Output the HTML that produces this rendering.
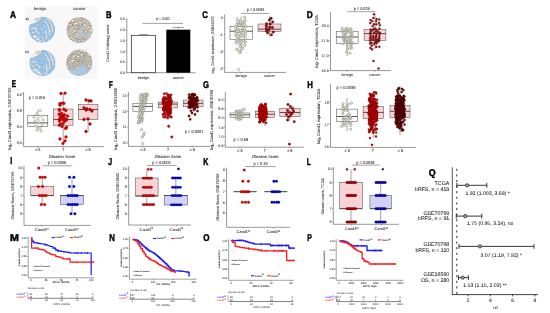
<!DOCTYPE html>
<html><head><meta charset="utf-8"><style>
html,body{margin:0;padding:0;background:#fff;width:550px;height:313px;overflow:hidden}
svg{display:block;filter:blur(0.3px)}
text{font-family:"Liberation Sans", sans-serif; text-rendering:geometricPrecision}
</style></head><body>
<svg width="550" height="313" viewBox="0 0 550 313">
<rect width="550" height="313" fill="#fff"/>
<text x="9.95" y="17.70" font-size="9.8" fill="#000" stroke="#000" stroke-width="0.45" font-weight="bold" textLength="6.00" lengthAdjust="spacingAndGlyphs">A</text>
<rect x="24.80" y="6.00" width="72.90" height="73.00" fill="#f8f8f8" stroke="none" stroke-width="0.5" />
<text x="40.00" y="9.80" font-size="4.0" text-anchor="middle" fill="#333" font-weight="normal"  stroke="#333" stroke-width="0.06">benign</text>
<text x="79.30" y="9.80" font-size="4.0" text-anchor="middle" fill="#333" font-weight="normal"  stroke="#333" stroke-width="0.06">cancer</text>
<text x="27.00" y="19.50" font-size="3.6" text-anchor="middle" fill="#333" font-weight="bold" >a)</text>
<text x="27.00" y="53.00" font-size="3.6" text-anchor="middle" fill="#333" font-weight="bold" >b)</text>
<clipPath id="cb1"><circle cx="42" cy="29.6" r="13.2"/></clipPath>
<g clip-path="url(#cb1)">
<circle cx="42.00" cy="29.60" r="13.20" fill="#98c0e2" stroke="none" stroke-width="0.3"/>
<ellipse cx="29.1" cy="25.2" rx="0.8" ry="0.6" fill="#c0d8ec" transform="rotate(171 29.1 25.2)"/>
<ellipse cx="42.9" cy="37.1" rx="0.5" ry="0.7" fill="#c0d8ec" transform="rotate(119 42.9 37.1)"/>
<ellipse cx="32.4" cy="33.6" rx="0.8" ry="0.5" fill="#8fb9dd" transform="rotate(17 32.4 33.6)"/>
<ellipse cx="29.3" cy="41.6" rx="0.8" ry="0.4" fill="#dde9f3" transform="rotate(71 29.3 41.6)"/>
<ellipse cx="44.6" cy="27.9" rx="1.1" ry="0.5" fill="#8fb9dd" transform="rotate(99 44.6 27.9)"/>
<ellipse cx="54.0" cy="39.6" rx="0.7" ry="0.4" fill="#dde9f3" transform="rotate(5 54.0 39.6)"/>
<ellipse cx="48.2" cy="40.2" rx="1.0" ry="0.4" fill="#dde9f3" transform="rotate(131 48.2 40.2)"/>
<ellipse cx="33.9" cy="35.7" rx="0.6" ry="0.3" fill="#dde9f3" transform="rotate(53 33.9 35.7)"/>
<ellipse cx="43.9" cy="32.5" rx="1.0" ry="0.4" fill="#c0d8ec" transform="rotate(176 43.9 32.5)"/>
<ellipse cx="55.0" cy="38.6" rx="0.7" ry="0.4" fill="#8fb9dd" transform="rotate(168 55.0 38.6)"/>
<ellipse cx="50.9" cy="28.8" rx="0.6" ry="0.3" fill="#8fb9dd" transform="rotate(67 50.9 28.8)"/>
<ellipse cx="54.1" cy="36.3" rx="0.7" ry="0.4" fill="#c0d8ec" transform="rotate(21 54.1 36.3)"/>
<ellipse cx="34.1" cy="29.6" rx="0.8" ry="0.3" fill="#8fb9dd" transform="rotate(21 34.1 29.6)"/>
<ellipse cx="31.4" cy="42.5" rx="0.5" ry="0.4" fill="#dde9f3" transform="rotate(29 31.4 42.5)"/>
<ellipse cx="54.9" cy="26.0" rx="0.5" ry="0.5" fill="#8fb9dd" transform="rotate(50 54.9 26.0)"/>
<ellipse cx="38.6" cy="35.1" rx="1.0" ry="0.3" fill="#c0d8ec" transform="rotate(87 38.6 35.1)"/>
<ellipse cx="49.8" cy="35.0" rx="0.8" ry="0.6" fill="#c0d8ec" transform="rotate(46 49.8 35.0)"/>
<ellipse cx="49.0" cy="42.5" rx="0.7" ry="0.3" fill="#dde9f3" transform="rotate(105 49.0 42.5)"/>
<ellipse cx="40.6" cy="42.7" rx="0.5" ry="0.5" fill="#8fb9dd" transform="rotate(9 40.6 42.7)"/>
<ellipse cx="45.0" cy="27.1" rx="0.6" ry="0.6" fill="#dde9f3" transform="rotate(124 45.0 27.1)"/>
<ellipse cx="43.4" cy="34.1" rx="0.9" ry="0.6" fill="#8fb9dd" transform="rotate(72 43.4 34.1)"/>
<ellipse cx="42.6" cy="37.2" rx="0.8" ry="0.6" fill="#dde9f3" transform="rotate(59 42.6 37.2)"/>
<ellipse cx="38.6" cy="33.3" rx="0.7" ry="0.4" fill="#dde9f3" transform="rotate(124 38.6 33.3)"/>
<ellipse cx="44.1" cy="26.3" rx="1.2" ry="0.3" fill="#dde9f3" transform="rotate(37 44.1 26.3)"/>
<ellipse cx="35.3" cy="40.5" rx="0.6" ry="0.7" fill="#dde9f3" transform="rotate(97 35.3 40.5)"/>
<ellipse cx="35.2" cy="38.4" rx="1.1" ry="0.6" fill="#c0d8ec" transform="rotate(85 35.2 38.4)"/>
<ellipse cx="50.7" cy="28.4" rx="0.9" ry="0.5" fill="#8fb9dd" transform="rotate(65 50.7 28.4)"/>
<ellipse cx="39.4" cy="39.2" rx="0.7" ry="0.4" fill="#c0d8ec" transform="rotate(58 39.4 39.2)"/>
<ellipse cx="36.6" cy="42.0" rx="0.5" ry="0.4" fill="#c0d8ec" transform="rotate(159 36.6 42.0)"/>
<ellipse cx="47.1" cy="40.6" rx="0.8" ry="0.6" fill="#8fb9dd" transform="rotate(33 47.1 40.6)"/>
<ellipse cx="29.7" cy="32.6" rx="0.7" ry="0.5" fill="#c0d8ec" transform="rotate(177 29.7 32.6)"/>
<ellipse cx="36.1" cy="28.4" rx="0.7" ry="0.7" fill="#c0d8ec" transform="rotate(104 36.1 28.4)"/>
<ellipse cx="39.5" cy="38.4" rx="0.6" ry="0.5" fill="#8fb9dd" transform="rotate(97 39.5 38.4)"/>
<ellipse cx="37.2" cy="24.9" rx="0.9" ry="0.4" fill="#dde9f3" transform="rotate(163 37.2 24.9)"/>
<ellipse cx="41.8" cy="29.1" rx="0.8" ry="0.7" fill="#dde9f3" transform="rotate(56 41.8 29.1)"/>
<ellipse cx="39.0" cy="36.4" rx="0.9" ry="0.4" fill="#dde9f3" transform="rotate(9 39.0 36.4)"/>
<ellipse cx="43.9" cy="42.0" rx="0.6" ry="0.6" fill="#dde9f3" transform="rotate(123 43.9 42.0)"/>
<ellipse cx="37.3" cy="42.5" rx="1.1" ry="0.3" fill="#c0d8ec" transform="rotate(131 37.3 42.5)"/>
<ellipse cx="48.9" cy="31.5" rx="1.1" ry="0.4" fill="#c0d8ec" transform="rotate(168 48.9 31.5)"/>
<ellipse cx="34.7" cy="40.1" rx="0.9" ry="0.3" fill="#dde9f3" transform="rotate(145 34.7 40.1)"/>
<ellipse cx="40.4" cy="32.5" rx="0.8" ry="0.6" fill="#8fb9dd" transform="rotate(149 40.4 32.5)"/>
<ellipse cx="48.0" cy="29.7" rx="0.6" ry="0.3" fill="#dde9f3" transform="rotate(10 48.0 29.7)"/>
<ellipse cx="43.8" cy="41.0" rx="0.7" ry="0.5" fill="#dde9f3" transform="rotate(39 43.8 41.0)"/>
<ellipse cx="30.3" cy="40.2" rx="0.8" ry="0.7" fill="#dde9f3" transform="rotate(81 30.3 40.2)"/>
<ellipse cx="39.4" cy="39.2" rx="1.1" ry="0.7" fill="#8fb9dd" transform="rotate(93 39.4 39.2)"/>
<ellipse cx="37.2" cy="27.7" rx="0.6" ry="0.3" fill="#c0d8ec" transform="rotate(25 37.2 27.7)"/>
<ellipse cx="44.3" cy="40.2" rx="1.2" ry="0.4" fill="#dde9f3" transform="rotate(84 44.3 40.2)"/>
<ellipse cx="36.1" cy="29.7" rx="1.2" ry="0.6" fill="#dde9f3" transform="rotate(108 36.1 29.7)"/>
<ellipse cx="50.5" cy="31.3" rx="0.5" ry="0.6" fill="#dde9f3" transform="rotate(146 50.5 31.3)"/>
<ellipse cx="54.3" cy="25.3" rx="1.2" ry="0.6" fill="#dde9f3" transform="rotate(48 54.3 25.3)"/>
<polygon points="28.0,25.1 32.0,24.1 35.5,22.6 38.5,21.1 40.2,18.6 40.8,15.6 28.0,15.6" fill="#f2f2f0"/>
<ellipse cx="37.7" cy="19.200000000000003" rx="3.0" ry="1.8" fill="#dccfb9"/>
<ellipse cx="35" cy="36.6" rx="2.2" ry="1.3" fill="#e6eef4" stroke="#c9b9a0" stroke-width="0.3"/>
<ellipse cx="38" cy="39.1" rx="1.8" ry="1.2" fill="#e6eef4" stroke="#c9b9a0" stroke-width="0.3"/>
<ellipse cx="33" cy="32.6" rx="1.5" ry="0.8" fill="#e6eef4" stroke="#c9b9a0" stroke-width="0.3"/>
<ellipse cx="40" cy="41.1" rx="1.5" ry="0.9" fill="#e6eef4" stroke="#c9b9a0" stroke-width="0.3"/>
<path d="M44.5,20.6 Q49.5,25.6 49.5,34.6" fill="none" stroke="#c7b9a2" stroke-width="1.2" stroke-linecap="round" opacity="0.8"/>
<path d="M44.5,20.6 Q49.5,25.6 49.5,34.6" fill="none" stroke="#f3f6f8" stroke-width="0.75" stroke-linecap="round"/>
<path d="M47.5,18.6 Q52.5,23.6 52.5,31.6" fill="none" stroke="#c7b9a2" stroke-width="1.2" stroke-linecap="round" opacity="0.8"/>
<path d="M47.5,18.6 Q52.5,23.6 52.5,31.6" fill="none" stroke="#f3f6f8" stroke-width="0.75" stroke-linecap="round"/>
<path d="M45.5,30.6 Q47,34.6 46.5,38.6" fill="none" stroke="#c7b9a2" stroke-width="1.2" stroke-linecap="round" opacity="0.8"/>
<path d="M45.5,30.6 Q47,34.6 46.5,38.6" fill="none" stroke="#f3f6f8" stroke-width="0.75" stroke-linecap="round"/>
<path d="M36,31.1 L39.5,33.6" fill="none" stroke="#c7b9a2" stroke-width="1.2" stroke-linecap="round" opacity="0.8"/>
<path d="M36,31.1 L39.5,33.6" fill="none" stroke="#f3f6f8" stroke-width="0.75" stroke-linecap="round"/>
<path d="M31,28.6 L36,28.1" fill="none" stroke="#c7b9a2" stroke-width="1.2" stroke-linecap="round" opacity="0.8"/>
<path d="M31,28.6 L36,28.1" fill="none" stroke="#f3f6f8" stroke-width="0.75" stroke-linecap="round"/>
</g>
<clipPath id="cb2"><circle cx="42.5" cy="63" r="13.2"/></clipPath>
<g clip-path="url(#cb2)">
<circle cx="42.50" cy="63.00" r="13.20" fill="#98c0e2" stroke="none" stroke-width="0.3"/>
<ellipse cx="53.8" cy="59.8" rx="1.3" ry="0.4" fill="#dde9f3" transform="rotate(56 53.8 59.8)"/>
<ellipse cx="47.0" cy="59.8" rx="0.6" ry="0.3" fill="#dde9f3" transform="rotate(177 47.0 59.8)"/>
<ellipse cx="33.8" cy="58.8" rx="0.8" ry="0.5" fill="#dde9f3" transform="rotate(171 33.8 58.8)"/>
<ellipse cx="46.4" cy="70.1" rx="1.0" ry="0.4" fill="#dde9f3" transform="rotate(101 46.4 70.1)"/>
<ellipse cx="45.6" cy="74.9" rx="0.7" ry="0.4" fill="#dde9f3" transform="rotate(162 45.6 74.9)"/>
<ellipse cx="29.7" cy="73.5" rx="0.9" ry="0.4" fill="#8fb9dd" transform="rotate(50 29.7 73.5)"/>
<ellipse cx="33.9" cy="70.9" rx="0.9" ry="0.5" fill="#c0d8ec" transform="rotate(27 33.9 70.9)"/>
<ellipse cx="33.0" cy="69.2" rx="0.8" ry="0.5" fill="#dde9f3" transform="rotate(152 33.0 69.2)"/>
<ellipse cx="39.1" cy="67.6" rx="1.2" ry="0.4" fill="#dde9f3" transform="rotate(98 39.1 67.6)"/>
<ellipse cx="39.5" cy="64.3" rx="0.4" ry="0.5" fill="#8fb9dd" transform="rotate(13 39.5 64.3)"/>
<ellipse cx="55.1" cy="71.1" rx="0.8" ry="0.6" fill="#c0d8ec" transform="rotate(115 55.1 71.1)"/>
<ellipse cx="38.1" cy="69.9" rx="1.2" ry="0.7" fill="#c0d8ec" transform="rotate(118 38.1 69.9)"/>
<ellipse cx="36.2" cy="76.0" rx="1.3" ry="0.7" fill="#dde9f3" transform="rotate(169 36.2 76.0)"/>
<ellipse cx="44.4" cy="73.0" rx="0.8" ry="0.3" fill="#8fb9dd" transform="rotate(46 44.4 73.0)"/>
<ellipse cx="39.2" cy="61.0" rx="1.0" ry="0.4" fill="#8fb9dd" transform="rotate(7 39.2 61.0)"/>
<ellipse cx="39.9" cy="71.9" rx="0.8" ry="0.4" fill="#c0d8ec" transform="rotate(31 39.9 71.9)"/>
<ellipse cx="37.4" cy="71.7" rx="1.1" ry="0.4" fill="#c0d8ec" transform="rotate(31 37.4 71.7)"/>
<ellipse cx="55.5" cy="69.7" rx="0.7" ry="0.6" fill="#8fb9dd" transform="rotate(174 55.5 69.7)"/>
<ellipse cx="42.8" cy="61.4" rx="1.2" ry="0.4" fill="#8fb9dd" transform="rotate(46 42.8 61.4)"/>
<ellipse cx="43.1" cy="75.5" rx="0.8" ry="0.4" fill="#c0d8ec" transform="rotate(61 43.1 75.5)"/>
<ellipse cx="41.4" cy="66.5" rx="0.4" ry="0.6" fill="#dde9f3" transform="rotate(5 41.4 66.5)"/>
<ellipse cx="32.9" cy="70.5" rx="0.7" ry="0.4" fill="#8fb9dd" transform="rotate(68 32.9 70.5)"/>
<ellipse cx="50.9" cy="59.6" rx="0.8" ry="0.5" fill="#dde9f3" transform="rotate(107 50.9 59.6)"/>
<ellipse cx="53.4" cy="73.5" rx="1.2" ry="0.6" fill="#dde9f3" transform="rotate(134 53.4 73.5)"/>
<ellipse cx="47.4" cy="71.4" rx="0.5" ry="0.4" fill="#8fb9dd" transform="rotate(3 47.4 71.4)"/>
<ellipse cx="36.5" cy="74.5" rx="1.0" ry="0.3" fill="#dde9f3" transform="rotate(57 36.5 74.5)"/>
<ellipse cx="53.5" cy="62.6" rx="1.3" ry="0.4" fill="#c0d8ec" transform="rotate(25 53.5 62.6)"/>
<ellipse cx="42.6" cy="63.5" rx="1.2" ry="0.6" fill="#8fb9dd" transform="rotate(30 42.6 63.5)"/>
<ellipse cx="48.3" cy="59.5" rx="1.1" ry="0.6" fill="#dde9f3" transform="rotate(98 48.3 59.5)"/>
<ellipse cx="55.7" cy="73.1" rx="0.4" ry="0.7" fill="#8fb9dd" transform="rotate(10 55.7 73.1)"/>
<ellipse cx="44.3" cy="67.8" rx="1.2" ry="0.6" fill="#dde9f3" transform="rotate(21 44.3 67.8)"/>
<ellipse cx="33.6" cy="61.9" rx="1.0" ry="0.4" fill="#c0d8ec" transform="rotate(35 33.6 61.9)"/>
<ellipse cx="41.9" cy="65.2" rx="0.9" ry="0.7" fill="#8fb9dd" transform="rotate(17 41.9 65.2)"/>
<ellipse cx="43.0" cy="58.1" rx="1.1" ry="0.7" fill="#8fb9dd" transform="rotate(164 43.0 58.1)"/>
<ellipse cx="30.7" cy="60.4" rx="0.9" ry="0.4" fill="#8fb9dd" transform="rotate(138 30.7 60.4)"/>
<ellipse cx="52.0" cy="63.7" rx="0.9" ry="0.6" fill="#8fb9dd" transform="rotate(125 52.0 63.7)"/>
<ellipse cx="48.7" cy="68.8" rx="0.8" ry="0.5" fill="#dde9f3" transform="rotate(59 48.7 68.8)"/>
<ellipse cx="49.4" cy="74.7" rx="0.4" ry="0.4" fill="#c0d8ec" transform="rotate(15 49.4 74.7)"/>
<ellipse cx="41.9" cy="62.9" rx="0.8" ry="0.3" fill="#dde9f3" transform="rotate(66 41.9 62.9)"/>
<ellipse cx="34.4" cy="70.7" rx="0.8" ry="0.3" fill="#c0d8ec" transform="rotate(110 34.4 70.7)"/>
<ellipse cx="51.0" cy="57.6" rx="0.7" ry="0.7" fill="#dde9f3" transform="rotate(53 51.0 57.6)"/>
<ellipse cx="43.0" cy="60.7" rx="0.8" ry="0.7" fill="#8fb9dd" transform="rotate(17 43.0 60.7)"/>
<ellipse cx="36.2" cy="72.2" rx="1.0" ry="0.5" fill="#dde9f3" transform="rotate(93 36.2 72.2)"/>
<ellipse cx="31.2" cy="64.9" rx="0.8" ry="0.5" fill="#dde9f3" transform="rotate(141 31.2 64.9)"/>
<ellipse cx="54.2" cy="64.3" rx="1.2" ry="0.4" fill="#dde9f3" transform="rotate(135 54.2 64.3)"/>
<ellipse cx="52.7" cy="66.9" rx="0.5" ry="0.5" fill="#8fb9dd" transform="rotate(53 52.7 66.9)"/>
<ellipse cx="44.3" cy="73.5" rx="1.0" ry="0.5" fill="#dde9f3" transform="rotate(82 44.3 73.5)"/>
<ellipse cx="46.5" cy="73.3" rx="1.0" ry="0.7" fill="#dde9f3" transform="rotate(63 46.5 73.3)"/>
<ellipse cx="29.5" cy="72.9" rx="0.9" ry="0.3" fill="#8fb9dd" transform="rotate(95 29.5 72.9)"/>
<ellipse cx="43.9" cy="59.0" rx="0.7" ry="0.7" fill="#dde9f3" transform="rotate(119 43.9 59.0)"/>
<polygon points="28.5,58.5 32.5,57.5 36.0,56.0 39.0,54.5 40.7,52.0 41.3,49.0 28.5,49.0" fill="#f2f2f0"/>
<ellipse cx="38.2" cy="52.6" rx="3.0" ry="1.8" fill="#dccfb9"/>
<ellipse cx="35.5" cy="70" rx="2.2" ry="1.3" fill="#e6eef4" stroke="#c9b9a0" stroke-width="0.3"/>
<ellipse cx="38.5" cy="72.5" rx="1.8" ry="1.2" fill="#e6eef4" stroke="#c9b9a0" stroke-width="0.3"/>
<ellipse cx="33.5" cy="66" rx="1.5" ry="0.8" fill="#e6eef4" stroke="#c9b9a0" stroke-width="0.3"/>
<ellipse cx="40.5" cy="74.5" rx="1.5" ry="0.9" fill="#e6eef4" stroke="#c9b9a0" stroke-width="0.3"/>
<path d="M45.0,54 Q50.0,59 50.0,68" fill="none" stroke="#c7b9a2" stroke-width="1.2" stroke-linecap="round" opacity="0.8"/>
<path d="M45.0,54 Q50.0,59 50.0,68" fill="none" stroke="#f3f6f8" stroke-width="0.75" stroke-linecap="round"/>
<path d="M48.0,52 Q53.0,57 53.0,65" fill="none" stroke="#c7b9a2" stroke-width="1.2" stroke-linecap="round" opacity="0.8"/>
<path d="M48.0,52 Q53.0,57 53.0,65" fill="none" stroke="#f3f6f8" stroke-width="0.75" stroke-linecap="round"/>
<path d="M46.0,64 Q47.5,68 47.0,72" fill="none" stroke="#c7b9a2" stroke-width="1.2" stroke-linecap="round" opacity="0.8"/>
<path d="M46.0,64 Q47.5,68 47.0,72" fill="none" stroke="#f3f6f8" stroke-width="0.75" stroke-linecap="round"/>
<path d="M36.5,64.5 L40.0,67" fill="none" stroke="#c7b9a2" stroke-width="1.2" stroke-linecap="round" opacity="0.8"/>
<path d="M36.5,64.5 L40.0,67" fill="none" stroke="#f3f6f8" stroke-width="0.75" stroke-linecap="round"/>
<path d="M31.5,62 L36.5,61.5" fill="none" stroke="#c7b9a2" stroke-width="1.2" stroke-linecap="round" opacity="0.8"/>
<path d="M31.5,62 L36.5,61.5" fill="none" stroke="#f3f6f8" stroke-width="0.75" stroke-linecap="round"/>
</g>
<clipPath id="cc1"><circle cx="79.5" cy="30.0" r="13.0"/></clipPath>
<g clip-path="url(#cc1)">
<circle cx="79.50" cy="30.00" r="13.00" fill="#cbc6bd" stroke="none" stroke-width="0.3"/>
<ellipse cx="83.5" cy="36.0" rx="4" ry="2.5" fill="#a9c8e3" transform="rotate(30 83.5 36.0)"/>
<ellipse cx="87.5" cy="32.0" rx="2.5" ry="1.5" fill="#a9c8e3" transform="rotate(60 87.5 32.0)"/>
<ellipse cx="77.5" cy="40.0" rx="3" ry="1.5" fill="#a9c8e3" transform="rotate(0 77.5 40.0)"/>
<ellipse cx="80.5" cy="27.0" rx="1.2" ry="4" fill="#a9c8e3" transform="rotate(10 80.5 27.0)"/>
<ellipse cx="90.0" cy="34.8" rx="1.9" ry="1.1" fill="#f7f7f5" stroke="#806c57" stroke-width="0.4" transform="rotate(47 90.0 34.8)"/>
<ellipse cx="83.0" cy="40.5" rx="2.0" ry="0.9" fill="#f7f7f5" stroke="#806c57" stroke-width="0.4" transform="rotate(30 83.0 40.5)"/>
<ellipse cx="77.2" cy="42.8" rx="0.9" ry="0.7" fill="#f7f7f5" stroke="#806c57" stroke-width="0.4" transform="rotate(171 77.2 42.8)"/>
<ellipse cx="78.2" cy="22.4" rx="1.2" ry="1.1" fill="#f7f7f5" stroke="#806c57" stroke-width="0.4" transform="rotate(60 78.2 22.4)"/>
<ellipse cx="77.6" cy="33.3" rx="1.9" ry="0.8" fill="#f7f7f5" stroke="#806c57" stroke-width="0.4" transform="rotate(15 77.6 33.3)"/>
<ellipse cx="81.4" cy="17.9" rx="0.9" ry="0.6" fill="#f7f7f5" stroke="#806c57" stroke-width="0.4" transform="rotate(125 81.4 17.9)"/>
<ellipse cx="73.9" cy="34.9" rx="1.0" ry="0.6" fill="#f7f7f5" stroke="#806c57" stroke-width="0.4" transform="rotate(4 73.9 34.9)"/>
<ellipse cx="84.9" cy="39.3" rx="1.1" ry="0.7" fill="#f7f7f5" stroke="#806c57" stroke-width="0.4" transform="rotate(2 84.9 39.3)"/>
<ellipse cx="83.3" cy="24.8" rx="1.0" ry="1.0" fill="#f7f7f5" stroke="#806c57" stroke-width="0.4" transform="rotate(108 83.3 24.8)"/>
<ellipse cx="78.1" cy="21.0" rx="1.7" ry="0.9" fill="#f7f7f5" stroke="#806c57" stroke-width="0.4" transform="rotate(78 78.1 21.0)"/>
<ellipse cx="70.8" cy="41.1" rx="2.0" ry="1.0" fill="#f7f7f5" stroke="#806c57" stroke-width="0.4" transform="rotate(179 70.8 41.1)"/>
<ellipse cx="81.6" cy="26.0" rx="1.0" ry="0.9" fill="#f7f7f5" stroke="#806c57" stroke-width="0.4" transform="rotate(94 81.6 26.0)"/>
<ellipse cx="77.8" cy="42.8" rx="2.0" ry="0.6" fill="#f7f7f5" stroke="#806c57" stroke-width="0.4" transform="rotate(159 77.8 42.8)"/>
<ellipse cx="66.6" cy="33.9" rx="1.2" ry="1.0" fill="#f7f7f5" stroke="#806c57" stroke-width="0.4" transform="rotate(171 66.6 33.9)"/>
<ellipse cx="80.3" cy="36.8" rx="0.9" ry="1.0" fill="#f7f7f5" stroke="#806c57" stroke-width="0.4" transform="rotate(21 80.3 36.8)"/>
<ellipse cx="78.3" cy="25.7" rx="0.9" ry="1.0" fill="#f7f7f5" stroke="#806c57" stroke-width="0.4" transform="rotate(17 78.3 25.7)"/>
<ellipse cx="73.2" cy="19.2" rx="1.7" ry="0.7" fill="#f7f7f5" stroke="#806c57" stroke-width="0.4" transform="rotate(8 73.2 19.2)"/>
<ellipse cx="67.2" cy="22.7" rx="1.5" ry="0.5" fill="#f7f7f5" stroke="#806c57" stroke-width="0.4" transform="rotate(4 67.2 22.7)"/>
<ellipse cx="83.8" cy="30.7" rx="1.0" ry="0.7" fill="#f7f7f5" stroke="#806c57" stroke-width="0.4" transform="rotate(23 83.8 30.7)"/>
<ellipse cx="73.7" cy="27.1" rx="1.1" ry="0.6" fill="#f7f7f5" stroke="#806c57" stroke-width="0.4" transform="rotate(41 73.7 27.1)"/>
<ellipse cx="74.3" cy="31.4" rx="2.0" ry="1.0" fill="#f7f7f5" stroke="#806c57" stroke-width="0.4" transform="rotate(81 74.3 31.4)"/>
<ellipse cx="66.6" cy="21.9" rx="1.7" ry="0.8" fill="#f7f7f5" stroke="#806c57" stroke-width="0.4" transform="rotate(152 66.6 21.9)"/>
<ellipse cx="90.1" cy="24.7" rx="1.3" ry="0.7" fill="#f7f7f5" stroke="#806c57" stroke-width="0.4" transform="rotate(122 90.1 24.7)"/>
<ellipse cx="69.1" cy="24.2" rx="2.0" ry="0.8" fill="#f7f7f5" stroke="#806c57" stroke-width="0.4" transform="rotate(175 69.1 24.2)"/>
<ellipse cx="76.8" cy="38.8" rx="1.4" ry="0.6" fill="#f7f7f5" stroke="#806c57" stroke-width="0.4" transform="rotate(104 76.8 38.8)"/>
<ellipse cx="72.0" cy="40.9" rx="1.8" ry="0.9" fill="#f7f7f5" stroke="#806c57" stroke-width="0.4" transform="rotate(166 72.0 40.9)"/>
<ellipse cx="80.7" cy="42.1" rx="1.8" ry="0.6" fill="#f7f7f5" stroke="#806c57" stroke-width="0.4" transform="rotate(53 80.7 42.1)"/>
<ellipse cx="88.5" cy="19.6" rx="2.2" ry="0.5" fill="#f7f7f5" stroke="#806c57" stroke-width="0.4" transform="rotate(135 88.5 19.6)"/>
<ellipse cx="82.6" cy="27.6" rx="1.6" ry="0.9" fill="#f7f7f5" stroke="#806c57" stroke-width="0.4" transform="rotate(65 82.6 27.6)"/>
<ellipse cx="73.9" cy="18.3" rx="1.7" ry="1.1" fill="#f7f7f5" stroke="#806c57" stroke-width="0.4" transform="rotate(68 73.9 18.3)"/>
<ellipse cx="88.8" cy="27.3" rx="1.2" ry="1.1" fill="#f7f7f5" stroke="#806c57" stroke-width="0.4" transform="rotate(167 88.8 27.3)"/>
<ellipse cx="68.9" cy="39.7" rx="1.2" ry="1.0" fill="#f7f7f5" stroke="#806c57" stroke-width="0.4" transform="rotate(53 68.9 39.7)"/>
<ellipse cx="92.2" cy="25.8" rx="1.1" ry="0.5" fill="#f7f7f5" stroke="#806c57" stroke-width="0.4" transform="rotate(24 92.2 25.8)"/>
<ellipse cx="68.9" cy="38.3" rx="0.8" ry="0.6" fill="#f7f7f5" stroke="#806c57" stroke-width="0.4" transform="rotate(43 68.9 38.3)"/>
<ellipse cx="70.2" cy="37.2" rx="0.8" ry="1.0" fill="#f7f7f5" stroke="#806c57" stroke-width="0.4" transform="rotate(63 70.2 37.2)"/>
<ellipse cx="70.3" cy="23.0" rx="1.5" ry="0.7" fill="#f7f7f5" stroke="#806c57" stroke-width="0.4" transform="rotate(70 70.3 23.0)"/>
<ellipse cx="76.6" cy="30.9" rx="1.8" ry="0.7" fill="#f7f7f5" stroke="#806c57" stroke-width="0.4" transform="rotate(110 76.6 30.9)"/>
<ellipse cx="85.1" cy="24.7" rx="1.9" ry="0.6" fill="#f7f7f5" stroke="#806c57" stroke-width="0.4" transform="rotate(89 85.1 24.7)"/>
<ellipse cx="75.7" cy="20.3" rx="1.7" ry="1.1" fill="#f7f7f5" stroke="#806c57" stroke-width="0.4" transform="rotate(87 75.7 20.3)"/>
<ellipse cx="75.7" cy="40.5" rx="2.2" ry="0.9" fill="#f7f7f5" stroke="#806c57" stroke-width="0.4" transform="rotate(101 75.7 40.5)"/>
<ellipse cx="83.1" cy="35.3" rx="1.8" ry="0.9" fill="#f7f7f5" stroke="#806c57" stroke-width="0.4" transform="rotate(135 83.1 35.3)"/>
<ellipse cx="85.9" cy="33.8" rx="1.5" ry="0.8" fill="#f7f7f5" stroke="#806c57" stroke-width="0.4" transform="rotate(39 85.9 33.8)"/>
<ellipse cx="79.7" cy="25.0" rx="1.5" ry="0.6" fill="#f7f7f5" stroke="#806c57" stroke-width="0.4" transform="rotate(163 79.7 25.0)"/>
<ellipse cx="69.8" cy="39.9" rx="1.6" ry="1.1" fill="#f7f7f5" stroke="#806c57" stroke-width="0.4" transform="rotate(159 69.8 39.9)"/>
<ellipse cx="70.9" cy="24.1" rx="2.2" ry="1.0" fill="#f7f7f5" stroke="#806c57" stroke-width="0.4" transform="rotate(15 70.9 24.1)"/>
<ellipse cx="73.4" cy="19.5" rx="1.2" ry="0.6" fill="#f7f7f5" stroke="#806c57" stroke-width="0.4" transform="rotate(7 73.4 19.5)"/>
<ellipse cx="67.7" cy="29.3" rx="1.8" ry="0.9" fill="#f7f7f5" stroke="#806c57" stroke-width="0.4" transform="rotate(121 67.7 29.3)"/>
<ellipse cx="83.5" cy="20.5" rx="1.8" ry="0.9" fill="#f7f7f5" stroke="#806c57" stroke-width="0.4" transform="rotate(75 83.5 20.5)"/>
<ellipse cx="91.5" cy="28.8" rx="1.8" ry="1.0" fill="#f7f7f5" stroke="#806c57" stroke-width="0.4" transform="rotate(87 91.5 28.8)"/>
<ellipse cx="70.5" cy="21.9" rx="1.2" ry="0.6" fill="#f7f7f5" stroke="#806c57" stroke-width="0.4" transform="rotate(72 70.5 21.9)"/>
<ellipse cx="68.3" cy="37.0" rx="1.9" ry="0.9" fill="#f7f7f5" stroke="#806c57" stroke-width="0.4" transform="rotate(21 68.3 37.0)"/>
<ellipse cx="72.2" cy="40.4" rx="2.0" ry="1.0" fill="#f7f7f5" stroke="#806c57" stroke-width="0.4" transform="rotate(156 72.2 40.4)"/>
<ellipse cx="71.9" cy="24.5" rx="1.4" ry="0.8" fill="#f7f7f5" stroke="#806c57" stroke-width="0.4" transform="rotate(66 71.9 24.5)"/>
<ellipse cx="72.9" cy="38.1" rx="1.1" ry="0.9" fill="#f7f7f5" stroke="#806c57" stroke-width="0.4" transform="rotate(147 72.9 38.1)"/>
<ellipse cx="70.4" cy="25.7" rx="1.3" ry="0.7" fill="#f7f7f5" stroke="#806c57" stroke-width="0.4" transform="rotate(165 70.4 25.7)"/>
<ellipse cx="89.3" cy="20.3" rx="0.9" ry="0.9" fill="#f7f7f5" stroke="#806c57" stroke-width="0.4" transform="rotate(91 89.3 20.3)"/>
<ellipse cx="67.5" cy="39.5" rx="2.0" ry="0.9" fill="#f7f7f5" stroke="#806c57" stroke-width="0.4" transform="rotate(16 67.5 39.5)"/>
<ellipse cx="71.5" cy="38.8" rx="1.8" ry="0.8" fill="#f7f7f5" stroke="#806c57" stroke-width="0.4" transform="rotate(168 71.5 38.8)"/>
<ellipse cx="67.6" cy="34.8" rx="2.0" ry="1.1" fill="#f7f7f5" stroke="#806c57" stroke-width="0.4" transform="rotate(17 67.6 34.8)"/>
<ellipse cx="84.8" cy="31.7" rx="1.7" ry="0.6" fill="#f7f7f5" stroke="#806c57" stroke-width="0.4" transform="rotate(173 84.8 31.7)"/>
<ellipse cx="91.7" cy="20.0" rx="1.6" ry="0.9" fill="#f7f7f5" stroke="#806c57" stroke-width="0.4" transform="rotate(80 91.7 20.0)"/>
<ellipse cx="75.2" cy="23.2" rx="1.8" ry="0.9" fill="#f7f7f5" stroke="#806c57" stroke-width="0.4" transform="rotate(81 75.2 23.2)"/>
<ellipse cx="79.7" cy="24.4" rx="2.1" ry="1.0" fill="#f7f7f5" stroke="#806c57" stroke-width="0.4" transform="rotate(47 79.7 24.4)"/>
<ellipse cx="74.5" cy="30.9" rx="1.7" ry="1.1" fill="#f7f7f5" stroke="#806c57" stroke-width="0.4" transform="rotate(167 74.5 30.9)"/>
<ellipse cx="68.1" cy="39.5" rx="0.8" ry="0.9" fill="#f7f7f5" stroke="#806c57" stroke-width="0.4" transform="rotate(139 68.1 39.5)"/>
<ellipse cx="71.1" cy="22.9" rx="0.9" ry="0.8" fill="#f7f7f5" stroke="#806c57" stroke-width="0.4" transform="rotate(150 71.1 22.9)"/>
<ellipse cx="66.5" cy="36.6" rx="1.3" ry="1.2" fill="#f7f7f5" stroke="#806c57" stroke-width="0.4" transform="rotate(101 66.5 36.6)"/>
<ellipse cx="78.5" cy="24.4" rx="2.0" ry="0.8" fill="#f7f7f5" stroke="#806c57" stroke-width="0.4" transform="rotate(126 78.5 24.4)"/>
<ellipse cx="83.7" cy="38.3" rx="1.2" ry="0.6" fill="#f7f7f5" stroke="#806c57" stroke-width="0.4" transform="rotate(34 83.7 38.3)"/>
<ellipse cx="82.7" cy="20.1" rx="0.8" ry="0.7" fill="#f7f7f5" stroke="#806c57" stroke-width="0.4" transform="rotate(119 82.7 20.1)"/>
<ellipse cx="71.2" cy="24.6" rx="1.0" ry="1.2" fill="#f7f7f5" stroke="#806c57" stroke-width="0.4" transform="rotate(164 71.2 24.6)"/>
<ellipse cx="92.2" cy="33.5" rx="1.3" ry="0.7" fill="#f7f7f5" stroke="#806c57" stroke-width="0.4" transform="rotate(61 92.2 33.5)"/>
<ellipse cx="86.8" cy="31.1" rx="1.0" ry="1.1" fill="#f7f7f5" stroke="#806c57" stroke-width="0.4" transform="rotate(154 86.8 31.1)"/>
<ellipse cx="66.8" cy="19.4" rx="1.5" ry="0.8" fill="#f7f7f5" stroke="#806c57" stroke-width="0.4" transform="rotate(149 66.8 19.4)"/>
<ellipse cx="72.0" cy="42.6" rx="1.3" ry="0.6" fill="#f7f7f5" stroke="#806c57" stroke-width="0.4" transform="rotate(176 72.0 42.6)"/>
<ellipse cx="86.3" cy="37.6" rx="1.0" ry="1.2" fill="#f7f7f5" stroke="#806c57" stroke-width="0.4" transform="rotate(55 86.3 37.6)"/>
<ellipse cx="78.6" cy="39.7" rx="1.0" ry="0.5" fill="#f7f7f5" stroke="#806c57" stroke-width="0.4" transform="rotate(111 78.6 39.7)"/>
<ellipse cx="79.7" cy="41.7" rx="2.2" ry="0.8" fill="#f7f7f5" stroke="#806c57" stroke-width="0.4" transform="rotate(135 79.7 41.7)"/>
<ellipse cx="67.1" cy="35.7" rx="1.4" ry="0.7" fill="#f7f7f5" stroke="#806c57" stroke-width="0.4" transform="rotate(51 67.1 35.7)"/>
<ellipse cx="78.7" cy="28.8" rx="1.2" ry="0.5" fill="#f7f7f5" stroke="#806c57" stroke-width="0.4" transform="rotate(6 78.7 28.8)"/>
<ellipse cx="67.0" cy="39.1" rx="1.4" ry="0.8" fill="#f7f7f5" stroke="#806c57" stroke-width="0.4" transform="rotate(165 67.0 39.1)"/>
<ellipse cx="68.7" cy="38.3" rx="2.0" ry="0.8" fill="#f7f7f5" stroke="#806c57" stroke-width="0.4" transform="rotate(127 68.7 38.3)"/>
<ellipse cx="67.1" cy="27.2" rx="0.8" ry="1.0" fill="#f7f7f5" stroke="#806c57" stroke-width="0.4" transform="rotate(175 67.1 27.2)"/>
<ellipse cx="90.6" cy="30.7" rx="1.9" ry="1.0" fill="#f7f7f5" stroke="#806c57" stroke-width="0.4" transform="rotate(1 90.6 30.7)"/>
<ellipse cx="74.7" cy="19.6" rx="1.4" ry="0.7" fill="#f7f7f5" stroke="#806c57" stroke-width="0.4" transform="rotate(5 74.7 19.6)"/>
<ellipse cx="66.8" cy="20.0" rx="1.6" ry="1.1" fill="#f7f7f5" stroke="#806c57" stroke-width="0.4" transform="rotate(115 66.8 20.0)"/>
<ellipse cx="89.3" cy="23.0" rx="1.1" ry="0.8" fill="#f7f7f5" stroke="#806c57" stroke-width="0.4" transform="rotate(13 89.3 23.0)"/>
<ellipse cx="80.1" cy="20.0" rx="0.9" ry="1.1" fill="#f7f7f5" stroke="#806c57" stroke-width="0.4" transform="rotate(45 80.1 20.0)"/>
<ellipse cx="78.2" cy="29.0" rx="0.9" ry="0.5" fill="#f7f7f5" stroke="#806c57" stroke-width="0.4" transform="rotate(156 78.2 29.0)"/>
<ellipse cx="90.2" cy="36.7" rx="1.4" ry="0.6" fill="#f7f7f5" stroke="#806c57" stroke-width="0.4" transform="rotate(28 90.2 36.7)"/>
<ellipse cx="80.1" cy="22.6" rx="1.7" ry="1.2" fill="#f7f7f5" stroke="#806c57" stroke-width="0.4" transform="rotate(169 80.1 22.6)"/>
<ellipse cx="72.9" cy="23.2" rx="0.9" ry="1.1" fill="#f7f7f5" stroke="#806c57" stroke-width="0.4" transform="rotate(174 72.9 23.2)"/>
<ellipse cx="88.1" cy="35.9" rx="1.6" ry="1.1" fill="#f7f7f5" stroke="#806c57" stroke-width="0.4" transform="rotate(57 88.1 35.9)"/>
<ellipse cx="79.3" cy="40.9" rx="1.6" ry="0.8" fill="#f7f7f5" stroke="#806c57" stroke-width="0.4" transform="rotate(36 79.3 40.9)"/>
<ellipse cx="73.9" cy="39.4" rx="1.6" ry="1.0" fill="#f7f7f5" stroke="#806c57" stroke-width="0.4" transform="rotate(152 73.9 39.4)"/>
<ellipse cx="85.5" cy="30.8" rx="0.9" ry="1.1" fill="#f7f7f5" stroke="#806c57" stroke-width="0.4" transform="rotate(42 85.5 30.8)"/>
<ellipse cx="71.2" cy="17.9" rx="1.5" ry="0.9" fill="#f7f7f5" stroke="#806c57" stroke-width="0.4" transform="rotate(19 71.2 17.9)"/>
<ellipse cx="69.3" cy="28.9" rx="1.5" ry="0.7" fill="#f7f7f5" stroke="#806c57" stroke-width="0.4" transform="rotate(163 69.3 28.9)"/>
<ellipse cx="77.8" cy="23.5" rx="1.9" ry="1.0" fill="#f7f7f5" stroke="#806c57" stroke-width="0.4" transform="rotate(56 77.8 23.5)"/>
<ellipse cx="75.6" cy="28.1" rx="0.9" ry="1.1" fill="#f7f7f5" stroke="#806c57" stroke-width="0.4" transform="rotate(37 75.6 28.1)"/>
<ellipse cx="72.1" cy="35.8" rx="1.5" ry="1.0" fill="#f7f7f5" stroke="#806c57" stroke-width="0.4" transform="rotate(27 72.1 35.8)"/>
<ellipse cx="83.7" cy="42.0" rx="2.2" ry="0.5" fill="#f7f7f5" stroke="#806c57" stroke-width="0.4" transform="rotate(26 83.7 42.0)"/>
<ellipse cx="72.2" cy="32.1" rx="1.5" ry="0.8" fill="#f7f7f5" stroke="#806c57" stroke-width="0.4" transform="rotate(46 72.2 32.1)"/>
<ellipse cx="69.3" cy="29.0" rx="1.1" ry="1.0" fill="#f7f7f5" stroke="#806c57" stroke-width="0.4" transform="rotate(176 69.3 29.0)"/>
<ellipse cx="70.0" cy="40.3" rx="2.1" ry="0.8" fill="#f7f7f5" stroke="#806c57" stroke-width="0.4" transform="rotate(5 70.0 40.3)"/>
<ellipse cx="75.4" cy="23.7" rx="1.8" ry="1.2" fill="#f7f7f5" stroke="#806c57" stroke-width="0.4" transform="rotate(173 75.4 23.7)"/>
<ellipse cx="72.2" cy="22.9" rx="1.4" ry="0.7" fill="#f7f7f5" stroke="#806c57" stroke-width="0.4" transform="rotate(117 72.2 22.9)"/>
<ellipse cx="82.5" cy="17.3" rx="1.1" ry="0.8" fill="#f7f7f5" stroke="#806c57" stroke-width="0.4" transform="rotate(76 82.5 17.3)"/>
<ellipse cx="85.8" cy="19.1" rx="0.9" ry="0.8" fill="#f7f7f5" stroke="#806c57" stroke-width="0.4" transform="rotate(32 85.8 19.1)"/>
<ellipse cx="69.8" cy="42.3" rx="1.8" ry="0.5" fill="#f7f7f5" stroke="#806c57" stroke-width="0.4" transform="rotate(135 69.8 42.3)"/>
<ellipse cx="69.6" cy="41.5" rx="1.1" ry="0.7" fill="#f7f7f5" stroke="#806c57" stroke-width="0.4" transform="rotate(8 69.6 41.5)"/>
<ellipse cx="72.5" cy="20.6" rx="1.8" ry="1.2" fill="#f7f7f5" stroke="#806c57" stroke-width="0.4" transform="rotate(20 72.5 20.6)"/>
<ellipse cx="73.1" cy="38.7" rx="1.6" ry="1.1" fill="#f7f7f5" stroke="#806c57" stroke-width="0.4" transform="rotate(57 73.1 38.7)"/>
<ellipse cx="68.3" cy="28.5" rx="1.4" ry="0.6" fill="#f7f7f5" stroke="#806c57" stroke-width="0.4" transform="rotate(114 68.3 28.5)"/>
<ellipse cx="85.6" cy="31.8" rx="1.8" ry="1.0" fill="#f7f7f5" stroke="#806c57" stroke-width="0.4" transform="rotate(157 85.6 31.8)"/>
<ellipse cx="84.9" cy="25.2" rx="2.0" ry="1.1" fill="#f7f7f5" stroke="#806c57" stroke-width="0.4" transform="rotate(153 84.9 25.2)"/>
<ellipse cx="90.4" cy="17.1" rx="2.0" ry="1.1" fill="#f7f7f5" stroke="#806c57" stroke-width="0.4" transform="rotate(61 90.4 17.1)"/>
<ellipse cx="70.9" cy="37.4" rx="2.0" ry="0.8" fill="#f7f7f5" stroke="#806c57" stroke-width="0.4" transform="rotate(9 70.9 37.4)"/>
<ellipse cx="70.4" cy="24.8" rx="1.7" ry="1.0" fill="#f7f7f5" stroke="#806c57" stroke-width="0.4" transform="rotate(18 70.4 24.8)"/>
<ellipse cx="68.4" cy="33.4" rx="1.4" ry="0.9" fill="#f7f7f5" stroke="#806c57" stroke-width="0.4" transform="rotate(165 68.4 33.4)"/>
</g>
<clipPath id="cc2"><circle cx="79.3" cy="62.8" r="13.2"/></clipPath>
<g clip-path="url(#cc2)">
<circle cx="79.30" cy="62.80" r="13.20" fill="#bfb8ac" stroke="none" stroke-width="0.3"/>
<ellipse cx="79.3" cy="70.8" rx="10" ry="4" fill="#a9c8e3" transform="rotate(0 79.3 70.8)"/>
<ellipse cx="85.3" cy="66.8" rx="4" ry="2" fill="#a9c8e3" transform="rotate(20 85.3 66.8)"/>
<ellipse cx="72.3" cy="67.8" rx="3" ry="2" fill="#a9c8e3" transform="rotate(-20 72.3 67.8)"/>
<ellipse cx="81.3" cy="60.8" rx="1.5" ry="3" fill="#a9c8e3" transform="rotate(0 81.3 60.8)"/>
<ellipse cx="84.1" cy="51.4" rx="1.7" ry="1.1" fill="#f7f7f5" stroke="#806c57" stroke-width="0.4" transform="rotate(150 84.1 51.4)"/>
<ellipse cx="79.7" cy="62.1" rx="1.3" ry="0.9" fill="#f7f7f5" stroke="#806c57" stroke-width="0.4" transform="rotate(19 79.7 62.1)"/>
<ellipse cx="84.1" cy="61.5" rx="1.2" ry="0.8" fill="#f7f7f5" stroke="#806c57" stroke-width="0.4" transform="rotate(133 84.1 61.5)"/>
<ellipse cx="77.8" cy="68.6" rx="2.2" ry="1.1" fill="#f7f7f5" stroke="#806c57" stroke-width="0.4" transform="rotate(16 77.8 68.6)"/>
<ellipse cx="68.1" cy="55.3" rx="1.3" ry="1.0" fill="#f7f7f5" stroke="#806c57" stroke-width="0.4" transform="rotate(149 68.1 55.3)"/>
<ellipse cx="81.0" cy="62.3" rx="1.6" ry="0.5" fill="#f7f7f5" stroke="#806c57" stroke-width="0.4" transform="rotate(95 81.0 62.3)"/>
<ellipse cx="71.7" cy="57.9" rx="0.8" ry="1.0" fill="#f7f7f5" stroke="#806c57" stroke-width="0.4" transform="rotate(164 71.7 57.9)"/>
<ellipse cx="67.9" cy="61.1" rx="0.8" ry="0.7" fill="#f7f7f5" stroke="#806c57" stroke-width="0.4" transform="rotate(29 67.9 61.1)"/>
<ellipse cx="88.8" cy="64.0" rx="2.1" ry="0.7" fill="#f7f7f5" stroke="#806c57" stroke-width="0.4" transform="rotate(129 88.8 64.0)"/>
<ellipse cx="84.6" cy="59.7" rx="2.1" ry="0.9" fill="#f7f7f5" stroke="#806c57" stroke-width="0.4" transform="rotate(51 84.6 59.7)"/>
<ellipse cx="85.0" cy="59.1" rx="1.1" ry="0.9" fill="#f7f7f5" stroke="#806c57" stroke-width="0.4" transform="rotate(9 85.0 59.1)"/>
<ellipse cx="78.0" cy="60.6" rx="0.8" ry="1.0" fill="#f7f7f5" stroke="#806c57" stroke-width="0.4" transform="rotate(16 78.0 60.6)"/>
<ellipse cx="83.3" cy="56.4" rx="0.8" ry="1.2" fill="#f7f7f5" stroke="#806c57" stroke-width="0.4" transform="rotate(12 83.3 56.4)"/>
<ellipse cx="70.2" cy="59.6" rx="1.1" ry="0.9" fill="#f7f7f5" stroke="#806c57" stroke-width="0.4" transform="rotate(85 70.2 59.6)"/>
<ellipse cx="81.3" cy="60.4" rx="1.2" ry="0.6" fill="#f7f7f5" stroke="#806c57" stroke-width="0.4" transform="rotate(125 81.3 60.4)"/>
<ellipse cx="77.4" cy="59.9" rx="2.1" ry="0.5" fill="#f7f7f5" stroke="#806c57" stroke-width="0.4" transform="rotate(50 77.4 59.9)"/>
<ellipse cx="81.0" cy="50.7" rx="1.9" ry="0.8" fill="#f7f7f5" stroke="#806c57" stroke-width="0.4" transform="rotate(57 81.0 50.7)"/>
<ellipse cx="71.2" cy="68.7" rx="0.9" ry="1.1" fill="#f7f7f5" stroke="#806c57" stroke-width="0.4" transform="rotate(127 71.2 68.7)"/>
<ellipse cx="89.8" cy="63.5" rx="1.3" ry="0.9" fill="#f7f7f5" stroke="#806c57" stroke-width="0.4" transform="rotate(166 89.8 63.5)"/>
<ellipse cx="67.2" cy="66.4" rx="1.7" ry="0.6" fill="#f7f7f5" stroke="#806c57" stroke-width="0.4" transform="rotate(174 67.2 66.4)"/>
<ellipse cx="74.0" cy="49.7" rx="1.2" ry="0.9" fill="#f7f7f5" stroke="#806c57" stroke-width="0.4" transform="rotate(5 74.0 49.7)"/>
<ellipse cx="81.7" cy="58.4" rx="1.3" ry="1.0" fill="#f7f7f5" stroke="#806c57" stroke-width="0.4" transform="rotate(111 81.7 58.4)"/>
<ellipse cx="91.6" cy="66.8" rx="2.0" ry="1.2" fill="#f7f7f5" stroke="#806c57" stroke-width="0.4" transform="rotate(153 91.6 66.8)"/>
<ellipse cx="78.9" cy="51.0" rx="1.4" ry="0.9" fill="#f7f7f5" stroke="#806c57" stroke-width="0.4" transform="rotate(174 78.9 51.0)"/>
<ellipse cx="83.4" cy="61.0" rx="0.9" ry="1.0" fill="#f7f7f5" stroke="#806c57" stroke-width="0.4" transform="rotate(7 83.4 61.0)"/>
<ellipse cx="69.9" cy="50.5" rx="1.8" ry="1.2" fill="#f7f7f5" stroke="#806c57" stroke-width="0.4" transform="rotate(107 69.9 50.5)"/>
<ellipse cx="68.4" cy="64.2" rx="1.0" ry="1.0" fill="#f7f7f5" stroke="#806c57" stroke-width="0.4" transform="rotate(122 68.4 64.2)"/>
<ellipse cx="91.0" cy="52.9" rx="1.1" ry="0.7" fill="#f7f7f5" stroke="#806c57" stroke-width="0.4" transform="rotate(14 91.0 52.9)"/>
<ellipse cx="91.1" cy="61.9" rx="0.9" ry="0.8" fill="#f7f7f5" stroke="#806c57" stroke-width="0.4" transform="rotate(18 91.1 61.9)"/>
<ellipse cx="91.5" cy="56.7" rx="0.8" ry="1.0" fill="#f7f7f5" stroke="#806c57" stroke-width="0.4" transform="rotate(60 91.5 56.7)"/>
<ellipse cx="83.2" cy="65.1" rx="0.9" ry="0.9" fill="#f7f7f5" stroke="#806c57" stroke-width="0.4" transform="rotate(171 83.2 65.1)"/>
<ellipse cx="72.1" cy="54.5" rx="1.7" ry="0.5" fill="#f7f7f5" stroke="#806c57" stroke-width="0.4" transform="rotate(148 72.1 54.5)"/>
<ellipse cx="87.3" cy="68.3" rx="2.0" ry="0.9" fill="#f7f7f5" stroke="#806c57" stroke-width="0.4" transform="rotate(83 87.3 68.3)"/>
<ellipse cx="80.3" cy="62.2" rx="2.2" ry="0.6" fill="#f7f7f5" stroke="#806c57" stroke-width="0.4" transform="rotate(89 80.3 62.2)"/>
<ellipse cx="78.0" cy="54.5" rx="1.0" ry="1.0" fill="#f7f7f5" stroke="#806c57" stroke-width="0.4" transform="rotate(105 78.0 54.5)"/>
<ellipse cx="84.3" cy="54.7" rx="1.5" ry="0.6" fill="#f7f7f5" stroke="#806c57" stroke-width="0.4" transform="rotate(27 84.3 54.7)"/>
<ellipse cx="69.7" cy="62.4" rx="2.0" ry="0.9" fill="#f7f7f5" stroke="#806c57" stroke-width="0.4" transform="rotate(140 69.7 62.4)"/>
<ellipse cx="68.2" cy="59.9" rx="1.0" ry="0.9" fill="#f7f7f5" stroke="#806c57" stroke-width="0.4" transform="rotate(45 68.2 59.9)"/>
<ellipse cx="72.8" cy="67.8" rx="1.6" ry="0.7" fill="#f7f7f5" stroke="#806c57" stroke-width="0.4" transform="rotate(88 72.8 67.8)"/>
<ellipse cx="73.6" cy="65.3" rx="1.4" ry="1.1" fill="#f7f7f5" stroke="#806c57" stroke-width="0.4" transform="rotate(107 73.6 65.3)"/>
<ellipse cx="83.3" cy="61.6" rx="1.6" ry="0.5" fill="#f7f7f5" stroke="#806c57" stroke-width="0.4" transform="rotate(142 83.3 61.6)"/>
<ellipse cx="82.3" cy="54.0" rx="1.5" ry="1.2" fill="#f7f7f5" stroke="#806c57" stroke-width="0.4" transform="rotate(118 82.3 54.0)"/>
<ellipse cx="80.7" cy="60.1" rx="0.9" ry="0.8" fill="#f7f7f5" stroke="#806c57" stroke-width="0.4" transform="rotate(78 80.7 60.1)"/>
<ellipse cx="83.1" cy="56.8" rx="1.0" ry="1.1" fill="#f7f7f5" stroke="#806c57" stroke-width="0.4" transform="rotate(45 83.1 56.8)"/>
<ellipse cx="72.1" cy="58.2" rx="2.1" ry="1.0" fill="#f7f7f5" stroke="#806c57" stroke-width="0.4" transform="rotate(25 72.1 58.2)"/>
<ellipse cx="68.6" cy="59.5" rx="0.9" ry="0.7" fill="#f7f7f5" stroke="#806c57" stroke-width="0.4" transform="rotate(20 68.6 59.5)"/>
<ellipse cx="88.9" cy="67.1" rx="2.0" ry="1.0" fill="#f7f7f5" stroke="#806c57" stroke-width="0.4" transform="rotate(7 88.9 67.1)"/>
<ellipse cx="73.4" cy="66.0" rx="0.9" ry="0.8" fill="#f7f7f5" stroke="#806c57" stroke-width="0.4" transform="rotate(143 73.4 66.0)"/>
<ellipse cx="72.9" cy="56.5" rx="1.7" ry="1.0" fill="#f7f7f5" stroke="#806c57" stroke-width="0.4" transform="rotate(28 72.9 56.5)"/>
<ellipse cx="87.0" cy="51.2" rx="1.0" ry="0.7" fill="#f7f7f5" stroke="#806c57" stroke-width="0.4" transform="rotate(36 87.0 51.2)"/>
<ellipse cx="78.1" cy="56.6" rx="1.8" ry="1.1" fill="#f7f7f5" stroke="#806c57" stroke-width="0.4" transform="rotate(139 78.1 56.6)"/>
<ellipse cx="88.8" cy="54.6" rx="1.7" ry="1.1" fill="#f7f7f5" stroke="#806c57" stroke-width="0.4" transform="rotate(151 88.8 54.6)"/>
<ellipse cx="77.2" cy="67.3" rx="1.3" ry="1.1" fill="#f7f7f5" stroke="#806c57" stroke-width="0.4" transform="rotate(121 77.2 67.3)"/>
<ellipse cx="67.8" cy="67.8" rx="1.9" ry="0.9" fill="#f7f7f5" stroke="#806c57" stroke-width="0.4" transform="rotate(172 67.8 67.8)"/>
<ellipse cx="89.5" cy="65.5" rx="1.9" ry="1.0" fill="#f7f7f5" stroke="#806c57" stroke-width="0.4" transform="rotate(21 89.5 65.5)"/>
<ellipse cx="81.6" cy="49.7" rx="1.5" ry="0.6" fill="#f7f7f5" stroke="#806c57" stroke-width="0.4" transform="rotate(127 81.6 49.7)"/>
<ellipse cx="90.3" cy="53.6" rx="1.6" ry="0.7" fill="#f7f7f5" stroke="#806c57" stroke-width="0.4" transform="rotate(176 90.3 53.6)"/>
<ellipse cx="79.2" cy="53.0" rx="1.7" ry="0.8" fill="#f7f7f5" stroke="#806c57" stroke-width="0.4" transform="rotate(93 79.2 53.0)"/>
<ellipse cx="78.0" cy="52.7" rx="1.0" ry="0.9" fill="#f7f7f5" stroke="#806c57" stroke-width="0.4" transform="rotate(23 78.0 52.7)"/>
<ellipse cx="76.3" cy="60.8" rx="1.9" ry="0.6" fill="#f7f7f5" stroke="#806c57" stroke-width="0.4" transform="rotate(68 76.3 60.8)"/>
<ellipse cx="69.1" cy="54.3" rx="2.2" ry="1.0" fill="#f7f7f5" stroke="#806c57" stroke-width="0.4" transform="rotate(12 69.1 54.3)"/>
<ellipse cx="92.0" cy="56.2" rx="1.6" ry="1.1" fill="#f7f7f5" stroke="#806c57" stroke-width="0.4" transform="rotate(40 92.0 56.2)"/>
<ellipse cx="73.7" cy="55.9" rx="1.6" ry="1.2" fill="#f7f7f5" stroke="#806c57" stroke-width="0.4" transform="rotate(28 73.7 55.9)"/>
<ellipse cx="91.7" cy="61.0" rx="1.5" ry="0.6" fill="#f7f7f5" stroke="#806c57" stroke-width="0.4" transform="rotate(129 91.7 61.0)"/>
<ellipse cx="68.1" cy="66.3" rx="1.2" ry="1.1" fill="#f7f7f5" stroke="#806c57" stroke-width="0.4" transform="rotate(135 68.1 66.3)"/>
<ellipse cx="75.8" cy="55.3" rx="1.6" ry="0.8" fill="#f7f7f5" stroke="#806c57" stroke-width="0.4" transform="rotate(73 75.8 55.3)"/>
<ellipse cx="92.3" cy="56.4" rx="1.3" ry="1.0" fill="#f7f7f5" stroke="#806c57" stroke-width="0.4" transform="rotate(80 92.3 56.4)"/>
<ellipse cx="72.9" cy="57.9" rx="1.0" ry="0.6" fill="#f7f7f5" stroke="#806c57" stroke-width="0.4" transform="rotate(147 72.9 57.9)"/>
<ellipse cx="78.4" cy="58.6" rx="1.4" ry="0.6" fill="#f7f7f5" stroke="#806c57" stroke-width="0.4" transform="rotate(22 78.4 58.6)"/>
<ellipse cx="66.4" cy="61.3" rx="1.2" ry="1.0" fill="#f7f7f5" stroke="#806c57" stroke-width="0.4" transform="rotate(58 66.4 61.3)"/>
<ellipse cx="86.7" cy="68.0" rx="1.3" ry="0.9" fill="#f7f7f5" stroke="#806c57" stroke-width="0.4" transform="rotate(30 86.7 68.0)"/>
<ellipse cx="81.9" cy="55.2" rx="1.4" ry="1.1" fill="#f7f7f5" stroke="#806c57" stroke-width="0.4" transform="rotate(157 81.9 55.2)"/>
<ellipse cx="77.1" cy="63.0" rx="1.6" ry="0.8" fill="#f7f7f5" stroke="#806c57" stroke-width="0.4" transform="rotate(15 77.1 63.0)"/>
<ellipse cx="67.5" cy="52.5" rx="1.4" ry="0.7" fill="#f7f7f5" stroke="#806c57" stroke-width="0.4" transform="rotate(34 67.5 52.5)"/>
<ellipse cx="73.9" cy="56.4" rx="1.9" ry="1.1" fill="#f7f7f5" stroke="#806c57" stroke-width="0.4" transform="rotate(143 73.9 56.4)"/>
<ellipse cx="81.0" cy="50.5" rx="2.0" ry="1.1" fill="#f7f7f5" stroke="#806c57" stroke-width="0.4" transform="rotate(21 81.0 50.5)"/>
<ellipse cx="72.5" cy="58.6" rx="1.1" ry="1.2" fill="#f7f7f5" stroke="#806c57" stroke-width="0.4" transform="rotate(113 72.5 58.6)"/>
<ellipse cx="81.2" cy="54.5" rx="1.4" ry="0.9" fill="#f7f7f5" stroke="#806c57" stroke-width="0.4" transform="rotate(139 81.2 54.5)"/>
<ellipse cx="75.1" cy="58.0" rx="1.3" ry="0.8" fill="#f7f7f5" stroke="#806c57" stroke-width="0.4" transform="rotate(58 75.1 58.0)"/>
<ellipse cx="72.5" cy="60.7" rx="2.1" ry="1.2" fill="#f7f7f5" stroke="#806c57" stroke-width="0.4" transform="rotate(170 72.5 60.7)"/>
</g>
<text x="106.05" y="17.80" font-size="9.8" fill="#000" stroke="#000" stroke-width="0.45" font-weight="bold" textLength="5.50" lengthAdjust="spacingAndGlyphs">B</text>
<line x1="126.80" y1="18.50" x2="126.80" y2="72.70" stroke="#333" stroke-width="0.5" />
<line x1="125.60" y1="19.20" x2="126.80" y2="19.20" stroke="#333" stroke-width="0.4" />
<text x="125.00" y="20.46" font-size="3.6" text-anchor="end" fill="#333" font-weight="normal"  stroke="#333" stroke-width="0.06">2.5</text>
<line x1="125.60" y1="29.90" x2="126.80" y2="29.90" stroke="#333" stroke-width="0.4" />
<text x="125.00" y="31.16" font-size="3.6" text-anchor="end" fill="#333" font-weight="normal"  stroke="#333" stroke-width="0.06">2.0</text>
<line x1="125.60" y1="40.60" x2="126.80" y2="40.60" stroke="#333" stroke-width="0.4" />
<text x="125.00" y="41.86" font-size="3.6" text-anchor="end" fill="#333" font-weight="normal"  stroke="#333" stroke-width="0.06">1.5</text>
<line x1="125.60" y1="51.30" x2="126.80" y2="51.30" stroke="#333" stroke-width="0.4" />
<text x="125.00" y="52.56" font-size="3.6" text-anchor="end" fill="#333" font-weight="normal"  stroke="#333" stroke-width="0.06">1.0</text>
<line x1="125.60" y1="62.00" x2="126.80" y2="62.00" stroke="#333" stroke-width="0.4" />
<text x="125.00" y="63.26" font-size="3.6" text-anchor="end" fill="#333" font-weight="normal"  stroke="#333" stroke-width="0.06">0.5</text>
<line x1="125.60" y1="72.70" x2="126.80" y2="72.70" stroke="#333" stroke-width="0.4" />
<text x="125.00" y="73.96" font-size="3.6" text-anchor="end" fill="#333" font-weight="normal"  stroke="#333" stroke-width="0.06">0.0</text>
<line x1="126.80" y1="72.70" x2="195.50" y2="72.70" stroke="#333" stroke-width="0.5" />
<line x1="143.40" y1="72.70" x2="143.40" y2="73.90" stroke="#333" stroke-width="0.4" />
<line x1="178.20" y1="72.70" x2="178.20" y2="73.90" stroke="#333" stroke-width="0.4" />
<text x="143.40" y="78.90" font-size="3.7" text-anchor="middle" fill="#222" font-weight="normal"  stroke="#222" stroke-width="0.06">benign</text>
<text x="178.20" y="78.90" font-size="3.7" text-anchor="middle" fill="#222" font-weight="normal"  stroke="#222" stroke-width="0.06">cancer</text>
<rect x="131.30" y="35.30" width="24.20" height="37.40" fill="#fff" stroke="#222" stroke-width="0.7" />
<line x1="139.00" y1="34.60" x2="148.00" y2="34.60" stroke="#444" stroke-width="0.5" />
<rect x="166.30" y="29.70" width="24.00" height="43.00" fill="#000" stroke="none" stroke-width="0.5" />
<line x1="178.20" y1="27.40" x2="178.20" y2="29.70" stroke="#555" stroke-width="0.5" />
<line x1="172.50" y1="27.40" x2="184.00" y2="27.40" stroke="#555" stroke-width="0.6" />
<line x1="142.50" y1="23.40" x2="183.00" y2="23.40" stroke="#444" stroke-width="0.5" />
<text x="163.00" y="20.20" font-size="4.0" text-anchor="middle" fill="#222" font-weight="normal"  textLength="13.50" lengthAdjust="spacingAndGlyphs" stroke="#222" stroke-width="0.06">p = 0.002</text>
<text x="108.70" y="43.30" font-size="3.9" text-anchor="middle" fill="#222" textLength="37.20" lengthAdjust="spacingAndGlyphs" stroke="#222" stroke-width="0.06" transform="rotate(-90 108.70 43.30)">Cand1 histology score</text>
<text x="202.35" y="17.80" font-size="9.8" fill="#000" stroke="#000" stroke-width="0.45" font-weight="bold" textLength="5.70" lengthAdjust="spacingAndGlyphs">C</text>
<line x1="224.70" y1="14.40" x2="224.70" y2="72.40" stroke="#333" stroke-width="0.5" />
<line x1="223.50" y1="17.60" x2="224.70" y2="17.60" stroke="#333" stroke-width="0.4" />
<text x="222.90" y="18.90" font-size="3.7" text-anchor="end" fill="#333" font-weight="normal"  stroke="#333" stroke-width="0.06">0</text>
<line x1="223.50" y1="34.50" x2="224.70" y2="34.50" stroke="#333" stroke-width="0.4" />
<text x="222.90" y="35.80" font-size="3.7" text-anchor="end" fill="#333" font-weight="normal"  stroke="#333" stroke-width="0.06">-1</text>
<line x1="223.50" y1="51.30" x2="224.70" y2="51.30" stroke="#333" stroke-width="0.4" />
<text x="222.90" y="52.59" font-size="3.7" text-anchor="end" fill="#333" font-weight="normal"  stroke="#333" stroke-width="0.06">-2</text>
<line x1="223.50" y1="68.20" x2="224.70" y2="68.20" stroke="#333" stroke-width="0.4" />
<text x="222.90" y="69.50" font-size="3.7" text-anchor="end" fill="#333" font-weight="normal"  stroke="#333" stroke-width="0.06">-3</text>
<line x1="224.70" y1="72.40" x2="286.00" y2="72.40" stroke="#333" stroke-width="0.5" />
<line x1="0.00" y1="72.40" x2="0.00" y2="72.40" stroke="#333" stroke-width="0" />
<line x1="241.10" y1="72.40" x2="241.10" y2="73.60" stroke="#333" stroke-width="0.4" />
<text x="241.10" y="77.30" font-size="3.8" text-anchor="middle" fill="#333" font-weight="normal"  stroke="#333" stroke-width="0.06">benign</text>
<line x1="269.60" y1="72.40" x2="269.60" y2="73.60" stroke="#333" stroke-width="0.4" />
<text x="269.60" y="77.30" font-size="3.8" text-anchor="middle" fill="#333" font-weight="normal"  stroke="#333" stroke-width="0.06">cancer</text>
<line x1="241.20" y1="16.50" x2="241.20" y2="26.30" stroke="#444" stroke-width="0.5" />
<line x1="241.20" y1="39.70" x2="241.20" y2="53.00" stroke="#444" stroke-width="0.5" />
<rect x="230.00" y="26.30" width="22.40" height="13.40" fill="#fff" stroke="#444" stroke-width="0.5" />
<line x1="230.00" y1="31.20" x2="252.40" y2="31.20" stroke="#444" stroke-width="0.9" />
<circle cx="244.94" cy="20.76" r="1.30" fill="#efede0" stroke="#5d5a48" stroke-width="0.4"/>
<circle cx="240.36" cy="36.78" r="1.30" fill="#efede0" stroke="#5d5a48" stroke-width="0.4"/>
<circle cx="237.55" cy="19.71" r="1.30" fill="#efede0" stroke="#5d5a48" stroke-width="0.4"/>
<circle cx="240.82" cy="32.34" r="1.30" fill="#efede0" stroke="#5d5a48" stroke-width="0.4"/>
<circle cx="242.63" cy="48.34" r="1.30" fill="#efede0" stroke="#5d5a48" stroke-width="0.4"/>
<circle cx="236.12" cy="42.82" r="1.30" fill="#efede0" stroke="#5d5a48" stroke-width="0.4"/>
<circle cx="242.24" cy="30.11" r="1.30" fill="#efede0" stroke="#5d5a48" stroke-width="0.4"/>
<circle cx="235.85" cy="28.62" r="1.30" fill="#efede0" stroke="#5d5a48" stroke-width="0.4"/>
<circle cx="238.12" cy="39.05" r="1.30" fill="#efede0" stroke="#5d5a48" stroke-width="0.4"/>
<circle cx="236.00" cy="35.37" r="1.30" fill="#efede0" stroke="#5d5a48" stroke-width="0.4"/>
<circle cx="244.12" cy="22.50" r="1.30" fill="#efede0" stroke="#5d5a48" stroke-width="0.4"/>
<circle cx="242.32" cy="25.51" r="1.30" fill="#efede0" stroke="#5d5a48" stroke-width="0.4"/>
<circle cx="240.27" cy="23.92" r="1.30" fill="#efede0" stroke="#5d5a48" stroke-width="0.4"/>
<circle cx="245.66" cy="26.87" r="1.30" fill="#efede0" stroke="#5d5a48" stroke-width="0.4"/>
<circle cx="238.85" cy="41.42" r="1.30" fill="#efede0" stroke="#5d5a48" stroke-width="0.4"/>
<circle cx="243.36" cy="32.07" r="1.30" fill="#efede0" stroke="#5d5a48" stroke-width="0.4"/>
<circle cx="245.28" cy="38.64" r="1.30" fill="#efede0" stroke="#5d5a48" stroke-width="0.4"/>
<circle cx="244.17" cy="24.88" r="1.30" fill="#efede0" stroke="#5d5a48" stroke-width="0.4"/>
<circle cx="239.03" cy="25.20" r="1.30" fill="#efede0" stroke="#5d5a48" stroke-width="0.4"/>
<circle cx="236.88" cy="49.42" r="1.30" fill="#efede0" stroke="#5d5a48" stroke-width="0.4"/>
<circle cx="238.16" cy="29.23" r="1.30" fill="#efede0" stroke="#5d5a48" stroke-width="0.4"/>
<circle cx="243.67" cy="35.83" r="1.30" fill="#efede0" stroke="#5d5a48" stroke-width="0.4"/>
<circle cx="237.61" cy="22.86" r="1.30" fill="#efede0" stroke="#5d5a48" stroke-width="0.4"/>
<circle cx="239.91" cy="43.53" r="1.30" fill="#efede0" stroke="#5d5a48" stroke-width="0.4"/>
<circle cx="245.41" cy="34.83" r="1.30" fill="#efede0" stroke="#5d5a48" stroke-width="0.4"/>
<circle cx="243.73" cy="40.72" r="1.30" fill="#efede0" stroke="#5d5a48" stroke-width="0.4"/>
<circle cx="239.64" cy="52.60" r="1.30" fill="#efede0" stroke="#5d5a48" stroke-width="0.4"/>
<circle cx="236.60" cy="31.88" r="1.30" fill="#efede0" stroke="#5d5a48" stroke-width="0.4"/>
<circle cx="239.42" cy="33.60" r="1.30" fill="#efede0" stroke="#5d5a48" stroke-width="0.4"/>
<circle cx="240.23" cy="46.55" r="1.30" fill="#efede0" stroke="#5d5a48" stroke-width="0.4"/>
<circle cx="244.37" cy="30.08" r="1.30" fill="#efede0" stroke="#5d5a48" stroke-width="0.4"/>
<circle cx="236.74" cy="24.67" r="1.30" fill="#efede0" stroke="#5d5a48" stroke-width="0.4"/>
<circle cx="236.09" cy="26.66" r="1.30" fill="#efede0" stroke="#5d5a48" stroke-width="0.4"/>
<circle cx="238.27" cy="31.29" r="1.30" fill="#efede0" stroke="#5d5a48" stroke-width="0.4"/>
<circle cx="241.42" cy="35.31" r="1.30" fill="#efede0" stroke="#5d5a48" stroke-width="0.4"/>
<circle cx="245.69" cy="31.93" r="1.30" fill="#efede0" stroke="#5d5a48" stroke-width="0.4"/>
<circle cx="244.70" cy="17.34" r="1.30" fill="#efede0" stroke="#5d5a48" stroke-width="0.4"/>
<circle cx="243.07" cy="28.33" r="1.30" fill="#efede0" stroke="#5d5a48" stroke-width="0.4"/>
<circle cx="244.41" cy="45.20" r="1.30" fill="#efede0" stroke="#5d5a48" stroke-width="0.4"/>
<circle cx="241.43" cy="41.79" r="1.30" fill="#efede0" stroke="#5d5a48" stroke-width="0.4"/>
<circle cx="236.54" cy="39.97" r="1.30" fill="#efede0" stroke="#5d5a48" stroke-width="0.4"/>
<circle cx="240.51" cy="30.54" r="1.30" fill="#efede0" stroke="#5d5a48" stroke-width="0.4"/>
<circle cx="239.54" cy="50.68" r="1.30" fill="#efede0" stroke="#5d5a48" stroke-width="0.4"/>
<circle cx="241.53" cy="22.43" r="1.30" fill="#efede0" stroke="#5d5a48" stroke-width="0.4"/>
<circle cx="245.20" cy="42.16" r="1.30" fill="#efede0" stroke="#5d5a48" stroke-width="0.4"/>
<circle cx="240.64" cy="20.98" r="1.30" fill="#efede0" stroke="#5d5a48" stroke-width="0.4"/>
<circle cx="235.95" cy="33.65" r="1.30" fill="#efede0" stroke="#5d5a48" stroke-width="0.4"/>
<circle cx="237.49" cy="36.55" r="1.30" fill="#efede0" stroke="#5d5a48" stroke-width="0.4"/>
<circle cx="238.60" cy="69.50" r="1.30" fill="#efede0" stroke="#5d5a48" stroke-width="0.3"/>
<line x1="269.50" y1="16.60" x2="269.50" y2="24.00" stroke="#444" stroke-width="0.5" />
<line x1="269.50" y1="31.40" x2="269.50" y2="36.30" stroke="#444" stroke-width="0.5" />
<rect x="258.00" y="24.00" width="23.00" height="7.40" fill="#f9d3d6" stroke="#444" stroke-width="0.5" />
<line x1="258.00" y1="29.20" x2="281.00" y2="29.20" stroke="#444" stroke-width="0.9" />
<circle cx="271.10" cy="18.33" r="1.25" fill="#8e1010" stroke="#4a0000" stroke-width="0.35"/>
<circle cx="266.38" cy="28.40" r="1.25" fill="#8e1010" stroke="#4a0000" stroke-width="0.35"/>
<circle cx="267.57" cy="32.80" r="1.25" fill="#8e1010" stroke="#4a0000" stroke-width="0.35"/>
<circle cx="272.39" cy="27.40" r="1.25" fill="#8e1010" stroke="#4a0000" stroke-width="0.35"/>
<circle cx="270.12" cy="24.03" r="1.25" fill="#8e1010" stroke="#4a0000" stroke-width="0.35"/>
<circle cx="266.56" cy="30.95" r="1.25" fill="#8e1010" stroke="#4a0000" stroke-width="0.35"/>
<circle cx="273.25" cy="32.11" r="1.25" fill="#8e1010" stroke="#4a0000" stroke-width="0.35"/>
<circle cx="272.68" cy="21.98" r="1.25" fill="#8e1010" stroke="#4a0000" stroke-width="0.35"/>
<circle cx="269.68" cy="27.25" r="1.25" fill="#8e1010" stroke="#4a0000" stroke-width="0.35"/>
<circle cx="268.91" cy="29.77" r="1.25" fill="#8e1010" stroke="#4a0000" stroke-width="0.35"/>
<circle cx="266.32" cy="26.04" r="1.25" fill="#8e1010" stroke="#4a0000" stroke-width="0.35"/>
<circle cx="266.57" cy="23.80" r="1.25" fill="#8e1010" stroke="#4a0000" stroke-width="0.35"/>
<circle cx="271.37" cy="34.73" r="1.25" fill="#8e1010" stroke="#4a0000" stroke-width="0.35"/>
<circle cx="269.39" cy="19.95" r="1.25" fill="#8e1010" stroke="#4a0000" stroke-width="0.35"/>
<line x1="241.30" y1="13.40" x2="269.20" y2="13.40" stroke="#444" stroke-width="0.5" />
<text x="255.60" y="11.20" font-size="4.3" text-anchor="middle" fill="#222" font-weight="normal"  textLength="17.50" lengthAdjust="spacingAndGlyphs" stroke="#222" stroke-width="0.06">p = 0.0094</text>
<text x="213.70" y="44.80" font-size="3.9" text-anchor="middle" fill="#222" textLength="57.20" lengthAdjust="spacingAndGlyphs" stroke="#222" stroke-width="0.06" transform="rotate(-90 213.70 44.80)">log<tspan font-size="2.6" dy="0.9">2</tspan><tspan dy="-0.9"> Cand1 expression, GSE46272</tspan></text>
<text x="306.85" y="17.80" font-size="9.8" fill="#000" stroke="#000" stroke-width="0.45" font-weight="bold" textLength="6.00" lengthAdjust="spacingAndGlyphs">D</text>
<line x1="330.50" y1="11.90" x2="330.50" y2="70.60" stroke="#333" stroke-width="0.5" />
<line x1="329.30" y1="26.10" x2="330.50" y2="26.10" stroke="#333" stroke-width="0.4" />
<text x="328.70" y="27.40" font-size="3.7" text-anchor="end" fill="#333" font-weight="normal"  stroke="#333" stroke-width="0.06">18.0</text>
<line x1="329.30" y1="40.80" x2="330.50" y2="40.80" stroke="#333" stroke-width="0.4" />
<text x="328.70" y="42.09" font-size="3.7" text-anchor="end" fill="#333" font-weight="normal"  stroke="#333" stroke-width="0.06">17.5</text>
<line x1="329.30" y1="55.60" x2="330.50" y2="55.60" stroke="#333" stroke-width="0.4" />
<text x="328.70" y="56.90" font-size="3.7" text-anchor="end" fill="#333" font-weight="normal"  stroke="#333" stroke-width="0.06">17.0</text>
<line x1="329.30" y1="70.30" x2="330.50" y2="70.30" stroke="#333" stroke-width="0.4" />
<text x="328.70" y="71.59" font-size="3.7" text-anchor="end" fill="#333" font-weight="normal"  stroke="#333" stroke-width="0.06">16.5</text>
<line x1="330.50" y1="70.60" x2="391.00" y2="70.60" stroke="#333" stroke-width="0.5" />
<line x1="0.00" y1="70.60" x2="0.00" y2="70.60" stroke="#333" stroke-width="0" />
<line x1="347.20" y1="70.60" x2="347.20" y2="71.80" stroke="#333" stroke-width="0.4" />
<text x="347.20" y="75.50" font-size="3.8" text-anchor="middle" fill="#333" font-weight="normal"  stroke="#333" stroke-width="0.06">benign</text>
<line x1="375.00" y1="70.60" x2="375.00" y2="71.80" stroke="#333" stroke-width="0.4" />
<text x="375.00" y="75.50" font-size="3.8" text-anchor="middle" fill="#333" font-weight="normal"  stroke="#333" stroke-width="0.06">cancer</text>
<line x1="347.15" y1="27.50" x2="347.15" y2="31.40" stroke="#444" stroke-width="0.5" />
<line x1="347.15" y1="43.50" x2="347.15" y2="56.00" stroke="#444" stroke-width="0.5" />
<rect x="336.20" y="31.40" width="21.90" height="12.10" fill="#fff" stroke="#444" stroke-width="0.5" />
<line x1="336.20" y1="37.00" x2="358.10" y2="37.00" stroke="#444" stroke-width="0.9" />
<circle cx="348.80" cy="42.45" r="1.10" fill="#efede0" stroke="#5d5a48" stroke-width="0.4"/>
<circle cx="347.18" cy="46.22" r="1.10" fill="#efede0" stroke="#5d5a48" stroke-width="0.4"/>
<circle cx="350.60" cy="39.63" r="1.10" fill="#efede0" stroke="#5d5a48" stroke-width="0.4"/>
<circle cx="347.53" cy="49.13" r="1.10" fill="#efede0" stroke="#5d5a48" stroke-width="0.4"/>
<circle cx="342.23" cy="31.87" r="1.10" fill="#efede0" stroke="#5d5a48" stroke-width="0.4"/>
<circle cx="346.06" cy="36.84" r="1.10" fill="#efede0" stroke="#5d5a48" stroke-width="0.4"/>
<circle cx="350.46" cy="34.72" r="1.10" fill="#efede0" stroke="#5d5a48" stroke-width="0.4"/>
<circle cx="344.62" cy="35.64" r="1.10" fill="#efede0" stroke="#5d5a48" stroke-width="0.4"/>
<circle cx="352.57" cy="37.22" r="1.10" fill="#efede0" stroke="#5d5a48" stroke-width="0.4"/>
<circle cx="342.55" cy="43.85" r="1.10" fill="#efede0" stroke="#5d5a48" stroke-width="0.4"/>
<circle cx="345.62" cy="30.15" r="1.10" fill="#efede0" stroke="#5d5a48" stroke-width="0.4"/>
<circle cx="352.10" cy="33.53" r="1.10" fill="#efede0" stroke="#5d5a48" stroke-width="0.4"/>
<circle cx="351.85" cy="47.67" r="1.10" fill="#efede0" stroke="#5d5a48" stroke-width="0.4"/>
<circle cx="345.77" cy="28.51" r="1.10" fill="#efede0" stroke="#5d5a48" stroke-width="0.4"/>
<circle cx="347.24" cy="39.57" r="1.10" fill="#efede0" stroke="#5d5a48" stroke-width="0.4"/>
<circle cx="351.21" cy="37.74" r="1.10" fill="#efede0" stroke="#5d5a48" stroke-width="0.4"/>
<circle cx="344.64" cy="38.78" r="1.10" fill="#efede0" stroke="#5d5a48" stroke-width="0.4"/>
<circle cx="348.24" cy="37.36" r="1.10" fill="#efede0" stroke="#5d5a48" stroke-width="0.4"/>
<circle cx="351.43" cy="41.80" r="1.10" fill="#efede0" stroke="#5d5a48" stroke-width="0.4"/>
<circle cx="346.46" cy="52.11" r="1.10" fill="#efede0" stroke="#5d5a48" stroke-width="0.4"/>
<circle cx="346.21" cy="31.92" r="1.10" fill="#efede0" stroke="#5d5a48" stroke-width="0.4"/>
<circle cx="352.55" cy="42.75" r="1.10" fill="#efede0" stroke="#5d5a48" stroke-width="0.4"/>
<circle cx="343.17" cy="35.76" r="1.10" fill="#efede0" stroke="#5d5a48" stroke-width="0.4"/>
<circle cx="349.67" cy="38.07" r="1.10" fill="#efede0" stroke="#5d5a48" stroke-width="0.4"/>
<circle cx="347.99" cy="32.04" r="1.10" fill="#efede0" stroke="#5d5a48" stroke-width="0.4"/>
<circle cx="343.97" cy="33.83" r="1.10" fill="#efede0" stroke="#5d5a48" stroke-width="0.4"/>
<circle cx="345.82" cy="33.92" r="1.10" fill="#efede0" stroke="#5d5a48" stroke-width="0.4"/>
<circle cx="349.23" cy="29.50" r="1.10" fill="#efede0" stroke="#5d5a48" stroke-width="0.4"/>
<circle cx="351.55" cy="44.51" r="1.10" fill="#efede0" stroke="#5d5a48" stroke-width="0.4"/>
<circle cx="352.20" cy="35.15" r="1.10" fill="#efede0" stroke="#5d5a48" stroke-width="0.4"/>
<circle cx="347.31" cy="29.19" r="1.10" fill="#efede0" stroke="#5d5a48" stroke-width="0.4"/>
<circle cx="343.89" cy="40.72" r="1.10" fill="#efede0" stroke="#5d5a48" stroke-width="0.4"/>
<circle cx="350.25" cy="48.48" r="1.10" fill="#efede0" stroke="#5d5a48" stroke-width="0.4"/>
<circle cx="347.22" cy="42.34" r="1.10" fill="#efede0" stroke="#5d5a48" stroke-width="0.4"/>
<circle cx="349.96" cy="53.16" r="1.10" fill="#efede0" stroke="#5d5a48" stroke-width="0.4"/>
<circle cx="352.17" cy="31.71" r="1.10" fill="#efede0" stroke="#5d5a48" stroke-width="0.4"/>
<circle cx="348.45" cy="41.05" r="1.10" fill="#efede0" stroke="#5d5a48" stroke-width="0.4"/>
<circle cx="351.03" cy="28.74" r="1.10" fill="#efede0" stroke="#5d5a48" stroke-width="0.4"/>
<circle cx="345.40" cy="41.14" r="1.10" fill="#efede0" stroke="#5d5a48" stroke-width="0.4"/>
<circle cx="350.19" cy="31.50" r="1.10" fill="#efede0" stroke="#5d5a48" stroke-width="0.4"/>
<circle cx="342.44" cy="30.13" r="1.10" fill="#efede0" stroke="#5d5a48" stroke-width="0.4"/>
<circle cx="343.18" cy="39.09" r="1.10" fill="#efede0" stroke="#5d5a48" stroke-width="0.4"/>
<circle cx="345.57" cy="43.10" r="1.10" fill="#efede0" stroke="#5d5a48" stroke-width="0.4"/>
<circle cx="350.42" cy="45.48" r="1.10" fill="#efede0" stroke="#5d5a48" stroke-width="0.4"/>
<circle cx="342.28" cy="28.40" r="1.10" fill="#efede0" stroke="#5d5a48" stroke-width="0.4"/>
<line x1="375.00" y1="13.50" x2="375.00" y2="29.60" stroke="#444" stroke-width="0.5" />
<line x1="375.00" y1="40.30" x2="375.00" y2="49.00" stroke="#444" stroke-width="0.5" />
<rect x="364.10" y="29.60" width="21.80" height="10.70" fill="#f9d3d6" stroke="#444" stroke-width="0.5" />
<line x1="364.10" y1="33.60" x2="385.90" y2="33.60" stroke="#444" stroke-width="0.9" />
<circle cx="370.04" cy="38.25" r="1.05" fill="#8e1010" stroke="#4a0000" stroke-width="0.3"/>
<circle cx="379.79" cy="32.86" r="1.05" fill="#8e1010" stroke="#4a0000" stroke-width="0.3"/>
<circle cx="376.31" cy="35.63" r="1.05" fill="#8e1010" stroke="#4a0000" stroke-width="0.3"/>
<circle cx="373.26" cy="37.71" r="1.05" fill="#8e1010" stroke="#4a0000" stroke-width="0.3"/>
<circle cx="379.39" cy="38.47" r="1.05" fill="#8e1010" stroke="#4a0000" stroke-width="0.3"/>
<circle cx="372.99" cy="30.28" r="1.05" fill="#8e1010" stroke="#4a0000" stroke-width="0.3"/>
<circle cx="376.65" cy="19.07" r="1.05" fill="#8e1010" stroke="#4a0000" stroke-width="0.3"/>
<circle cx="379.04" cy="22.99" r="1.05" fill="#8e1010" stroke="#4a0000" stroke-width="0.3"/>
<circle cx="375.70" cy="31.57" r="1.05" fill="#8e1010" stroke="#4a0000" stroke-width="0.3"/>
<circle cx="378.30" cy="32.07" r="1.05" fill="#8e1010" stroke="#4a0000" stroke-width="0.3"/>
<circle cx="375.63" cy="38.82" r="1.05" fill="#8e1010" stroke="#4a0000" stroke-width="0.3"/>
<circle cx="379.41" cy="46.76" r="1.05" fill="#8e1010" stroke="#4a0000" stroke-width="0.3"/>
<circle cx="375.46" cy="28.76" r="1.05" fill="#8e1010" stroke="#4a0000" stroke-width="0.3"/>
<circle cx="379.35" cy="28.67" r="1.05" fill="#8e1010" stroke="#4a0000" stroke-width="0.3"/>
<circle cx="376.31" cy="46.88" r="1.05" fill="#8e1010" stroke="#4a0000" stroke-width="0.3"/>
<circle cx="376.48" cy="43.36" r="1.05" fill="#8e1010" stroke="#4a0000" stroke-width="0.3"/>
<circle cx="371.65" cy="45.64" r="1.05" fill="#8e1010" stroke="#4a0000" stroke-width="0.3"/>
<circle cx="370.12" cy="43.39" r="1.05" fill="#8e1010" stroke="#4a0000" stroke-width="0.3"/>
<circle cx="379.05" cy="36.99" r="1.05" fill="#8e1010" stroke="#4a0000" stroke-width="0.3"/>
<circle cx="373.89" cy="24.35" r="1.05" fill="#8e1010" stroke="#4a0000" stroke-width="0.3"/>
<circle cx="376.41" cy="33.62" r="1.05" fill="#8e1010" stroke="#4a0000" stroke-width="0.3"/>
<circle cx="373.54" cy="39.93" r="1.05" fill="#8e1010" stroke="#4a0000" stroke-width="0.3"/>
<circle cx="374.13" cy="44.29" r="1.05" fill="#8e1010" stroke="#4a0000" stroke-width="0.3"/>
<circle cx="370.68" cy="29.45" r="1.05" fill="#8e1010" stroke="#4a0000" stroke-width="0.3"/>
<circle cx="379.76" cy="25.31" r="1.05" fill="#8e1010" stroke="#4a0000" stroke-width="0.3"/>
<circle cx="373.83" cy="28.76" r="1.05" fill="#8e1010" stroke="#4a0000" stroke-width="0.3"/>
<circle cx="379.10" cy="40.70" r="1.05" fill="#8e1010" stroke="#4a0000" stroke-width="0.3"/>
<circle cx="370.77" cy="31.16" r="1.05" fill="#8e1010" stroke="#4a0000" stroke-width="0.3"/>
<circle cx="370.17" cy="40.63" r="1.05" fill="#8e1010" stroke="#4a0000" stroke-width="0.3"/>
<circle cx="373.91" cy="33.09" r="1.05" fill="#8e1010" stroke="#4a0000" stroke-width="0.3"/>
<circle cx="378.27" cy="41.82" r="1.05" fill="#8e1010" stroke="#4a0000" stroke-width="0.3"/>
<circle cx="376.23" cy="21.29" r="1.05" fill="#8e1010" stroke="#4a0000" stroke-width="0.3"/>
<circle cx="373.34" cy="36.17" r="1.05" fill="#8e1010" stroke="#4a0000" stroke-width="0.3"/>
<circle cx="375.88" cy="37.16" r="1.05" fill="#8e1010" stroke="#4a0000" stroke-width="0.3"/>
<circle cx="379.23" cy="19.53" r="1.05" fill="#8e1010" stroke="#4a0000" stroke-width="0.3"/>
<circle cx="370.77" cy="36.72" r="1.05" fill="#8e1010" stroke="#4a0000" stroke-width="0.3"/>
<circle cx="372.29" cy="21.27" r="1.05" fill="#8e1010" stroke="#4a0000" stroke-width="0.3"/>
<circle cx="370.45" cy="34.76" r="1.05" fill="#8e1010" stroke="#4a0000" stroke-width="0.3"/>
<circle cx="376.46" cy="40.25" r="1.05" fill="#8e1010" stroke="#4a0000" stroke-width="0.3"/>
<circle cx="370.37" cy="48.05" r="1.05" fill="#8e1010" stroke="#4a0000" stroke-width="0.3"/>
<circle cx="370.22" cy="23.12" r="1.05" fill="#8e1010" stroke="#4a0000" stroke-width="0.3"/>
<circle cx="372.13" cy="49.42" r="1.05" fill="#8e1010" stroke="#4a0000" stroke-width="0.3"/>
<circle cx="377.98" cy="39.64" r="1.05" fill="#8e1010" stroke="#4a0000" stroke-width="0.3"/>
<circle cx="376.20" cy="41.81" r="1.05" fill="#8e1010" stroke="#4a0000" stroke-width="0.3"/>
<circle cx="373.42" cy="18.00" r="1.05" fill="#8e1010" stroke="#4a0000" stroke-width="0.3"/>
<circle cx="371.68" cy="39.57" r="1.05" fill="#8e1010" stroke="#4a0000" stroke-width="0.3"/>
<circle cx="372.58" cy="26.19" r="1.05" fill="#8e1010" stroke="#4a0000" stroke-width="0.3"/>
<circle cx="374.90" cy="42.26" r="1.05" fill="#8e1010" stroke="#4a0000" stroke-width="0.3"/>
<circle cx="371.70" cy="42.87" r="1.05" fill="#8e1010" stroke="#4a0000" stroke-width="0.3"/>
<circle cx="373.86" cy="14.32" r="1.05" fill="#8e1010" stroke="#4a0000" stroke-width="0.3"/>
<circle cx="376.36" cy="24.37" r="1.05" fill="#8e1010" stroke="#4a0000" stroke-width="0.3"/>
<circle cx="379.50" cy="34.85" r="1.05" fill="#8e1010" stroke="#4a0000" stroke-width="0.3"/>
<circle cx="370.47" cy="19.99" r="1.05" fill="#8e1010" stroke="#4a0000" stroke-width="0.3"/>
<circle cx="377.07" cy="30.48" r="1.05" fill="#8e1010" stroke="#4a0000" stroke-width="0.3"/>
<circle cx="370.37" cy="32.84" r="1.05" fill="#8e1010" stroke="#4a0000" stroke-width="0.3"/>
<circle cx="373.50" cy="61.00" r="1.10" fill="#8e1010" stroke="#4a0000" stroke-width="0.3"/>
<circle cx="378.50" cy="68.50" r="1.10" fill="#8e1010" stroke="#4a0000" stroke-width="0.3"/>
<line x1="347.40" y1="11.70" x2="375.30" y2="11.70" stroke="#444" stroke-width="0.5" />
<text x="361.70" y="10.10" font-size="4.3" text-anchor="middle" fill="#222" font-weight="normal"  textLength="15.80" lengthAdjust="spacingAndGlyphs" stroke="#222" stroke-width="0.06">p = 0.019</text>
<text x="317.51" y="41.35" font-size="4.2" text-anchor="middle" fill="#222" textLength="52.70" lengthAdjust="spacingAndGlyphs" stroke="#222" stroke-width="0.06" transform="rotate(-90 317.51 41.35)">log<tspan font-size="2.6" dy="0.9">2</tspan><tspan dy="-0.9"> Cand1 expression, TCGA</tspan></text>
<text x="11.75" y="86.80" font-size="9.8" fill="#000" stroke="#000" stroke-width="0.45" font-weight="bold" textLength="4.20" lengthAdjust="spacingAndGlyphs">E</text>
<line x1="23.60" y1="92.00" x2="23.60" y2="146.60" stroke="#333" stroke-width="0.5" />
<line x1="22.40" y1="94.20" x2="23.60" y2="94.20" stroke="#333" stroke-width="0.4" />
<text x="21.80" y="95.50" font-size="3.7" text-anchor="end" fill="#333" font-weight="normal"  stroke="#333" stroke-width="0.06">9.2</text>
<line x1="22.40" y1="110.40" x2="23.60" y2="110.40" stroke="#333" stroke-width="0.4" />
<text x="21.80" y="111.70" font-size="3.7" text-anchor="end" fill="#333" font-weight="normal"  stroke="#333" stroke-width="0.06">8.8</text>
<line x1="22.40" y1="126.70" x2="23.60" y2="126.70" stroke="#333" stroke-width="0.4" />
<text x="21.80" y="128.00" font-size="3.7" text-anchor="end" fill="#333" font-weight="normal"  stroke="#333" stroke-width="0.06">8.4</text>
<line x1="22.40" y1="143.00" x2="23.60" y2="143.00" stroke="#333" stroke-width="0.4" />
<text x="21.80" y="144.29" font-size="3.7" text-anchor="end" fill="#333" font-weight="normal"  stroke="#333" stroke-width="0.06">8.0</text>
<line x1="23.60" y1="146.60" x2="104.00" y2="146.60" stroke="#333" stroke-width="0.5" />
<line x1="37.80" y1="146.60" x2="37.80" y2="147.80" stroke="#333" stroke-width="0.4" />
<text x="37.80" y="151.20" font-size="3.8" text-anchor="middle" fill="#222" font-weight="normal"  stroke="#222" stroke-width="0.06">≤ 6</text>
<line x1="63.20" y1="146.60" x2="63.20" y2="147.80" stroke="#333" stroke-width="0.4" />
<text x="63.20" y="151.20" font-size="3.8" text-anchor="middle" fill="#222" font-weight="normal"  stroke="#222" stroke-width="0.06">7</text>
<line x1="88.10" y1="146.60" x2="88.10" y2="147.80" stroke="#333" stroke-width="0.4" />
<text x="88.10" y="151.20" font-size="3.8" text-anchor="middle" fill="#222" font-weight="normal"  stroke="#222" stroke-width="0.06">≥ 8</text>
<text x="62.00" y="157.60" font-size="4.0" text-anchor="middle" fill="#222" font-weight="normal"  stroke="#222" stroke-width="0.06">Gleason Score</text>
<line x1="37.80" y1="110.00" x2="37.80" y2="115.60" stroke="#444" stroke-width="0.5" />
<line x1="37.80" y1="126.30" x2="37.80" y2="131.00" stroke="#444" stroke-width="0.5" />
<rect x="27.80" y="115.60" width="20.00" height="10.70" fill="#fff" stroke="#444" stroke-width="0.5" />
<line x1="27.80" y1="122.90" x2="47.80" y2="122.90" stroke="#444" stroke-width="0.9" />
<circle cx="40.00" cy="110.50" r="1.30" fill="#efede0" stroke="#5d5a48" stroke-width="0.3"/>
<circle cx="36.50" cy="114.00" r="1.30" fill="#efede0" stroke="#5d5a48" stroke-width="0.3"/>
<circle cx="41.00" cy="116.00" r="1.30" fill="#efede0" stroke="#5d5a48" stroke-width="0.3"/>
<circle cx="38.00" cy="118.50" r="1.30" fill="#efede0" stroke="#5d5a48" stroke-width="0.3"/>
<circle cx="35.00" cy="121.00" r="1.30" fill="#efede0" stroke="#5d5a48" stroke-width="0.3"/>
<circle cx="39.00" cy="122.00" r="1.30" fill="#efede0" stroke="#5d5a48" stroke-width="0.3"/>
<circle cx="42.00" cy="124.50" r="1.30" fill="#efede0" stroke="#5d5a48" stroke-width="0.3"/>
<circle cx="36.00" cy="126.00" r="1.30" fill="#efede0" stroke="#5d5a48" stroke-width="0.3"/>
<circle cx="40.00" cy="128.00" r="1.30" fill="#efede0" stroke="#5d5a48" stroke-width="0.3"/>
<circle cx="43.00" cy="120.00" r="1.30" fill="#efede0" stroke="#5d5a48" stroke-width="0.3"/>
<circle cx="37.00" cy="130.00" r="1.30" fill="#efede0" stroke="#5d5a48" stroke-width="0.3"/>
<circle cx="41.00" cy="131.00" r="1.30" fill="#efede0" stroke="#5d5a48" stroke-width="0.3"/>
<circle cx="34.00" cy="117.00" r="1.30" fill="#efede0" stroke="#5d5a48" stroke-width="0.3"/>
<line x1="63.20" y1="93.60" x2="63.20" y2="109.00" stroke="#444" stroke-width="0.5" />
<line x1="63.20" y1="125.20" x2="63.20" y2="143.00" stroke="#444" stroke-width="0.5" />
<rect x="53.40" y="109.00" width="19.60" height="16.20" fill="#f9d3d6" stroke="#444" stroke-width="0.5" />
<line x1="53.40" y1="119.50" x2="73.00" y2="119.50" stroke="#444" stroke-width="0.9" />
<circle cx="64.56" cy="114.95" r="1.40" fill="#e00000" stroke="#700000" stroke-width="0.3"/>
<circle cx="59.35" cy="121.09" r="1.40" fill="#e00000" stroke="#700000" stroke-width="0.3"/>
<circle cx="59.22" cy="109.56" r="1.40" fill="#e00000" stroke="#700000" stroke-width="0.3"/>
<circle cx="63.27" cy="115.29" r="1.40" fill="#e00000" stroke="#700000" stroke-width="0.3"/>
<circle cx="59.33" cy="125.30" r="1.40" fill="#e00000" stroke="#700000" stroke-width="0.3"/>
<circle cx="59.52" cy="118.99" r="1.40" fill="#e00000" stroke="#700000" stroke-width="0.3"/>
<circle cx="59.81" cy="103.67" r="1.40" fill="#e00000" stroke="#700000" stroke-width="0.3"/>
<circle cx="60.71" cy="123.84" r="1.40" fill="#e00000" stroke="#700000" stroke-width="0.3"/>
<circle cx="63.89" cy="103.47" r="1.40" fill="#e00000" stroke="#700000" stroke-width="0.3"/>
<circle cx="62.27" cy="103.05" r="1.40" fill="#e00000" stroke="#700000" stroke-width="0.3"/>
<circle cx="66.43" cy="119.44" r="1.40" fill="#e00000" stroke="#700000" stroke-width="0.3"/>
<circle cx="61.31" cy="116.63" r="1.40" fill="#e00000" stroke="#700000" stroke-width="0.3"/>
<circle cx="61.48" cy="119.47" r="1.40" fill="#e00000" stroke="#700000" stroke-width="0.3"/>
<circle cx="66.05" cy="120.15" r="1.40" fill="#e00000" stroke="#700000" stroke-width="0.3"/>
<circle cx="64.45" cy="121.45" r="1.40" fill="#e00000" stroke="#700000" stroke-width="0.3"/>
<circle cx="62.05" cy="126.58" r="1.40" fill="#e00000" stroke="#700000" stroke-width="0.3"/>
<circle cx="59.24" cy="114.25" r="1.40" fill="#e00000" stroke="#700000" stroke-width="0.3"/>
<circle cx="60.55" cy="116.15" r="1.40" fill="#e00000" stroke="#700000" stroke-width="0.3"/>
<circle cx="61.53" cy="113.42" r="1.40" fill="#e00000" stroke="#700000" stroke-width="0.3"/>
<circle cx="63.97" cy="109.34" r="1.40" fill="#e00000" stroke="#700000" stroke-width="0.3"/>
<circle cx="65.85" cy="110.54" r="1.40" fill="#e00000" stroke="#700000" stroke-width="0.3"/>
<circle cx="64.99" cy="118.96" r="1.40" fill="#e00000" stroke="#700000" stroke-width="0.3"/>
<circle cx="63.43" cy="117.39" r="1.40" fill="#e00000" stroke="#700000" stroke-width="0.3"/>
<circle cx="66.58" cy="127.45" r="1.40" fill="#e00000" stroke="#700000" stroke-width="0.3"/>
<circle cx="67.52" cy="116.15" r="1.40" fill="#e00000" stroke="#700000" stroke-width="0.3"/>
<circle cx="59.76" cy="110.46" r="1.40" fill="#e00000" stroke="#700000" stroke-width="0.3"/>
<circle cx="60.07" cy="105.28" r="1.40" fill="#e00000" stroke="#700000" stroke-width="0.3"/>
<circle cx="63.10" cy="123.62" r="1.40" fill="#e00000" stroke="#700000" stroke-width="0.3"/>
<circle cx="65.58" cy="128.52" r="1.40" fill="#e00000" stroke="#700000" stroke-width="0.3"/>
<circle cx="63.86" cy="119.90" r="1.40" fill="#e00000" stroke="#700000" stroke-width="0.3"/>
<circle cx="61.00" cy="93.50" r="1.40" fill="#e00000" stroke="#700000" stroke-width="0.3"/>
<circle cx="65.00" cy="93.20" r="1.40" fill="#e00000" stroke="#700000" stroke-width="0.3"/>
<circle cx="60.00" cy="139.00" r="1.40" fill="#e00000" stroke="#700000" stroke-width="0.3"/>
<circle cx="65.00" cy="141.00" r="1.40" fill="#e00000" stroke="#700000" stroke-width="0.3"/>
<circle cx="63.00" cy="143.50" r="1.40" fill="#e00000" stroke="#700000" stroke-width="0.3"/>
<circle cx="66.00" cy="137.00" r="1.40" fill="#e00000" stroke="#700000" stroke-width="0.3"/>
<line x1="88.10" y1="100.00" x2="88.10" y2="104.70" stroke="#444" stroke-width="0.5" />
<line x1="88.10" y1="119.50" x2="88.10" y2="132.00" stroke="#444" stroke-width="0.5" />
<rect x="78.30" y="104.70" width="19.60" height="14.80" fill="#f9d3d6" stroke="#444" stroke-width="0.5" />
<line x1="78.30" y1="109.50" x2="97.90" y2="109.50" stroke="#444" stroke-width="0.9" />
<circle cx="86.00" cy="100.00" r="1.40" fill="#c00000" stroke="#700000" stroke-width="0.3"/>
<circle cx="89.00" cy="100.80" r="1.40" fill="#c00000" stroke="#700000" stroke-width="0.3"/>
<circle cx="91.00" cy="101.00" r="1.40" fill="#c00000" stroke="#700000" stroke-width="0.3"/>
<circle cx="84.00" cy="108.00" r="1.40" fill="#c00000" stroke="#700000" stroke-width="0.3"/>
<circle cx="87.00" cy="109.00" r="1.40" fill="#c00000" stroke="#700000" stroke-width="0.3"/>
<circle cx="90.00" cy="109.50" r="1.40" fill="#c00000" stroke="#700000" stroke-width="0.3"/>
<circle cx="86.00" cy="110.00" r="1.40" fill="#c00000" stroke="#700000" stroke-width="0.3"/>
<circle cx="92.00" cy="111.00" r="1.40" fill="#c00000" stroke="#700000" stroke-width="0.3"/>
<circle cx="84.00" cy="119.50" r="1.40" fill="#c00000" stroke="#700000" stroke-width="0.3"/>
<circle cx="88.00" cy="119.00" r="1.40" fill="#c00000" stroke="#700000" stroke-width="0.3"/>
<circle cx="90.00" cy="124.00" r="1.40" fill="#c00000" stroke="#700000" stroke-width="0.3"/>
<circle cx="86.00" cy="131.50" r="1.40" fill="#c00000" stroke="#700000" stroke-width="0.3"/>
<text x="37.00" y="98.90" font-size="4.4" text-anchor="middle" fill="#222" font-weight="normal"  textLength="16.30" lengthAdjust="spacingAndGlyphs" stroke="#222" stroke-width="0.06">p = 0.015</text>
<text x="11.08" y="118.90" font-size="4.1" text-anchor="middle" fill="#222" textLength="62.60" lengthAdjust="spacingAndGlyphs" stroke="#222" stroke-width="0.06" transform="rotate(-90 11.08 118.90)">log<tspan font-size="2.6" dy="0.9">2</tspan><tspan dy="-0.9"> Cand1 expression, GSE70769</tspan></text>
<text x="108.95" y="87.60" font-size="9.8" fill="#000" stroke="#000" stroke-width="0.45" font-weight="bold" textLength="3.70" lengthAdjust="spacingAndGlyphs">F</text>
<line x1="128.40" y1="92.00" x2="128.40" y2="146.40" stroke="#333" stroke-width="0.5" />
<line x1="127.20" y1="95.70" x2="128.40" y2="95.70" stroke="#333" stroke-width="0.4" />
<text x="126.60" y="97.00" font-size="3.7" text-anchor="end" fill="#333" font-weight="normal"  stroke="#333" stroke-width="0.06">13</text>
<line x1="127.20" y1="111.40" x2="128.40" y2="111.40" stroke="#333" stroke-width="0.4" />
<text x="126.60" y="112.70" font-size="3.7" text-anchor="end" fill="#333" font-weight="normal"  stroke="#333" stroke-width="0.06">12</text>
<line x1="127.20" y1="127.10" x2="128.40" y2="127.10" stroke="#333" stroke-width="0.4" />
<text x="126.60" y="128.39" font-size="3.7" text-anchor="end" fill="#333" font-weight="normal"  stroke="#333" stroke-width="0.06">11</text>
<line x1="127.20" y1="142.80" x2="128.40" y2="142.80" stroke="#333" stroke-width="0.4" />
<text x="126.60" y="144.09" font-size="3.7" text-anchor="end" fill="#333" font-weight="normal"  stroke="#333" stroke-width="0.06">10</text>
<line x1="128.40" y1="146.40" x2="210.00" y2="146.40" stroke="#333" stroke-width="0.5" />
<line x1="142.90" y1="146.40" x2="142.90" y2="147.60" stroke="#333" stroke-width="0.4" />
<text x="142.90" y="151.00" font-size="3.8" text-anchor="middle" fill="#222" font-weight="normal"  stroke="#222" stroke-width="0.06">≤ 6</text>
<line x1="168.00" y1="146.40" x2="168.00" y2="147.60" stroke="#333" stroke-width="0.4" />
<text x="168.00" y="151.00" font-size="3.8" text-anchor="middle" fill="#222" font-weight="normal"  stroke="#222" stroke-width="0.06">7</text>
<line x1="192.20" y1="146.40" x2="192.20" y2="147.60" stroke="#333" stroke-width="0.4" />
<text x="192.20" y="151.00" font-size="3.8" text-anchor="middle" fill="#222" font-weight="normal"  stroke="#222" stroke-width="0.06">≥ 8</text>
<text x="168.00" y="157.60" font-size="4.0" text-anchor="middle" fill="#222" font-weight="normal"  stroke="#222" stroke-width="0.06">Gleason Score</text>
<line x1="142.65" y1="93.00" x2="142.65" y2="103.30" stroke="#444" stroke-width="0.5" />
<line x1="142.65" y1="111.60" x2="142.65" y2="122.00" stroke="#444" stroke-width="0.5" />
<rect x="132.90" y="103.30" width="19.50" height="8.30" fill="#fff" stroke="#444" stroke-width="0.5" />
<line x1="132.90" y1="106.40" x2="152.40" y2="106.40" stroke="#444" stroke-width="0.9" />
<circle cx="143.02" cy="100.96" r="1.05" fill="#efede0" stroke="#5d5a48" stroke-width="0.38"/>
<circle cx="145.66" cy="98.53" r="1.05" fill="#efede0" stroke="#5d5a48" stroke-width="0.38"/>
<circle cx="140.13" cy="122.54" r="1.05" fill="#efede0" stroke="#5d5a48" stroke-width="0.38"/>
<circle cx="140.63" cy="112.44" r="1.05" fill="#efede0" stroke="#5d5a48" stroke-width="0.38"/>
<circle cx="138.05" cy="123.02" r="1.05" fill="#efede0" stroke="#5d5a48" stroke-width="0.38"/>
<circle cx="141.93" cy="117.11" r="1.05" fill="#efede0" stroke="#5d5a48" stroke-width="0.38"/>
<circle cx="144.23" cy="106.76" r="1.05" fill="#efede0" stroke="#5d5a48" stroke-width="0.38"/>
<circle cx="139.09" cy="118.11" r="1.05" fill="#efede0" stroke="#5d5a48" stroke-width="0.38"/>
<circle cx="141.68" cy="106.65" r="1.05" fill="#efede0" stroke="#5d5a48" stroke-width="0.38"/>
<circle cx="146.43" cy="99.69" r="1.05" fill="#efede0" stroke="#5d5a48" stroke-width="0.38"/>
<circle cx="146.55" cy="97.04" r="1.05" fill="#efede0" stroke="#5d5a48" stroke-width="0.38"/>
<circle cx="139.90" cy="110.08" r="1.05" fill="#efede0" stroke="#5d5a48" stroke-width="0.38"/>
<circle cx="142.21" cy="104.38" r="1.05" fill="#efede0" stroke="#5d5a48" stroke-width="0.38"/>
<circle cx="143.00" cy="113.12" r="1.05" fill="#efede0" stroke="#5d5a48" stroke-width="0.38"/>
<circle cx="139.72" cy="106.23" r="1.05" fill="#efede0" stroke="#5d5a48" stroke-width="0.38"/>
<circle cx="142.00" cy="111.14" r="1.05" fill="#efede0" stroke="#5d5a48" stroke-width="0.38"/>
<circle cx="143.66" cy="110.41" r="1.05" fill="#efede0" stroke="#5d5a48" stroke-width="0.38"/>
<circle cx="144.67" cy="100.40" r="1.05" fill="#efede0" stroke="#5d5a48" stroke-width="0.38"/>
<circle cx="142.67" cy="102.48" r="1.05" fill="#efede0" stroke="#5d5a48" stroke-width="0.38"/>
<circle cx="144.43" cy="98.08" r="1.05" fill="#efede0" stroke="#5d5a48" stroke-width="0.38"/>
<circle cx="143.30" cy="97.05" r="1.05" fill="#efede0" stroke="#5d5a48" stroke-width="0.38"/>
<circle cx="142.20" cy="114.67" r="1.05" fill="#efede0" stroke="#5d5a48" stroke-width="0.38"/>
<circle cx="139.16" cy="107.94" r="1.05" fill="#efede0" stroke="#5d5a48" stroke-width="0.38"/>
<circle cx="140.67" cy="114.14" r="1.05" fill="#efede0" stroke="#5d5a48" stroke-width="0.38"/>
<circle cx="138.80" cy="111.77" r="1.05" fill="#efede0" stroke="#5d5a48" stroke-width="0.38"/>
<circle cx="145.84" cy="95.29" r="1.05" fill="#efede0" stroke="#5d5a48" stroke-width="0.38"/>
<circle cx="139.71" cy="103.49" r="1.05" fill="#efede0" stroke="#5d5a48" stroke-width="0.38"/>
<circle cx="145.78" cy="101.86" r="1.05" fill="#efede0" stroke="#5d5a48" stroke-width="0.38"/>
<circle cx="142.19" cy="108.13" r="1.05" fill="#efede0" stroke="#5d5a48" stroke-width="0.38"/>
<circle cx="141.35" cy="115.70" r="1.05" fill="#efede0" stroke="#5d5a48" stroke-width="0.38"/>
<circle cx="145.34" cy="93.76" r="1.05" fill="#efede0" stroke="#5d5a48" stroke-width="0.38"/>
<circle cx="140.58" cy="121.31" r="1.05" fill="#efede0" stroke="#5d5a48" stroke-width="0.38"/>
<circle cx="140.99" cy="119.31" r="1.05" fill="#efede0" stroke="#5d5a48" stroke-width="0.38"/>
<circle cx="147.37" cy="95.94" r="1.05" fill="#efede0" stroke="#5d5a48" stroke-width="0.38"/>
<circle cx="140.61" cy="117.39" r="1.05" fill="#efede0" stroke="#5d5a48" stroke-width="0.38"/>
<circle cx="140.44" cy="96.23" r="1.05" fill="#efede0" stroke="#5d5a48" stroke-width="0.38"/>
<circle cx="140.74" cy="100.38" r="1.05" fill="#efede0" stroke="#5d5a48" stroke-width="0.38"/>
<circle cx="146.55" cy="94.20" r="1.05" fill="#efede0" stroke="#5d5a48" stroke-width="0.38"/>
<circle cx="143.07" cy="99.23" r="1.05" fill="#efede0" stroke="#5d5a48" stroke-width="0.38"/>
<circle cx="139.89" cy="98.64" r="1.05" fill="#efede0" stroke="#5d5a48" stroke-width="0.38"/>
<circle cx="141.42" cy="109.59" r="1.05" fill="#efede0" stroke="#5d5a48" stroke-width="0.38"/>
<circle cx="138.50" cy="121.14" r="1.05" fill="#efede0" stroke="#5d5a48" stroke-width="0.38"/>
<circle cx="144.27" cy="108.25" r="1.05" fill="#efede0" stroke="#5d5a48" stroke-width="0.38"/>
<circle cx="142.73" cy="94.80" r="1.05" fill="#efede0" stroke="#5d5a48" stroke-width="0.38"/>
<circle cx="139.34" cy="119.68" r="1.05" fill="#efede0" stroke="#5d5a48" stroke-width="0.38"/>
<circle cx="141.69" cy="99.38" r="1.05" fill="#efede0" stroke="#5d5a48" stroke-width="0.38"/>
<circle cx="143.20" cy="105.86" r="1.05" fill="#efede0" stroke="#5d5a48" stroke-width="0.38"/>
<circle cx="140.79" cy="108.34" r="1.05" fill="#efede0" stroke="#5d5a48" stroke-width="0.38"/>
<circle cx="141.00" cy="101.86" r="1.05" fill="#efede0" stroke="#5d5a48" stroke-width="0.38"/>
<circle cx="141.75" cy="120.85" r="1.05" fill="#efede0" stroke="#5d5a48" stroke-width="0.38"/>
<circle cx="140.85" cy="94.45" r="1.05" fill="#efede0" stroke="#5d5a48" stroke-width="0.38"/>
<circle cx="140.58" cy="104.57" r="1.05" fill="#efede0" stroke="#5d5a48" stroke-width="0.38"/>
<circle cx="144.73" cy="105.28" r="1.05" fill="#efede0" stroke="#5d5a48" stroke-width="0.38"/>
<circle cx="144.06" cy="102.79" r="1.05" fill="#efede0" stroke="#5d5a48" stroke-width="0.38"/>
<circle cx="139.13" cy="115.49" r="1.05" fill="#efede0" stroke="#5d5a48" stroke-width="0.38"/>
<circle cx="144.50" cy="95.73" r="1.05" fill="#efede0" stroke="#5d5a48" stroke-width="0.38"/>
<circle cx="142.57" cy="119.01" r="1.05" fill="#efede0" stroke="#5d5a48" stroke-width="0.38"/>
<circle cx="138.44" cy="116.71" r="1.05" fill="#efede0" stroke="#5d5a48" stroke-width="0.38"/>
<circle cx="147.80" cy="94.15" r="1.05" fill="#efede0" stroke="#5d5a48" stroke-width="0.38"/>
<circle cx="142.44" cy="98.08" r="1.05" fill="#efede0" stroke="#5d5a48" stroke-width="0.38"/>
<circle cx="141.60" cy="129.70" r="1.15" fill="#efede0" stroke="#5d5a48" stroke-width="0.4"/>
<circle cx="143.50" cy="134.90" r="1.15" fill="#efede0" stroke="#5d5a48" stroke-width="0.4"/>
<circle cx="142.20" cy="137.20" r="1.15" fill="#efede0" stroke="#5d5a48" stroke-width="0.4"/>
<circle cx="144.30" cy="133.20" r="1.15" fill="#efede0" stroke="#5d5a48" stroke-width="0.4"/>
<circle cx="142.70" cy="143.60" r="1.15" fill="#efede0" stroke="#5d5a48" stroke-width="0.4"/>
<line x1="167.95" y1="93.00" x2="167.95" y2="102.00" stroke="#444" stroke-width="0.5" />
<line x1="167.95" y1="107.90" x2="167.95" y2="118.00" stroke="#444" stroke-width="0.5" />
<rect x="158.30" y="102.00" width="19.30" height="5.90" fill="#f9d3d6" stroke="#444" stroke-width="0.5" />
<line x1="158.30" y1="104.10" x2="177.60" y2="104.10" stroke="#444" stroke-width="0.9" />
<circle cx="169.19" cy="105.99" r="1.15" fill="#dd0000" stroke="#4a0000" stroke-width="0.35"/>
<circle cx="167.06" cy="103.73" r="1.15" fill="#dd0000" stroke="#4a0000" stroke-width="0.35"/>
<circle cx="170.89" cy="109.73" r="1.15" fill="#dd0000" stroke="#4a0000" stroke-width="0.35"/>
<circle cx="164.20" cy="101.80" r="1.15" fill="#dd0000" stroke="#4a0000" stroke-width="0.35"/>
<circle cx="164.41" cy="110.19" r="1.15" fill="#dd0000" stroke="#4a0000" stroke-width="0.35"/>
<circle cx="165.85" cy="103.80" r="1.15" fill="#dd0000" stroke="#4a0000" stroke-width="0.35"/>
<circle cx="166.21" cy="102.92" r="1.15" fill="#dd0000" stroke="#4a0000" stroke-width="0.35"/>
<circle cx="162.90" cy="102.84" r="1.15" fill="#dd0000" stroke="#4a0000" stroke-width="0.35"/>
<circle cx="164.83" cy="107.32" r="1.15" fill="#dd0000" stroke="#4a0000" stroke-width="0.35"/>
<circle cx="165.21" cy="105.55" r="1.15" fill="#dd0000" stroke="#4a0000" stroke-width="0.35"/>
<circle cx="170.35" cy="105.09" r="1.15" fill="#dd0000" stroke="#4a0000" stroke-width="0.35"/>
<circle cx="170.71" cy="97.87" r="1.15" fill="#dd0000" stroke="#4a0000" stroke-width="0.35"/>
<circle cx="167.87" cy="115.53" r="1.15" fill="#dd0000" stroke="#4a0000" stroke-width="0.35"/>
<circle cx="168.71" cy="95.08" r="1.15" fill="#dd0000" stroke="#4a0000" stroke-width="0.35"/>
<circle cx="164.05" cy="109.53" r="1.15" fill="#dd0000" stroke="#4a0000" stroke-width="0.35"/>
<circle cx="167.38" cy="98.91" r="1.15" fill="#dd0000" stroke="#4a0000" stroke-width="0.35"/>
<circle cx="163.62" cy="100.29" r="1.15" fill="#dd0000" stroke="#4a0000" stroke-width="0.35"/>
<circle cx="164.42" cy="103.29" r="1.15" fill="#dd0000" stroke="#4a0000" stroke-width="0.35"/>
<circle cx="168.58" cy="100.44" r="1.15" fill="#dd0000" stroke="#4a0000" stroke-width="0.35"/>
<circle cx="166.55" cy="93.62" r="1.15" fill="#dd0000" stroke="#4a0000" stroke-width="0.35"/>
<circle cx="168.56" cy="104.55" r="1.15" fill="#dd0000" stroke="#4a0000" stroke-width="0.35"/>
<circle cx="167.46" cy="104.10" r="1.15" fill="#dd0000" stroke="#4a0000" stroke-width="0.35"/>
<circle cx="163.89" cy="100.45" r="1.15" fill="#dd0000" stroke="#4a0000" stroke-width="0.35"/>
<circle cx="164.38" cy="104.99" r="1.15" fill="#dd0000" stroke="#4a0000" stroke-width="0.35"/>
<circle cx="165.50" cy="109.61" r="1.15" fill="#dd0000" stroke="#4a0000" stroke-width="0.35"/>
<circle cx="167.68" cy="109.87" r="1.15" fill="#dd0000" stroke="#4a0000" stroke-width="0.35"/>
<circle cx="169.35" cy="97.17" r="1.15" fill="#dd0000" stroke="#4a0000" stroke-width="0.35"/>
<circle cx="169.67" cy="107.25" r="1.15" fill="#dd0000" stroke="#4a0000" stroke-width="0.35"/>
<circle cx="170.31" cy="112.96" r="1.15" fill="#dd0000" stroke="#4a0000" stroke-width="0.35"/>
<circle cx="170.02" cy="116.29" r="1.15" fill="#dd0000" stroke="#4a0000" stroke-width="0.35"/>
<circle cx="169.95" cy="108.30" r="1.15" fill="#dd0000" stroke="#4a0000" stroke-width="0.35"/>
<circle cx="170.27" cy="104.63" r="1.15" fill="#dd0000" stroke="#4a0000" stroke-width="0.35"/>
<circle cx="169.43" cy="113.12" r="1.15" fill="#dd0000" stroke="#4a0000" stroke-width="0.35"/>
<circle cx="168.71" cy="109.95" r="1.15" fill="#dd0000" stroke="#4a0000" stroke-width="0.35"/>
<circle cx="163.47" cy="99.66" r="1.15" fill="#dd0000" stroke="#4a0000" stroke-width="0.35"/>
<circle cx="169.17" cy="102.26" r="1.15" fill="#dd0000" stroke="#4a0000" stroke-width="0.35"/>
<circle cx="170.74" cy="101.11" r="1.15" fill="#dd0000" stroke="#4a0000" stroke-width="0.35"/>
<circle cx="163.18" cy="102.42" r="1.15" fill="#dd0000" stroke="#4a0000" stroke-width="0.35"/>
<circle cx="167.35" cy="105.65" r="1.15" fill="#dd0000" stroke="#4a0000" stroke-width="0.35"/>
<circle cx="168.17" cy="109.48" r="1.15" fill="#dd0000" stroke="#4a0000" stroke-width="0.35"/>
<circle cx="167.20" cy="112.17" r="1.15" fill="#dd0000" stroke="#4a0000" stroke-width="0.35"/>
<circle cx="166.83" cy="102.37" r="1.15" fill="#dd0000" stroke="#4a0000" stroke-width="0.35"/>
<circle cx="163.21" cy="100.98" r="1.15" fill="#dd0000" stroke="#4a0000" stroke-width="0.35"/>
<circle cx="164.16" cy="93.81" r="1.15" fill="#dd0000" stroke="#4a0000" stroke-width="0.35"/>
<circle cx="168.86" cy="100.87" r="1.15" fill="#dd0000" stroke="#4a0000" stroke-width="0.35"/>
<circle cx="164.63" cy="109.30" r="1.15" fill="#dd0000" stroke="#4a0000" stroke-width="0.35"/>
<circle cx="165.02" cy="103.80" r="1.15" fill="#dd0000" stroke="#4a0000" stroke-width="0.35"/>
<circle cx="169.63" cy="105.23" r="1.15" fill="#dd0000" stroke="#4a0000" stroke-width="0.35"/>
<circle cx="165.10" cy="101.87" r="1.15" fill="#dd0000" stroke="#4a0000" stroke-width="0.35"/>
<circle cx="170.26" cy="104.46" r="1.15" fill="#dd0000" stroke="#4a0000" stroke-width="0.35"/>
<circle cx="165.59" cy="106.69" r="1.15" fill="#dd0000" stroke="#4a0000" stroke-width="0.35"/>
<circle cx="170.50" cy="111.07" r="1.15" fill="#dd0000" stroke="#4a0000" stroke-width="0.35"/>
<circle cx="166.37" cy="102.98" r="1.15" fill="#dd0000" stroke="#4a0000" stroke-width="0.35"/>
<circle cx="163.56" cy="107.50" r="1.15" fill="#dd0000" stroke="#4a0000" stroke-width="0.35"/>
<circle cx="165.68" cy="105.59" r="1.15" fill="#dd0000" stroke="#4a0000" stroke-width="0.35"/>
<circle cx="164.43" cy="113.21" r="1.15" fill="#dd0000" stroke="#4a0000" stroke-width="0.35"/>
<circle cx="169.80" cy="108.28" r="1.15" fill="#dd0000" stroke="#4a0000" stroke-width="0.35"/>
<circle cx="168.82" cy="102.15" r="1.15" fill="#dd0000" stroke="#4a0000" stroke-width="0.35"/>
<circle cx="167.91" cy="95.86" r="1.15" fill="#dd0000" stroke="#4a0000" stroke-width="0.35"/>
<circle cx="170.20" cy="101.00" r="1.15" fill="#dd0000" stroke="#4a0000" stroke-width="0.35"/>
<circle cx="168.57" cy="102.36" r="1.15" fill="#dd0000" stroke="#4a0000" stroke-width="0.35"/>
<circle cx="167.26" cy="99.55" r="1.15" fill="#dd0000" stroke="#4a0000" stroke-width="0.35"/>
<circle cx="166.78" cy="106.64" r="1.15" fill="#dd0000" stroke="#4a0000" stroke-width="0.35"/>
<circle cx="171.31" cy="102.61" r="1.15" fill="#dd0000" stroke="#4a0000" stroke-width="0.35"/>
<circle cx="170.72" cy="112.81" r="1.15" fill="#dd0000" stroke="#4a0000" stroke-width="0.35"/>
<circle cx="168.16" cy="107.99" r="1.15" fill="#dd0000" stroke="#4a0000" stroke-width="0.35"/>
<circle cx="165.12" cy="113.72" r="1.15" fill="#dd0000" stroke="#4a0000" stroke-width="0.35"/>
<circle cx="167.36" cy="107.65" r="1.15" fill="#dd0000" stroke="#4a0000" stroke-width="0.35"/>
<circle cx="164.95" cy="106.13" r="1.15" fill="#dd0000" stroke="#4a0000" stroke-width="0.35"/>
<circle cx="163.83" cy="99.25" r="1.15" fill="#dd0000" stroke="#4a0000" stroke-width="0.35"/>
<circle cx="168.91" cy="102.47" r="1.15" fill="#dd0000" stroke="#4a0000" stroke-width="0.35"/>
<circle cx="170.10" cy="106.32" r="1.15" fill="#dd0000" stroke="#4a0000" stroke-width="0.35"/>
<circle cx="169.77" cy="110.90" r="1.15" fill="#dd0000" stroke="#4a0000" stroke-width="0.35"/>
<circle cx="169.65" cy="106.52" r="1.15" fill="#dd0000" stroke="#4a0000" stroke-width="0.35"/>
<circle cx="168.80" cy="103.30" r="1.15" fill="#dd0000" stroke="#4a0000" stroke-width="0.35"/>
<circle cx="167.38" cy="111.34" r="1.15" fill="#dd0000" stroke="#4a0000" stroke-width="0.35"/>
<circle cx="171.30" cy="117.18" r="1.15" fill="#dd0000" stroke="#4a0000" stroke-width="0.35"/>
<circle cx="163.90" cy="103.93" r="1.15" fill="#dd0000" stroke="#4a0000" stroke-width="0.35"/>
<circle cx="167.89" cy="111.91" r="1.15" fill="#dd0000" stroke="#4a0000" stroke-width="0.35"/>
<circle cx="165.14" cy="105.24" r="1.15" fill="#dd0000" stroke="#4a0000" stroke-width="0.35"/>
<circle cx="169.81" cy="104.44" r="1.15" fill="#dd0000" stroke="#4a0000" stroke-width="0.35"/>
<circle cx="162.92" cy="114.53" r="1.15" fill="#dd0000" stroke="#4a0000" stroke-width="0.35"/>
<circle cx="166.52" cy="110.86" r="1.15" fill="#dd0000" stroke="#4a0000" stroke-width="0.35"/>
<circle cx="164.16" cy="110.67" r="1.15" fill="#dd0000" stroke="#4a0000" stroke-width="0.35"/>
<circle cx="163.48" cy="109.09" r="1.15" fill="#dd0000" stroke="#4a0000" stroke-width="0.35"/>
<circle cx="166.42" cy="102.32" r="1.15" fill="#dd0000" stroke="#4a0000" stroke-width="0.35"/>
<circle cx="169.54" cy="96.82" r="1.15" fill="#dd0000" stroke="#4a0000" stroke-width="0.35"/>
<circle cx="163.52" cy="108.82" r="1.15" fill="#dd0000" stroke="#4a0000" stroke-width="0.35"/>
<circle cx="167.08" cy="106.29" r="1.15" fill="#dd0000" stroke="#4a0000" stroke-width="0.35"/>
<circle cx="169.88" cy="113.81" r="1.15" fill="#dd0000" stroke="#4a0000" stroke-width="0.35"/>
<circle cx="168.53" cy="95.65" r="1.15" fill="#dd0000" stroke="#4a0000" stroke-width="0.35"/>
<circle cx="165.45" cy="117.18" r="1.15" fill="#dd0000" stroke="#4a0000" stroke-width="0.35"/>
<circle cx="165.49" cy="114.94" r="1.15" fill="#dd0000" stroke="#4a0000" stroke-width="0.35"/>
<circle cx="169.58" cy="96.58" r="1.15" fill="#dd0000" stroke="#4a0000" stroke-width="0.35"/>
<circle cx="167.55" cy="103.81" r="1.15" fill="#dd0000" stroke="#4a0000" stroke-width="0.35"/>
<circle cx="168.49" cy="113.27" r="1.15" fill="#dd0000" stroke="#4a0000" stroke-width="0.35"/>
<circle cx="165.22" cy="99.00" r="1.15" fill="#dd0000" stroke="#4a0000" stroke-width="0.35"/>
<circle cx="169.47" cy="99.37" r="1.15" fill="#dd0000" stroke="#4a0000" stroke-width="0.35"/>
<circle cx="165.22" cy="98.65" r="1.15" fill="#dd0000" stroke="#4a0000" stroke-width="0.35"/>
<circle cx="164.37" cy="106.51" r="1.15" fill="#dd0000" stroke="#4a0000" stroke-width="0.35"/>
<circle cx="171.06" cy="94.86" r="1.15" fill="#dd0000" stroke="#4a0000" stroke-width="0.35"/>
<circle cx="165.77" cy="97.56" r="1.15" fill="#dd0000" stroke="#4a0000" stroke-width="0.35"/>
<circle cx="166.20" cy="104.60" r="1.15" fill="#dd0000" stroke="#4a0000" stroke-width="0.35"/>
<circle cx="166.93" cy="108.27" r="1.15" fill="#dd0000" stroke="#4a0000" stroke-width="0.35"/>
<circle cx="163.88" cy="97.39" r="1.15" fill="#dd0000" stroke="#4a0000" stroke-width="0.35"/>
<circle cx="170.62" cy="102.65" r="1.15" fill="#dd0000" stroke="#4a0000" stroke-width="0.35"/>
<circle cx="164.85" cy="102.78" r="1.15" fill="#dd0000" stroke="#4a0000" stroke-width="0.35"/>
<circle cx="165.44" cy="104.67" r="1.15" fill="#dd0000" stroke="#4a0000" stroke-width="0.35"/>
<circle cx="164.18" cy="104.84" r="1.15" fill="#dd0000" stroke="#4a0000" stroke-width="0.35"/>
<circle cx="170.75" cy="100.34" r="1.15" fill="#dd0000" stroke="#4a0000" stroke-width="0.35"/>
<circle cx="162.89" cy="99.28" r="1.15" fill="#dd0000" stroke="#4a0000" stroke-width="0.35"/>
<circle cx="163.58" cy="117.04" r="1.15" fill="#dd0000" stroke="#4a0000" stroke-width="0.35"/>
<circle cx="167.54" cy="105.48" r="1.15" fill="#dd0000" stroke="#4a0000" stroke-width="0.35"/>
<circle cx="165.69" cy="109.79" r="1.15" fill="#dd0000" stroke="#4a0000" stroke-width="0.35"/>
<circle cx="167.80" cy="118.04" r="1.15" fill="#dd0000" stroke="#4a0000" stroke-width="0.35"/>
<circle cx="171.47" cy="100.73" r="1.15" fill="#dd0000" stroke="#4a0000" stroke-width="0.35"/>
<circle cx="167.96" cy="114.54" r="1.15" fill="#dd0000" stroke="#4a0000" stroke-width="0.35"/>
<circle cx="163.23" cy="110.09" r="1.15" fill="#dd0000" stroke="#4a0000" stroke-width="0.35"/>
<circle cx="166.40" cy="108.82" r="1.15" fill="#dd0000" stroke="#4a0000" stroke-width="0.35"/>
<circle cx="168.83" cy="110.01" r="1.15" fill="#dd0000" stroke="#4a0000" stroke-width="0.35"/>
<circle cx="168.70" cy="126.20" r="1.20" fill="#dd0000" stroke="#4a0000" stroke-width="0.35"/>
<circle cx="171.80" cy="137.00" r="1.20" fill="#dd0000" stroke="#4a0000" stroke-width="0.35"/>
<line x1="193.10" y1="93.00" x2="193.10" y2="100.00" stroke="#444" stroke-width="0.5" />
<line x1="193.10" y1="106.80" x2="193.10" y2="112.00" stroke="#444" stroke-width="0.5" />
<rect x="183.20" y="100.00" width="19.80" height="6.80" fill="#f9d3d6" stroke="#444" stroke-width="0.5" />
<line x1="183.20" y1="103.30" x2="203.00" y2="103.30" stroke="#444" stroke-width="0.9" />
<circle cx="192.71" cy="94.21" r="1.15" fill="#8a0000" stroke="#2a0000" stroke-width="0.35"/>
<circle cx="195.00" cy="94.95" r="1.15" fill="#8a0000" stroke="#2a0000" stroke-width="0.35"/>
<circle cx="195.20" cy="107.59" r="1.15" fill="#8a0000" stroke="#2a0000" stroke-width="0.35"/>
<circle cx="195.15" cy="99.66" r="1.15" fill="#8a0000" stroke="#2a0000" stroke-width="0.35"/>
<circle cx="190.12" cy="102.86" r="1.15" fill="#8a0000" stroke="#2a0000" stroke-width="0.35"/>
<circle cx="197.57" cy="100.94" r="1.15" fill="#8a0000" stroke="#2a0000" stroke-width="0.35"/>
<circle cx="195.28" cy="101.92" r="1.15" fill="#8a0000" stroke="#2a0000" stroke-width="0.35"/>
<circle cx="190.12" cy="98.11" r="1.15" fill="#8a0000" stroke="#2a0000" stroke-width="0.35"/>
<circle cx="190.66" cy="98.56" r="1.15" fill="#8a0000" stroke="#2a0000" stroke-width="0.35"/>
<circle cx="189.84" cy="106.15" r="1.15" fill="#8a0000" stroke="#2a0000" stroke-width="0.35"/>
<circle cx="191.46" cy="94.79" r="1.15" fill="#8a0000" stroke="#2a0000" stroke-width="0.35"/>
<circle cx="194.54" cy="101.66" r="1.15" fill="#8a0000" stroke="#2a0000" stroke-width="0.35"/>
<circle cx="191.10" cy="103.67" r="1.15" fill="#8a0000" stroke="#2a0000" stroke-width="0.35"/>
<circle cx="189.41" cy="101.81" r="1.15" fill="#8a0000" stroke="#2a0000" stroke-width="0.35"/>
<circle cx="192.55" cy="99.72" r="1.15" fill="#8a0000" stroke="#2a0000" stroke-width="0.35"/>
<circle cx="190.82" cy="97.37" r="1.15" fill="#8a0000" stroke="#2a0000" stroke-width="0.35"/>
<circle cx="192.63" cy="103.42" r="1.15" fill="#8a0000" stroke="#2a0000" stroke-width="0.35"/>
<circle cx="191.70" cy="103.64" r="1.15" fill="#8a0000" stroke="#2a0000" stroke-width="0.35"/>
<circle cx="197.22" cy="98.77" r="1.15" fill="#8a0000" stroke="#2a0000" stroke-width="0.35"/>
<circle cx="188.89" cy="102.38" r="1.15" fill="#8a0000" stroke="#2a0000" stroke-width="0.35"/>
<circle cx="194.65" cy="104.76" r="1.15" fill="#8a0000" stroke="#2a0000" stroke-width="0.35"/>
<circle cx="192.90" cy="102.70" r="1.15" fill="#8a0000" stroke="#2a0000" stroke-width="0.35"/>
<circle cx="192.17" cy="100.53" r="1.15" fill="#8a0000" stroke="#2a0000" stroke-width="0.35"/>
<circle cx="192.06" cy="100.28" r="1.15" fill="#8a0000" stroke="#2a0000" stroke-width="0.35"/>
<circle cx="189.87" cy="105.23" r="1.15" fill="#8a0000" stroke="#2a0000" stroke-width="0.35"/>
<circle cx="193.42" cy="104.94" r="1.15" fill="#8a0000" stroke="#2a0000" stroke-width="0.35"/>
<circle cx="194.37" cy="100.43" r="1.15" fill="#8a0000" stroke="#2a0000" stroke-width="0.35"/>
<circle cx="193.31" cy="98.88" r="1.15" fill="#8a0000" stroke="#2a0000" stroke-width="0.35"/>
<circle cx="197.03" cy="97.26" r="1.15" fill="#8a0000" stroke="#2a0000" stroke-width="0.35"/>
<circle cx="191.32" cy="103.55" r="1.15" fill="#8a0000" stroke="#2a0000" stroke-width="0.35"/>
<circle cx="195.26" cy="104.97" r="1.15" fill="#8a0000" stroke="#2a0000" stroke-width="0.35"/>
<circle cx="189.30" cy="97.59" r="1.15" fill="#8a0000" stroke="#2a0000" stroke-width="0.35"/>
<circle cx="189.74" cy="104.30" r="1.15" fill="#8a0000" stroke="#2a0000" stroke-width="0.35"/>
<circle cx="192.74" cy="99.91" r="1.15" fill="#8a0000" stroke="#2a0000" stroke-width="0.35"/>
<circle cx="190.74" cy="99.06" r="1.15" fill="#8a0000" stroke="#2a0000" stroke-width="0.35"/>
<circle cx="196.77" cy="100.78" r="1.15" fill="#8a0000" stroke="#2a0000" stroke-width="0.35"/>
<circle cx="194.22" cy="105.02" r="1.15" fill="#8a0000" stroke="#2a0000" stroke-width="0.35"/>
<circle cx="196.13" cy="98.41" r="1.15" fill="#8a0000" stroke="#2a0000" stroke-width="0.35"/>
<circle cx="193.65" cy="102.30" r="1.15" fill="#8a0000" stroke="#2a0000" stroke-width="0.35"/>
<circle cx="197.15" cy="104.10" r="1.15" fill="#8a0000" stroke="#2a0000" stroke-width="0.35"/>
<circle cx="191.50" cy="104.35" r="1.15" fill="#8a0000" stroke="#2a0000" stroke-width="0.35"/>
<circle cx="196.46" cy="100.09" r="1.15" fill="#8a0000" stroke="#2a0000" stroke-width="0.35"/>
<circle cx="190.81" cy="103.20" r="1.15" fill="#8a0000" stroke="#2a0000" stroke-width="0.35"/>
<circle cx="193.44" cy="94.62" r="1.15" fill="#8a0000" stroke="#2a0000" stroke-width="0.35"/>
<circle cx="191.98" cy="98.87" r="1.15" fill="#8a0000" stroke="#2a0000" stroke-width="0.35"/>
<circle cx="190.92" cy="101.50" r="1.15" fill="#8a0000" stroke="#2a0000" stroke-width="0.35"/>
<circle cx="194.15" cy="109.68" r="1.15" fill="#8a0000" stroke="#2a0000" stroke-width="0.35"/>
<circle cx="194.64" cy="99.00" r="1.15" fill="#8a0000" stroke="#2a0000" stroke-width="0.35"/>
<circle cx="195.92" cy="99.58" r="1.15" fill="#8a0000" stroke="#2a0000" stroke-width="0.35"/>
<circle cx="196.79" cy="100.34" r="1.15" fill="#8a0000" stroke="#2a0000" stroke-width="0.35"/>
<circle cx="193.39" cy="100.98" r="1.15" fill="#8a0000" stroke="#2a0000" stroke-width="0.35"/>
<circle cx="192.48" cy="103.47" r="1.15" fill="#8a0000" stroke="#2a0000" stroke-width="0.35"/>
<circle cx="192.48" cy="106.90" r="1.15" fill="#8a0000" stroke="#2a0000" stroke-width="0.35"/>
<circle cx="193.39" cy="95.22" r="1.15" fill="#8a0000" stroke="#2a0000" stroke-width="0.35"/>
<circle cx="194.36" cy="94.70" r="1.15" fill="#8a0000" stroke="#2a0000" stroke-width="0.35"/>
<circle cx="194.54" cy="102.92" r="1.15" fill="#8a0000" stroke="#2a0000" stroke-width="0.35"/>
<circle cx="189.08" cy="103.81" r="1.15" fill="#8a0000" stroke="#2a0000" stroke-width="0.35"/>
<circle cx="190.96" cy="110.84" r="1.15" fill="#8a0000" stroke="#2a0000" stroke-width="0.35"/>
<circle cx="194.02" cy="100.94" r="1.15" fill="#8a0000" stroke="#2a0000" stroke-width="0.35"/>
<circle cx="191.49" cy="101.61" r="1.15" fill="#8a0000" stroke="#2a0000" stroke-width="0.35"/>
<circle cx="192.02" cy="100.94" r="1.15" fill="#8a0000" stroke="#2a0000" stroke-width="0.35"/>
<circle cx="193.79" cy="103.75" r="1.15" fill="#8a0000" stroke="#2a0000" stroke-width="0.35"/>
<circle cx="197.45" cy="111.07" r="1.15" fill="#8a0000" stroke="#2a0000" stroke-width="0.35"/>
<circle cx="193.29" cy="104.86" r="1.15" fill="#8a0000" stroke="#2a0000" stroke-width="0.35"/>
<circle cx="194.48" cy="99.04" r="1.15" fill="#8a0000" stroke="#2a0000" stroke-width="0.35"/>
<circle cx="193.29" cy="99.13" r="1.15" fill="#8a0000" stroke="#2a0000" stroke-width="0.35"/>
<circle cx="191.87" cy="97.10" r="1.15" fill="#8a0000" stroke="#2a0000" stroke-width="0.35"/>
<circle cx="194.59" cy="108.86" r="1.15" fill="#8a0000" stroke="#2a0000" stroke-width="0.35"/>
<circle cx="188.64" cy="107.31" r="1.15" fill="#8a0000" stroke="#2a0000" stroke-width="0.35"/>
<circle cx="192.29" cy="104.57" r="1.15" fill="#8a0000" stroke="#2a0000" stroke-width="0.35"/>
<circle cx="194.29" cy="105.05" r="1.15" fill="#8a0000" stroke="#2a0000" stroke-width="0.35"/>
<circle cx="195.80" cy="100.29" r="1.15" fill="#8a0000" stroke="#2a0000" stroke-width="0.35"/>
<circle cx="189.82" cy="98.56" r="1.15" fill="#8a0000" stroke="#2a0000" stroke-width="0.35"/>
<circle cx="193.50" cy="104.30" r="1.15" fill="#8a0000" stroke="#2a0000" stroke-width="0.35"/>
<circle cx="194.14" cy="100.02" r="1.15" fill="#8a0000" stroke="#2a0000" stroke-width="0.35"/>
<circle cx="190.71" cy="107.33" r="1.15" fill="#8a0000" stroke="#2a0000" stroke-width="0.35"/>
<circle cx="194.57" cy="100.79" r="1.15" fill="#8a0000" stroke="#2a0000" stroke-width="0.35"/>
<circle cx="195.19" cy="102.80" r="1.15" fill="#8a0000" stroke="#2a0000" stroke-width="0.35"/>
<circle cx="194.32" cy="101.06" r="1.15" fill="#8a0000" stroke="#2a0000" stroke-width="0.35"/>
<circle cx="192.68" cy="105.30" r="1.15" fill="#8a0000" stroke="#2a0000" stroke-width="0.35"/>
<circle cx="192.67" cy="105.39" r="1.15" fill="#8a0000" stroke="#2a0000" stroke-width="0.35"/>
<circle cx="192.45" cy="94.40" r="1.15" fill="#8a0000" stroke="#2a0000" stroke-width="0.35"/>
<circle cx="192.88" cy="96.09" r="1.15" fill="#8a0000" stroke="#2a0000" stroke-width="0.35"/>
<circle cx="193.51" cy="98.72" r="1.15" fill="#8a0000" stroke="#2a0000" stroke-width="0.35"/>
<circle cx="192.97" cy="96.71" r="1.15" fill="#8a0000" stroke="#2a0000" stroke-width="0.35"/>
<circle cx="189.79" cy="107.56" r="1.15" fill="#8a0000" stroke="#2a0000" stroke-width="0.35"/>
<circle cx="191.65" cy="99.01" r="1.15" fill="#8a0000" stroke="#2a0000" stroke-width="0.35"/>
<circle cx="193.86" cy="98.74" r="1.15" fill="#8a0000" stroke="#2a0000" stroke-width="0.35"/>
<circle cx="192.22" cy="105.49" r="1.15" fill="#8a0000" stroke="#2a0000" stroke-width="0.35"/>
<circle cx="194.35" cy="98.32" r="1.15" fill="#8a0000" stroke="#2a0000" stroke-width="0.35"/>
<circle cx="197.50" cy="107.31" r="1.15" fill="#8a0000" stroke="#2a0000" stroke-width="0.35"/>
<circle cx="189.16" cy="94.75" r="1.15" fill="#8a0000" stroke="#2a0000" stroke-width="0.35"/>
<circle cx="191.88" cy="97.34" r="1.15" fill="#8a0000" stroke="#2a0000" stroke-width="0.35"/>
<circle cx="191.40" cy="101.09" r="1.15" fill="#8a0000" stroke="#2a0000" stroke-width="0.35"/>
<circle cx="194.51" cy="94.94" r="1.15" fill="#8a0000" stroke="#2a0000" stroke-width="0.35"/>
<circle cx="189.25" cy="97.39" r="1.15" fill="#8a0000" stroke="#2a0000" stroke-width="0.35"/>
<circle cx="192.08" cy="103.96" r="1.15" fill="#8a0000" stroke="#2a0000" stroke-width="0.35"/>
<circle cx="194.11" cy="101.19" r="1.15" fill="#8a0000" stroke="#2a0000" stroke-width="0.35"/>
<circle cx="191.33" cy="106.63" r="1.15" fill="#8a0000" stroke="#2a0000" stroke-width="0.35"/>
<circle cx="189.78" cy="102.36" r="1.15" fill="#8a0000" stroke="#2a0000" stroke-width="0.35"/>
<circle cx="194.72" cy="102.70" r="1.15" fill="#8a0000" stroke="#2a0000" stroke-width="0.35"/>
<circle cx="191.08" cy="106.08" r="1.15" fill="#8a0000" stroke="#2a0000" stroke-width="0.35"/>
<circle cx="195.90" cy="103.81" r="1.15" fill="#8a0000" stroke="#2a0000" stroke-width="0.35"/>
<circle cx="189.84" cy="102.70" r="1.15" fill="#8a0000" stroke="#2a0000" stroke-width="0.35"/>
<circle cx="190.89" cy="100.71" r="1.15" fill="#8a0000" stroke="#2a0000" stroke-width="0.35"/>
<circle cx="197.08" cy="105.23" r="1.15" fill="#8a0000" stroke="#2a0000" stroke-width="0.35"/>
<circle cx="192.22" cy="106.70" r="1.15" fill="#8a0000" stroke="#2a0000" stroke-width="0.35"/>
<circle cx="196.90" cy="99.48" r="1.15" fill="#8a0000" stroke="#2a0000" stroke-width="0.35"/>
<circle cx="192.13" cy="96.59" r="1.15" fill="#8a0000" stroke="#2a0000" stroke-width="0.35"/>
<circle cx="191.95" cy="100.68" r="1.15" fill="#8a0000" stroke="#2a0000" stroke-width="0.35"/>
<circle cx="190.20" cy="119.30" r="1.15" fill="#8a0000" stroke="#2a0000" stroke-width="0.35"/>
<circle cx="189.00" cy="116.00" r="1.15" fill="#8a0000" stroke="#2a0000" stroke-width="0.35"/>
<circle cx="195.00" cy="114.50" r="1.15" fill="#8a0000" stroke="#2a0000" stroke-width="0.35"/>
<circle cx="192.00" cy="113.00" r="1.15" fill="#8a0000" stroke="#2a0000" stroke-width="0.35"/>
<text x="194.10" y="132.50" font-size="4.4" text-anchor="middle" fill="#222" font-weight="normal"  textLength="18.50" lengthAdjust="spacingAndGlyphs" stroke="#222" stroke-width="0.06">p = 0.0001</text>
<text x="116.68" y="118.90" font-size="4.1" text-anchor="middle" fill="#222" textLength="62.60" lengthAdjust="spacingAndGlyphs" stroke="#222" stroke-width="0.06" transform="rotate(-90 116.68 118.90)">log<tspan font-size="2.6" dy="0.9">2</tspan><tspan dy="-0.9"> Cand1 expression, GSE16560</tspan></text>
<text x="203.05" y="88.00" font-size="9.8" fill="#000" stroke="#000" stroke-width="0.45" font-weight="bold" textLength="6.00" lengthAdjust="spacingAndGlyphs">G</text>
<line x1="225.30" y1="92.00" x2="225.30" y2="147.20" stroke="#333" stroke-width="0.5" />
<line x1="224.10" y1="99.80" x2="225.30" y2="99.80" stroke="#333" stroke-width="0.4" />
<text x="223.50" y="101.09" font-size="3.7" text-anchor="end" fill="#333" font-weight="normal"  stroke="#333" stroke-width="0.06">9.0</text>
<line x1="224.10" y1="108.90" x2="225.30" y2="108.90" stroke="#333" stroke-width="0.4" />
<text x="223.50" y="110.20" font-size="3.7" text-anchor="end" fill="#333" font-weight="normal"  stroke="#333" stroke-width="0.06">8.5</text>
<line x1="224.10" y1="118.00" x2="225.30" y2="118.00" stroke="#333" stroke-width="0.4" />
<text x="223.50" y="119.30" font-size="3.7" text-anchor="end" fill="#333" font-weight="normal"  stroke="#333" stroke-width="0.06">8.0</text>
<line x1="224.10" y1="127.20" x2="225.30" y2="127.20" stroke="#333" stroke-width="0.4" />
<text x="223.50" y="128.50" font-size="3.7" text-anchor="end" fill="#333" font-weight="normal"  stroke="#333" stroke-width="0.06">7.5</text>
<line x1="224.10" y1="136.30" x2="225.30" y2="136.30" stroke="#333" stroke-width="0.4" />
<text x="223.50" y="137.59" font-size="3.7" text-anchor="end" fill="#333" font-weight="normal"  stroke="#333" stroke-width="0.06">7.0</text>
<line x1="224.10" y1="145.40" x2="225.30" y2="145.40" stroke="#333" stroke-width="0.4" />
<text x="223.50" y="146.69" font-size="3.7" text-anchor="end" fill="#333" font-weight="normal"  stroke="#333" stroke-width="0.06">6.5</text>
<line x1="225.30" y1="147.20" x2="304.00" y2="147.20" stroke="#333" stroke-width="0.5" />
<line x1="240.00" y1="147.20" x2="240.00" y2="148.40" stroke="#333" stroke-width="0.4" />
<text x="240.00" y="151.80" font-size="3.8" text-anchor="middle" fill="#222" font-weight="normal"  stroke="#222" stroke-width="0.06">≤ 6</text>
<line x1="264.70" y1="147.20" x2="264.70" y2="148.40" stroke="#333" stroke-width="0.4" />
<text x="264.70" y="151.80" font-size="3.8" text-anchor="middle" fill="#222" font-weight="normal"  stroke="#222" stroke-width="0.06">7</text>
<line x1="289.80" y1="147.20" x2="289.80" y2="148.40" stroke="#333" stroke-width="0.4" />
<text x="289.80" y="151.80" font-size="3.8" text-anchor="middle" fill="#222" font-weight="normal"  stroke="#222" stroke-width="0.06">≥ 8</text>
<text x="265.30" y="157.50" font-size="4.0" text-anchor="middle" fill="#222" font-weight="normal"  stroke="#222" stroke-width="0.06">Gleason Score</text>
<line x1="239.95" y1="109.00" x2="239.95" y2="113.00" stroke="#444" stroke-width="0.5" />
<line x1="239.95" y1="117.30" x2="239.95" y2="121.00" stroke="#444" stroke-width="0.5" />
<rect x="230.00" y="113.00" width="19.90" height="4.30" fill="#fff" stroke="#444" stroke-width="0.5" />
<line x1="230.00" y1="114.90" x2="249.90" y2="114.90" stroke="#444" stroke-width="0.9" />
<circle cx="242.60" cy="110.04" r="1.15" fill="#efede0" stroke="#5d5a48" stroke-width="0.4"/>
<circle cx="238.49" cy="114.65" r="1.15" fill="#efede0" stroke="#5d5a48" stroke-width="0.4"/>
<circle cx="239.88" cy="112.18" r="1.15" fill="#efede0" stroke="#5d5a48" stroke-width="0.4"/>
<circle cx="238.82" cy="119.35" r="1.15" fill="#efede0" stroke="#5d5a48" stroke-width="0.4"/>
<circle cx="237.21" cy="111.90" r="1.15" fill="#efede0" stroke="#5d5a48" stroke-width="0.4"/>
<circle cx="241.11" cy="116.25" r="1.15" fill="#efede0" stroke="#5d5a48" stroke-width="0.4"/>
<circle cx="241.13" cy="118.70" r="1.15" fill="#efede0" stroke="#5d5a48" stroke-width="0.4"/>
<circle cx="238.64" cy="111.19" r="1.15" fill="#efede0" stroke="#5d5a48" stroke-width="0.4"/>
<circle cx="241.92" cy="112.71" r="1.15" fill="#efede0" stroke="#5d5a48" stroke-width="0.4"/>
<circle cx="241.08" cy="113.85" r="1.15" fill="#efede0" stroke="#5d5a48" stroke-width="0.4"/>
<circle cx="237.97" cy="116.90" r="1.15" fill="#efede0" stroke="#5d5a48" stroke-width="0.4"/>
<circle cx="235.92" cy="115.39" r="1.15" fill="#efede0" stroke="#5d5a48" stroke-width="0.4"/>
<circle cx="244.19" cy="109.38" r="1.15" fill="#efede0" stroke="#5d5a48" stroke-width="0.4"/>
<circle cx="236.34" cy="117.01" r="1.15" fill="#efede0" stroke="#5d5a48" stroke-width="0.4"/>
<circle cx="236.06" cy="110.99" r="1.15" fill="#efede0" stroke="#5d5a48" stroke-width="0.4"/>
<circle cx="239.10" cy="116.15" r="1.15" fill="#efede0" stroke="#5d5a48" stroke-width="0.4"/>
<circle cx="243.47" cy="115.47" r="1.15" fill="#efede0" stroke="#5d5a48" stroke-width="0.4"/>
<circle cx="236.56" cy="119.00" r="1.15" fill="#efede0" stroke="#5d5a48" stroke-width="0.4"/>
<circle cx="239.98" cy="117.30" r="1.15" fill="#efede0" stroke="#5d5a48" stroke-width="0.4"/>
<circle cx="236.29" cy="113.21" r="1.15" fill="#efede0" stroke="#5d5a48" stroke-width="0.4"/>
<line x1="264.95" y1="103.00" x2="264.95" y2="111.30" stroke="#444" stroke-width="0.5" />
<line x1="264.95" y1="117.30" x2="264.95" y2="126.00" stroke="#444" stroke-width="0.5" />
<rect x="255.40" y="111.30" width="19.10" height="6.00" fill="#f9d3d6" stroke="#444" stroke-width="0.5" />
<line x1="255.40" y1="114.20" x2="274.50" y2="114.20" stroke="#444" stroke-width="0.9" />
<circle cx="266.38" cy="117.05" r="1.15" fill="#dd0000" stroke="#4a0000" stroke-width="0.35"/>
<circle cx="260.81" cy="112.52" r="1.15" fill="#dd0000" stroke="#4a0000" stroke-width="0.35"/>
<circle cx="261.70" cy="116.58" r="1.15" fill="#dd0000" stroke="#4a0000" stroke-width="0.35"/>
<circle cx="266.30" cy="110.74" r="1.15" fill="#dd0000" stroke="#4a0000" stroke-width="0.35"/>
<circle cx="266.49" cy="113.83" r="1.15" fill="#dd0000" stroke="#4a0000" stroke-width="0.35"/>
<circle cx="262.59" cy="115.33" r="1.15" fill="#dd0000" stroke="#4a0000" stroke-width="0.35"/>
<circle cx="262.94" cy="116.48" r="1.15" fill="#dd0000" stroke="#4a0000" stroke-width="0.35"/>
<circle cx="263.48" cy="114.80" r="1.15" fill="#dd0000" stroke="#4a0000" stroke-width="0.35"/>
<circle cx="260.22" cy="109.02" r="1.15" fill="#dd0000" stroke="#4a0000" stroke-width="0.35"/>
<circle cx="263.15" cy="114.52" r="1.15" fill="#dd0000" stroke="#4a0000" stroke-width="0.35"/>
<circle cx="263.28" cy="116.17" r="1.15" fill="#dd0000" stroke="#4a0000" stroke-width="0.35"/>
<circle cx="261.33" cy="104.44" r="1.15" fill="#dd0000" stroke="#4a0000" stroke-width="0.35"/>
<circle cx="261.60" cy="105.36" r="1.15" fill="#dd0000" stroke="#4a0000" stroke-width="0.35"/>
<circle cx="261.34" cy="117.06" r="1.15" fill="#dd0000" stroke="#4a0000" stroke-width="0.35"/>
<circle cx="264.24" cy="112.54" r="1.15" fill="#dd0000" stroke="#4a0000" stroke-width="0.35"/>
<circle cx="261.13" cy="119.62" r="1.15" fill="#dd0000" stroke="#4a0000" stroke-width="0.35"/>
<circle cx="263.37" cy="118.15" r="1.15" fill="#dd0000" stroke="#4a0000" stroke-width="0.35"/>
<circle cx="263.40" cy="121.90" r="1.15" fill="#dd0000" stroke="#4a0000" stroke-width="0.35"/>
<circle cx="259.77" cy="118.15" r="1.15" fill="#dd0000" stroke="#4a0000" stroke-width="0.35"/>
<circle cx="261.78" cy="114.36" r="1.15" fill="#dd0000" stroke="#4a0000" stroke-width="0.35"/>
<circle cx="265.43" cy="104.77" r="1.15" fill="#dd0000" stroke="#4a0000" stroke-width="0.35"/>
<circle cx="265.81" cy="109.15" r="1.15" fill="#dd0000" stroke="#4a0000" stroke-width="0.35"/>
<circle cx="261.61" cy="119.19" r="1.15" fill="#dd0000" stroke="#4a0000" stroke-width="0.35"/>
<circle cx="261.60" cy="106.99" r="1.15" fill="#dd0000" stroke="#4a0000" stroke-width="0.35"/>
<circle cx="262.60" cy="119.16" r="1.15" fill="#dd0000" stroke="#4a0000" stroke-width="0.35"/>
<circle cx="262.94" cy="107.37" r="1.15" fill="#dd0000" stroke="#4a0000" stroke-width="0.35"/>
<circle cx="259.74" cy="121.80" r="1.15" fill="#dd0000" stroke="#4a0000" stroke-width="0.35"/>
<circle cx="259.88" cy="121.85" r="1.15" fill="#dd0000" stroke="#4a0000" stroke-width="0.35"/>
<circle cx="264.09" cy="114.79" r="1.15" fill="#dd0000" stroke="#4a0000" stroke-width="0.35"/>
<circle cx="261.61" cy="115.17" r="1.15" fill="#dd0000" stroke="#4a0000" stroke-width="0.35"/>
<circle cx="263.98" cy="120.67" r="1.15" fill="#dd0000" stroke="#4a0000" stroke-width="0.35"/>
<circle cx="263.99" cy="117.79" r="1.15" fill="#dd0000" stroke="#4a0000" stroke-width="0.35"/>
<circle cx="260.97" cy="118.18" r="1.15" fill="#dd0000" stroke="#4a0000" stroke-width="0.35"/>
<circle cx="266.36" cy="113.08" r="1.15" fill="#dd0000" stroke="#4a0000" stroke-width="0.35"/>
<circle cx="263.34" cy="108.53" r="1.15" fill="#dd0000" stroke="#4a0000" stroke-width="0.35"/>
<circle cx="259.50" cy="116.94" r="1.15" fill="#dd0000" stroke="#4a0000" stroke-width="0.35"/>
<circle cx="266.03" cy="109.22" r="1.15" fill="#dd0000" stroke="#4a0000" stroke-width="0.35"/>
<circle cx="261.85" cy="117.71" r="1.15" fill="#dd0000" stroke="#4a0000" stroke-width="0.35"/>
<circle cx="260.78" cy="111.94" r="1.15" fill="#dd0000" stroke="#4a0000" stroke-width="0.35"/>
<circle cx="265.18" cy="113.23" r="1.15" fill="#dd0000" stroke="#4a0000" stroke-width="0.35"/>
<circle cx="259.28" cy="110.75" r="1.15" fill="#dd0000" stroke="#4a0000" stroke-width="0.35"/>
<circle cx="262.69" cy="106.12" r="1.15" fill="#dd0000" stroke="#4a0000" stroke-width="0.35"/>
<circle cx="260.05" cy="119.49" r="1.15" fill="#dd0000" stroke="#4a0000" stroke-width="0.35"/>
<circle cx="259.57" cy="122.16" r="1.15" fill="#dd0000" stroke="#4a0000" stroke-width="0.35"/>
<circle cx="261.14" cy="115.55" r="1.15" fill="#dd0000" stroke="#4a0000" stroke-width="0.35"/>
<circle cx="259.28" cy="110.21" r="1.15" fill="#dd0000" stroke="#4a0000" stroke-width="0.35"/>
<circle cx="265.04" cy="111.17" r="1.15" fill="#dd0000" stroke="#4a0000" stroke-width="0.35"/>
<circle cx="259.76" cy="112.72" r="1.15" fill="#dd0000" stroke="#4a0000" stroke-width="0.35"/>
<circle cx="262.68" cy="106.54" r="1.15" fill="#dd0000" stroke="#4a0000" stroke-width="0.35"/>
<circle cx="260.94" cy="120.42" r="1.15" fill="#dd0000" stroke="#4a0000" stroke-width="0.35"/>
<circle cx="266.12" cy="112.53" r="1.15" fill="#dd0000" stroke="#4a0000" stroke-width="0.35"/>
<circle cx="260.25" cy="110.17" r="1.15" fill="#dd0000" stroke="#4a0000" stroke-width="0.35"/>
<circle cx="265.55" cy="119.49" r="1.15" fill="#dd0000" stroke="#4a0000" stroke-width="0.35"/>
<circle cx="262.75" cy="111.24" r="1.15" fill="#dd0000" stroke="#4a0000" stroke-width="0.35"/>
<circle cx="261.58" cy="107.82" r="1.15" fill="#dd0000" stroke="#4a0000" stroke-width="0.35"/>
<circle cx="259.15" cy="107.63" r="1.15" fill="#dd0000" stroke="#4a0000" stroke-width="0.35"/>
<circle cx="264.42" cy="115.65" r="1.15" fill="#dd0000" stroke="#4a0000" stroke-width="0.35"/>
<circle cx="260.03" cy="114.03" r="1.15" fill="#dd0000" stroke="#4a0000" stroke-width="0.35"/>
<circle cx="264.42" cy="112.68" r="1.15" fill="#dd0000" stroke="#4a0000" stroke-width="0.35"/>
<circle cx="264.30" cy="112.28" r="1.15" fill="#dd0000" stroke="#4a0000" stroke-width="0.35"/>
<circle cx="266.47" cy="116.50" r="1.15" fill="#dd0000" stroke="#4a0000" stroke-width="0.35"/>
<circle cx="263.18" cy="109.54" r="1.15" fill="#dd0000" stroke="#4a0000" stroke-width="0.35"/>
<circle cx="263.23" cy="119.86" r="1.15" fill="#dd0000" stroke="#4a0000" stroke-width="0.35"/>
<circle cx="265.55" cy="103.98" r="1.15" fill="#dd0000" stroke="#4a0000" stroke-width="0.35"/>
<circle cx="265.75" cy="107.07" r="1.15" fill="#dd0000" stroke="#4a0000" stroke-width="0.35"/>
<circle cx="264.75" cy="110.49" r="1.15" fill="#dd0000" stroke="#4a0000" stroke-width="0.35"/>
<circle cx="264.64" cy="105.37" r="1.15" fill="#dd0000" stroke="#4a0000" stroke-width="0.35"/>
<circle cx="259.44" cy="110.33" r="1.15" fill="#dd0000" stroke="#4a0000" stroke-width="0.35"/>
<circle cx="260.29" cy="105.48" r="1.15" fill="#dd0000" stroke="#4a0000" stroke-width="0.35"/>
<circle cx="260.74" cy="110.64" r="1.15" fill="#dd0000" stroke="#4a0000" stroke-width="0.35"/>
<circle cx="263.91" cy="109.31" r="1.15" fill="#dd0000" stroke="#4a0000" stroke-width="0.35"/>
<circle cx="261.42" cy="116.74" r="1.15" fill="#dd0000" stroke="#4a0000" stroke-width="0.35"/>
<circle cx="265.96" cy="122.83" r="1.15" fill="#dd0000" stroke="#4a0000" stroke-width="0.35"/>
<circle cx="261.49" cy="108.32" r="1.15" fill="#dd0000" stroke="#4a0000" stroke-width="0.35"/>
<circle cx="262.82" cy="114.61" r="1.15" fill="#dd0000" stroke="#4a0000" stroke-width="0.35"/>
<circle cx="261.71" cy="111.08" r="1.15" fill="#dd0000" stroke="#4a0000" stroke-width="0.35"/>
<circle cx="263.34" cy="119.61" r="1.15" fill="#dd0000" stroke="#4a0000" stroke-width="0.35"/>
<circle cx="259.86" cy="107.38" r="1.15" fill="#dd0000" stroke="#4a0000" stroke-width="0.35"/>
<circle cx="259.77" cy="109.98" r="1.15" fill="#dd0000" stroke="#4a0000" stroke-width="0.35"/>
<circle cx="264.34" cy="113.42" r="1.15" fill="#dd0000" stroke="#4a0000" stroke-width="0.35"/>
<circle cx="265.41" cy="107.98" r="1.15" fill="#dd0000" stroke="#4a0000" stroke-width="0.35"/>
<circle cx="263.03" cy="117.57" r="1.15" fill="#dd0000" stroke="#4a0000" stroke-width="0.35"/>
<circle cx="262.56" cy="118.71" r="1.15" fill="#dd0000" stroke="#4a0000" stroke-width="0.35"/>
<circle cx="264.28" cy="113.74" r="1.15" fill="#dd0000" stroke="#4a0000" stroke-width="0.35"/>
<circle cx="261.56" cy="113.81" r="1.15" fill="#dd0000" stroke="#4a0000" stroke-width="0.35"/>
<circle cx="261.58" cy="119.61" r="1.15" fill="#dd0000" stroke="#4a0000" stroke-width="0.35"/>
<circle cx="265.72" cy="107.73" r="1.15" fill="#dd0000" stroke="#4a0000" stroke-width="0.35"/>
<circle cx="260.87" cy="112.36" r="1.15" fill="#dd0000" stroke="#4a0000" stroke-width="0.35"/>
<circle cx="259.03" cy="114.25" r="1.15" fill="#dd0000" stroke="#4a0000" stroke-width="0.35"/>
<circle cx="261.50" cy="118.54" r="1.15" fill="#dd0000" stroke="#4a0000" stroke-width="0.35"/>
<circle cx="262.93" cy="112.59" r="1.15" fill="#dd0000" stroke="#4a0000" stroke-width="0.35"/>
<circle cx="259.66" cy="116.00" r="1.15" fill="#dd0000" stroke="#4a0000" stroke-width="0.35"/>
<circle cx="263.62" cy="117.64" r="1.15" fill="#dd0000" stroke="#4a0000" stroke-width="0.35"/>
<circle cx="259.47" cy="114.96" r="1.15" fill="#dd0000" stroke="#4a0000" stroke-width="0.35"/>
<circle cx="260.40" cy="117.01" r="1.15" fill="#dd0000" stroke="#4a0000" stroke-width="0.35"/>
<line x1="289.95" y1="106.00" x2="289.95" y2="108.40" stroke="#444" stroke-width="0.5" />
<line x1="289.95" y1="116.60" x2="289.95" y2="121.00" stroke="#444" stroke-width="0.5" />
<rect x="279.80" y="108.40" width="20.30" height="8.20" fill="#f9d3d6" stroke="#444" stroke-width="0.5" />
<line x1="279.80" y1="112.50" x2="300.10" y2="112.50" stroke="#444" stroke-width="0.9" />
<circle cx="290.60" cy="94.10" r="1.20" fill="#b00000" stroke="#3a0000" stroke-width="0.35"/>
<circle cx="288.00" cy="104.50" r="1.20" fill="#b00000" stroke="#3a0000" stroke-width="0.35"/>
<circle cx="290.50" cy="106.50" r="1.20" fill="#b00000" stroke="#3a0000" stroke-width="0.35"/>
<circle cx="292.50" cy="108.50" r="1.20" fill="#b00000" stroke="#3a0000" stroke-width="0.35"/>
<circle cx="287.50" cy="110.50" r="1.20" fill="#b00000" stroke="#3a0000" stroke-width="0.35"/>
<circle cx="289.50" cy="112.50" r="1.20" fill="#b00000" stroke="#3a0000" stroke-width="0.35"/>
<circle cx="292.00" cy="113.50" r="1.20" fill="#b00000" stroke="#3a0000" stroke-width="0.35"/>
<circle cx="286.50" cy="114.50" r="1.20" fill="#b00000" stroke="#3a0000" stroke-width="0.35"/>
<circle cx="290.50" cy="115.50" r="1.20" fill="#b00000" stroke="#3a0000" stroke-width="0.35"/>
<circle cx="288.50" cy="117.00" r="1.20" fill="#b00000" stroke="#3a0000" stroke-width="0.35"/>
<circle cx="287.60" cy="120.00" r="1.20" fill="#b00000" stroke="#3a0000" stroke-width="0.35"/>
<circle cx="294.20" cy="121.60" r="1.20" fill="#b00000" stroke="#3a0000" stroke-width="0.35"/>
<circle cx="293.50" cy="111.00" r="1.20" fill="#b00000" stroke="#3a0000" stroke-width="0.35"/>
<circle cx="289.40" cy="144.10" r="1.20" fill="#b00000" stroke="#3a0000" stroke-width="0.35"/>
<text x="240.90" y="140.80" font-size="4.4" text-anchor="middle" fill="#222" font-weight="normal"  textLength="14.60" lengthAdjust="spacingAndGlyphs" stroke="#222" stroke-width="0.06">p = 0.59</text>
<text x="213.14" y="119.85" font-size="4.0" text-anchor="middle" fill="#222" textLength="60.30" lengthAdjust="spacingAndGlyphs" stroke="#222" stroke-width="0.06" transform="rotate(-90 213.14 119.85)">log<tspan font-size="2.6" dy="0.9">2</tspan><tspan dy="-0.9"> Cand1 expression, GSE70768</tspan></text>
<text x="307.25" y="87.60" font-size="9.8" fill="#000" stroke="#000" stroke-width="0.45" font-weight="bold" textLength="5.60" lengthAdjust="spacingAndGlyphs">H</text>
<line x1="330.50" y1="83.60" x2="330.50" y2="147.40" stroke="#333" stroke-width="0.5" />
<line x1="329.30" y1="102.20" x2="330.50" y2="102.20" stroke="#333" stroke-width="0.4" />
<text x="328.70" y="103.50" font-size="3.7" text-anchor="end" fill="#333" font-weight="normal"  stroke="#333" stroke-width="0.06">18</text>
<line x1="329.30" y1="124.40" x2="330.50" y2="124.40" stroke="#333" stroke-width="0.4" />
<text x="328.70" y="125.70" font-size="3.7" text-anchor="end" fill="#333" font-weight="normal"  stroke="#333" stroke-width="0.06">17</text>
<line x1="329.30" y1="146.60" x2="330.50" y2="146.60" stroke="#333" stroke-width="0.4" />
<text x="328.70" y="147.89" font-size="3.7" text-anchor="end" fill="#333" font-weight="normal"  stroke="#333" stroke-width="0.06">16</text>
<line x1="330.50" y1="147.40" x2="416.00" y2="147.40" stroke="#333" stroke-width="0.5" />
<line x1="347.20" y1="147.40" x2="347.20" y2="148.60" stroke="#333" stroke-width="0.4" />
<text x="347.20" y="152.00" font-size="3.8" text-anchor="middle" fill="#222" font-weight="normal"  stroke="#222" stroke-width="0.06">≤ 6</text>
<line x1="372.90" y1="147.40" x2="372.90" y2="148.60" stroke="#333" stroke-width="0.4" />
<text x="372.90" y="152.00" font-size="3.8" text-anchor="middle" fill="#222" font-weight="normal"  stroke="#222" stroke-width="0.06">7</text>
<line x1="400.40" y1="147.40" x2="400.40" y2="148.60" stroke="#333" stroke-width="0.4" />
<text x="400.40" y="152.00" font-size="3.8" text-anchor="middle" fill="#222" font-weight="normal"  stroke="#222" stroke-width="0.06">≥ 8</text>
<line x1="347.00" y1="98.00" x2="347.00" y2="109.10" stroke="#444" stroke-width="0.5" />
<line x1="347.00" y1="121.40" x2="347.00" y2="131.00" stroke="#444" stroke-width="0.5" />
<rect x="336.70" y="109.10" width="20.60" height="12.30" fill="#fff" stroke="#444" stroke-width="0.5" />
<line x1="336.70" y1="116.50" x2="357.30" y2="116.50" stroke="#444" stroke-width="0.9" />
<circle cx="343.13" cy="111.28" r="1.15" fill="#efede0" stroke="#5d5a48" stroke-width="0.4"/>
<circle cx="350.90" cy="118.45" r="1.15" fill="#efede0" stroke="#5d5a48" stroke-width="0.4"/>
<circle cx="347.15" cy="105.54" r="1.15" fill="#efede0" stroke="#5d5a48" stroke-width="0.4"/>
<circle cx="345.39" cy="109.96" r="1.15" fill="#efede0" stroke="#5d5a48" stroke-width="0.4"/>
<circle cx="349.52" cy="113.94" r="1.15" fill="#efede0" stroke="#5d5a48" stroke-width="0.4"/>
<circle cx="343.01" cy="119.01" r="1.15" fill="#efede0" stroke="#5d5a48" stroke-width="0.4"/>
<circle cx="342.96" cy="108.62" r="1.15" fill="#efede0" stroke="#5d5a48" stroke-width="0.4"/>
<circle cx="347.86" cy="110.82" r="1.15" fill="#efede0" stroke="#5d5a48" stroke-width="0.4"/>
<circle cx="341.74" cy="126.41" r="1.15" fill="#efede0" stroke="#5d5a48" stroke-width="0.4"/>
<circle cx="348.95" cy="117.64" r="1.15" fill="#efede0" stroke="#5d5a48" stroke-width="0.4"/>
<circle cx="342.69" cy="122.37" r="1.15" fill="#efede0" stroke="#5d5a48" stroke-width="0.4"/>
<circle cx="350.90" cy="122.37" r="1.15" fill="#efede0" stroke="#5d5a48" stroke-width="0.4"/>
<circle cx="343.29" cy="123.87" r="1.15" fill="#efede0" stroke="#5d5a48" stroke-width="0.4"/>
<circle cx="344.53" cy="125.32" r="1.15" fill="#efede0" stroke="#5d5a48" stroke-width="0.4"/>
<circle cx="342.92" cy="106.22" r="1.15" fill="#efede0" stroke="#5d5a48" stroke-width="0.4"/>
<circle cx="346.53" cy="108.78" r="1.15" fill="#efede0" stroke="#5d5a48" stroke-width="0.4"/>
<circle cx="342.80" cy="113.84" r="1.15" fill="#efede0" stroke="#5d5a48" stroke-width="0.4"/>
<circle cx="346.17" cy="115.90" r="1.15" fill="#efede0" stroke="#5d5a48" stroke-width="0.4"/>
<circle cx="344.75" cy="122.46" r="1.15" fill="#efede0" stroke="#5d5a48" stroke-width="0.4"/>
<circle cx="350.37" cy="116.82" r="1.15" fill="#efede0" stroke="#5d5a48" stroke-width="0.4"/>
<circle cx="348.27" cy="115.03" r="1.15" fill="#efede0" stroke="#5d5a48" stroke-width="0.4"/>
<circle cx="349.20" cy="122.84" r="1.15" fill="#efede0" stroke="#5d5a48" stroke-width="0.4"/>
<circle cx="351.40" cy="103.15" r="1.15" fill="#efede0" stroke="#5d5a48" stroke-width="0.4"/>
<circle cx="348.47" cy="104.49" r="1.15" fill="#efede0" stroke="#5d5a48" stroke-width="0.4"/>
<circle cx="345.67" cy="119.36" r="1.15" fill="#efede0" stroke="#5d5a48" stroke-width="0.4"/>
<circle cx="344.27" cy="120.66" r="1.15" fill="#efede0" stroke="#5d5a48" stroke-width="0.4"/>
<circle cx="344.28" cy="117.55" r="1.15" fill="#efede0" stroke="#5d5a48" stroke-width="0.4"/>
<circle cx="350.73" cy="125.35" r="1.15" fill="#efede0" stroke="#5d5a48" stroke-width="0.4"/>
<circle cx="345.35" cy="107.71" r="1.15" fill="#efede0" stroke="#5d5a48" stroke-width="0.4"/>
<circle cx="350.61" cy="129.15" r="1.15" fill="#efede0" stroke="#5d5a48" stroke-width="0.4"/>
<circle cx="343.11" cy="103.64" r="1.15" fill="#efede0" stroke="#5d5a48" stroke-width="0.4"/>
<circle cx="348.33" cy="119.33" r="1.15" fill="#efede0" stroke="#5d5a48" stroke-width="0.4"/>
<line x1="373.40" y1="91.00" x2="373.40" y2="106.40" stroke="#444" stroke-width="0.5" />
<line x1="373.40" y1="118.50" x2="373.40" y2="138.00" stroke="#444" stroke-width="0.5" />
<rect x="363.10" y="106.40" width="20.60" height="12.10" fill="#f9d3d6" stroke="#444" stroke-width="0.5" />
<line x1="363.10" y1="112.40" x2="383.70" y2="112.40" stroke="#444" stroke-width="0.9" />
<circle cx="371.11" cy="110.70" r="1.05" fill="#dd0000" stroke="#4a0000" stroke-width="0.35"/>
<circle cx="370.67" cy="110.44" r="1.05" fill="#dd0000" stroke="#4a0000" stroke-width="0.35"/>
<circle cx="376.29" cy="110.85" r="1.05" fill="#dd0000" stroke="#4a0000" stroke-width="0.35"/>
<circle cx="369.53" cy="98.52" r="1.05" fill="#dd0000" stroke="#4a0000" stroke-width="0.35"/>
<circle cx="370.64" cy="110.05" r="1.05" fill="#dd0000" stroke="#4a0000" stroke-width="0.35"/>
<circle cx="373.04" cy="113.04" r="1.05" fill="#dd0000" stroke="#4a0000" stroke-width="0.35"/>
<circle cx="374.26" cy="117.91" r="1.05" fill="#dd0000" stroke="#4a0000" stroke-width="0.35"/>
<circle cx="373.38" cy="112.99" r="1.05" fill="#dd0000" stroke="#4a0000" stroke-width="0.35"/>
<circle cx="375.60" cy="114.22" r="1.05" fill="#dd0000" stroke="#4a0000" stroke-width="0.35"/>
<circle cx="368.85" cy="123.80" r="1.05" fill="#dd0000" stroke="#4a0000" stroke-width="0.35"/>
<circle cx="371.66" cy="116.79" r="1.05" fill="#dd0000" stroke="#4a0000" stroke-width="0.35"/>
<circle cx="370.11" cy="98.92" r="1.05" fill="#dd0000" stroke="#4a0000" stroke-width="0.35"/>
<circle cx="369.58" cy="119.86" r="1.05" fill="#dd0000" stroke="#4a0000" stroke-width="0.35"/>
<circle cx="369.61" cy="109.83" r="1.05" fill="#dd0000" stroke="#4a0000" stroke-width="0.35"/>
<circle cx="375.58" cy="119.04" r="1.05" fill="#dd0000" stroke="#4a0000" stroke-width="0.35"/>
<circle cx="374.93" cy="101.98" r="1.05" fill="#dd0000" stroke="#4a0000" stroke-width="0.35"/>
<circle cx="371.98" cy="106.54" r="1.05" fill="#dd0000" stroke="#4a0000" stroke-width="0.35"/>
<circle cx="374.00" cy="95.97" r="1.05" fill="#dd0000" stroke="#4a0000" stroke-width="0.35"/>
<circle cx="376.04" cy="106.56" r="1.05" fill="#dd0000" stroke="#4a0000" stroke-width="0.35"/>
<circle cx="369.18" cy="99.57" r="1.05" fill="#dd0000" stroke="#4a0000" stroke-width="0.35"/>
<circle cx="370.71" cy="105.43" r="1.05" fill="#dd0000" stroke="#4a0000" stroke-width="0.35"/>
<circle cx="370.76" cy="111.10" r="1.05" fill="#dd0000" stroke="#4a0000" stroke-width="0.35"/>
<circle cx="369.65" cy="115.56" r="1.05" fill="#dd0000" stroke="#4a0000" stroke-width="0.35"/>
<circle cx="371.86" cy="109.76" r="1.05" fill="#dd0000" stroke="#4a0000" stroke-width="0.35"/>
<circle cx="371.91" cy="124.59" r="1.05" fill="#dd0000" stroke="#4a0000" stroke-width="0.35"/>
<circle cx="376.67" cy="113.79" r="1.05" fill="#dd0000" stroke="#4a0000" stroke-width="0.35"/>
<circle cx="374.24" cy="118.86" r="1.05" fill="#dd0000" stroke="#4a0000" stroke-width="0.35"/>
<circle cx="374.92" cy="107.73" r="1.05" fill="#dd0000" stroke="#4a0000" stroke-width="0.35"/>
<circle cx="370.17" cy="108.51" r="1.05" fill="#dd0000" stroke="#4a0000" stroke-width="0.35"/>
<circle cx="374.18" cy="92.25" r="1.05" fill="#dd0000" stroke="#4a0000" stroke-width="0.35"/>
<circle cx="373.48" cy="130.67" r="1.05" fill="#dd0000" stroke="#4a0000" stroke-width="0.35"/>
<circle cx="375.32" cy="105.09" r="1.05" fill="#dd0000" stroke="#4a0000" stroke-width="0.35"/>
<circle cx="370.72" cy="96.13" r="1.05" fill="#dd0000" stroke="#4a0000" stroke-width="0.35"/>
<circle cx="371.05" cy="119.68" r="1.05" fill="#dd0000" stroke="#4a0000" stroke-width="0.35"/>
<circle cx="370.57" cy="113.57" r="1.05" fill="#dd0000" stroke="#4a0000" stroke-width="0.35"/>
<circle cx="371.44" cy="129.23" r="1.05" fill="#dd0000" stroke="#4a0000" stroke-width="0.35"/>
<circle cx="374.31" cy="105.54" r="1.05" fill="#dd0000" stroke="#4a0000" stroke-width="0.35"/>
<circle cx="372.65" cy="96.18" r="1.05" fill="#dd0000" stroke="#4a0000" stroke-width="0.35"/>
<circle cx="371.02" cy="124.17" r="1.05" fill="#dd0000" stroke="#4a0000" stroke-width="0.35"/>
<circle cx="371.01" cy="112.24" r="1.05" fill="#dd0000" stroke="#4a0000" stroke-width="0.35"/>
<circle cx="373.71" cy="123.55" r="1.05" fill="#dd0000" stroke="#4a0000" stroke-width="0.35"/>
<circle cx="370.64" cy="119.28" r="1.05" fill="#dd0000" stroke="#4a0000" stroke-width="0.35"/>
<circle cx="377.18" cy="106.56" r="1.05" fill="#dd0000" stroke="#4a0000" stroke-width="0.35"/>
<circle cx="369.20" cy="108.08" r="1.05" fill="#dd0000" stroke="#4a0000" stroke-width="0.35"/>
<circle cx="369.72" cy="111.76" r="1.05" fill="#dd0000" stroke="#4a0000" stroke-width="0.35"/>
<circle cx="372.35" cy="100.90" r="1.05" fill="#dd0000" stroke="#4a0000" stroke-width="0.35"/>
<circle cx="369.33" cy="100.55" r="1.05" fill="#dd0000" stroke="#4a0000" stroke-width="0.35"/>
<circle cx="373.24" cy="132.31" r="1.05" fill="#dd0000" stroke="#4a0000" stroke-width="0.35"/>
<circle cx="368.90" cy="129.58" r="1.05" fill="#dd0000" stroke="#4a0000" stroke-width="0.35"/>
<circle cx="374.85" cy="108.77" r="1.05" fill="#dd0000" stroke="#4a0000" stroke-width="0.35"/>
<circle cx="371.04" cy="107.35" r="1.05" fill="#dd0000" stroke="#4a0000" stroke-width="0.35"/>
<circle cx="374.18" cy="101.84" r="1.05" fill="#dd0000" stroke="#4a0000" stroke-width="0.35"/>
<circle cx="372.61" cy="119.35" r="1.05" fill="#dd0000" stroke="#4a0000" stroke-width="0.35"/>
<circle cx="376.81" cy="118.20" r="1.05" fill="#dd0000" stroke="#4a0000" stroke-width="0.35"/>
<circle cx="373.00" cy="117.00" r="1.05" fill="#dd0000" stroke="#4a0000" stroke-width="0.35"/>
<circle cx="370.30" cy="107.05" r="1.05" fill="#dd0000" stroke="#4a0000" stroke-width="0.35"/>
<circle cx="371.31" cy="127.52" r="1.05" fill="#dd0000" stroke="#4a0000" stroke-width="0.35"/>
<circle cx="374.17" cy="102.50" r="1.05" fill="#dd0000" stroke="#4a0000" stroke-width="0.35"/>
<circle cx="375.21" cy="107.98" r="1.05" fill="#dd0000" stroke="#4a0000" stroke-width="0.35"/>
<circle cx="373.33" cy="108.72" r="1.05" fill="#dd0000" stroke="#4a0000" stroke-width="0.35"/>
<circle cx="368.80" cy="113.98" r="1.05" fill="#dd0000" stroke="#4a0000" stroke-width="0.35"/>
<circle cx="371.52" cy="101.11" r="1.05" fill="#dd0000" stroke="#4a0000" stroke-width="0.35"/>
<circle cx="376.18" cy="132.55" r="1.05" fill="#dd0000" stroke="#4a0000" stroke-width="0.35"/>
<circle cx="375.79" cy="114.53" r="1.05" fill="#dd0000" stroke="#4a0000" stroke-width="0.35"/>
<circle cx="376.18" cy="110.90" r="1.05" fill="#dd0000" stroke="#4a0000" stroke-width="0.35"/>
<circle cx="376.75" cy="114.91" r="1.05" fill="#dd0000" stroke="#4a0000" stroke-width="0.35"/>
<circle cx="369.38" cy="120.92" r="1.05" fill="#dd0000" stroke="#4a0000" stroke-width="0.35"/>
<circle cx="375.19" cy="117.32" r="1.05" fill="#dd0000" stroke="#4a0000" stroke-width="0.35"/>
<circle cx="372.79" cy="112.47" r="1.05" fill="#dd0000" stroke="#4a0000" stroke-width="0.35"/>
<circle cx="373.42" cy="107.31" r="1.05" fill="#dd0000" stroke="#4a0000" stroke-width="0.35"/>
<circle cx="372.35" cy="110.27" r="1.05" fill="#dd0000" stroke="#4a0000" stroke-width="0.35"/>
<circle cx="370.58" cy="130.18" r="1.05" fill="#dd0000" stroke="#4a0000" stroke-width="0.35"/>
<circle cx="370.49" cy="97.88" r="1.05" fill="#dd0000" stroke="#4a0000" stroke-width="0.35"/>
<circle cx="371.42" cy="108.44" r="1.05" fill="#dd0000" stroke="#4a0000" stroke-width="0.35"/>
<circle cx="372.48" cy="125.03" r="1.05" fill="#dd0000" stroke="#4a0000" stroke-width="0.35"/>
<circle cx="373.15" cy="111.60" r="1.05" fill="#dd0000" stroke="#4a0000" stroke-width="0.35"/>
<circle cx="371.64" cy="116.65" r="1.05" fill="#dd0000" stroke="#4a0000" stroke-width="0.35"/>
<circle cx="373.74" cy="116.42" r="1.05" fill="#dd0000" stroke="#4a0000" stroke-width="0.35"/>
<circle cx="369.40" cy="112.79" r="1.05" fill="#dd0000" stroke="#4a0000" stroke-width="0.35"/>
<circle cx="374.10" cy="118.30" r="1.05" fill="#dd0000" stroke="#4a0000" stroke-width="0.35"/>
<circle cx="376.02" cy="114.58" r="1.05" fill="#dd0000" stroke="#4a0000" stroke-width="0.35"/>
<circle cx="369.40" cy="131.38" r="1.05" fill="#dd0000" stroke="#4a0000" stroke-width="0.35"/>
<circle cx="370.60" cy="113.01" r="1.05" fill="#dd0000" stroke="#4a0000" stroke-width="0.35"/>
<circle cx="369.91" cy="125.34" r="1.05" fill="#dd0000" stroke="#4a0000" stroke-width="0.35"/>
<circle cx="372.77" cy="122.76" r="1.05" fill="#dd0000" stroke="#4a0000" stroke-width="0.35"/>
<circle cx="375.39" cy="107.38" r="1.05" fill="#dd0000" stroke="#4a0000" stroke-width="0.35"/>
<circle cx="369.61" cy="114.07" r="1.05" fill="#dd0000" stroke="#4a0000" stroke-width="0.35"/>
<circle cx="372.42" cy="106.53" r="1.05" fill="#dd0000" stroke="#4a0000" stroke-width="0.35"/>
<circle cx="374.92" cy="103.05" r="1.05" fill="#dd0000" stroke="#4a0000" stroke-width="0.35"/>
<circle cx="374.46" cy="116.66" r="1.05" fill="#dd0000" stroke="#4a0000" stroke-width="0.35"/>
<circle cx="372.18" cy="116.08" r="1.05" fill="#dd0000" stroke="#4a0000" stroke-width="0.35"/>
<circle cx="371.65" cy="111.59" r="1.05" fill="#dd0000" stroke="#4a0000" stroke-width="0.35"/>
<circle cx="370.40" cy="116.39" r="1.05" fill="#dd0000" stroke="#4a0000" stroke-width="0.35"/>
<circle cx="372.57" cy="106.80" r="1.05" fill="#dd0000" stroke="#4a0000" stroke-width="0.35"/>
<circle cx="370.90" cy="105.59" r="1.05" fill="#dd0000" stroke="#4a0000" stroke-width="0.35"/>
<circle cx="376.56" cy="115.43" r="1.05" fill="#dd0000" stroke="#4a0000" stroke-width="0.35"/>
<circle cx="373.42" cy="95.24" r="1.05" fill="#dd0000" stroke="#4a0000" stroke-width="0.35"/>
<circle cx="369.22" cy="118.26" r="1.05" fill="#dd0000" stroke="#4a0000" stroke-width="0.35"/>
<circle cx="376.94" cy="129.11" r="1.05" fill="#dd0000" stroke="#4a0000" stroke-width="0.35"/>
<circle cx="376.58" cy="111.92" r="1.05" fill="#dd0000" stroke="#4a0000" stroke-width="0.35"/>
<circle cx="372.88" cy="115.15" r="1.05" fill="#dd0000" stroke="#4a0000" stroke-width="0.35"/>
<circle cx="370.60" cy="107.58" r="1.05" fill="#dd0000" stroke="#4a0000" stroke-width="0.35"/>
<circle cx="371.98" cy="109.46" r="1.05" fill="#dd0000" stroke="#4a0000" stroke-width="0.35"/>
<circle cx="377.08" cy="113.82" r="1.05" fill="#dd0000" stroke="#4a0000" stroke-width="0.35"/>
<circle cx="372.62" cy="110.50" r="1.05" fill="#dd0000" stroke="#4a0000" stroke-width="0.35"/>
<circle cx="372.35" cy="127.69" r="1.05" fill="#dd0000" stroke="#4a0000" stroke-width="0.35"/>
<circle cx="373.47" cy="104.17" r="1.05" fill="#dd0000" stroke="#4a0000" stroke-width="0.35"/>
<circle cx="371.29" cy="110.97" r="1.05" fill="#dd0000" stroke="#4a0000" stroke-width="0.35"/>
<circle cx="376.94" cy="106.88" r="1.05" fill="#dd0000" stroke="#4a0000" stroke-width="0.35"/>
<circle cx="375.08" cy="102.11" r="1.05" fill="#dd0000" stroke="#4a0000" stroke-width="0.35"/>
<circle cx="369.28" cy="106.63" r="1.05" fill="#dd0000" stroke="#4a0000" stroke-width="0.35"/>
<circle cx="375.96" cy="102.81" r="1.05" fill="#dd0000" stroke="#4a0000" stroke-width="0.35"/>
<circle cx="370.12" cy="106.63" r="1.05" fill="#dd0000" stroke="#4a0000" stroke-width="0.35"/>
<circle cx="370.36" cy="115.57" r="1.05" fill="#dd0000" stroke="#4a0000" stroke-width="0.35"/>
<circle cx="373.80" cy="111.10" r="1.05" fill="#dd0000" stroke="#4a0000" stroke-width="0.35"/>
<circle cx="369.81" cy="109.02" r="1.05" fill="#dd0000" stroke="#4a0000" stroke-width="0.35"/>
<circle cx="376.28" cy="106.12" r="1.05" fill="#dd0000" stroke="#4a0000" stroke-width="0.35"/>
<circle cx="374.00" cy="112.29" r="1.05" fill="#dd0000" stroke="#4a0000" stroke-width="0.35"/>
<circle cx="372.32" cy="124.09" r="1.05" fill="#dd0000" stroke="#4a0000" stroke-width="0.35"/>
<circle cx="376.65" cy="102.53" r="1.05" fill="#dd0000" stroke="#4a0000" stroke-width="0.35"/>
<circle cx="370.52" cy="106.51" r="1.05" fill="#dd0000" stroke="#4a0000" stroke-width="0.35"/>
<circle cx="372.12" cy="110.60" r="1.05" fill="#dd0000" stroke="#4a0000" stroke-width="0.35"/>
<circle cx="374.44" cy="105.50" r="1.05" fill="#dd0000" stroke="#4a0000" stroke-width="0.35"/>
<circle cx="375.12" cy="109.58" r="1.05" fill="#dd0000" stroke="#4a0000" stroke-width="0.35"/>
<circle cx="369.41" cy="119.46" r="1.05" fill="#dd0000" stroke="#4a0000" stroke-width="0.35"/>
<circle cx="377.17" cy="120.39" r="1.05" fill="#dd0000" stroke="#4a0000" stroke-width="0.35"/>
<circle cx="371.03" cy="117.58" r="1.05" fill="#dd0000" stroke="#4a0000" stroke-width="0.35"/>
<circle cx="376.64" cy="114.77" r="1.05" fill="#dd0000" stroke="#4a0000" stroke-width="0.35"/>
<circle cx="371.90" cy="125.56" r="1.05" fill="#dd0000" stroke="#4a0000" stroke-width="0.35"/>
<circle cx="370.13" cy="99.40" r="1.05" fill="#dd0000" stroke="#4a0000" stroke-width="0.35"/>
<circle cx="373.94" cy="119.05" r="1.05" fill="#dd0000" stroke="#4a0000" stroke-width="0.35"/>
<circle cx="377.09" cy="99.86" r="1.05" fill="#dd0000" stroke="#4a0000" stroke-width="0.35"/>
<circle cx="375.66" cy="111.36" r="1.05" fill="#dd0000" stroke="#4a0000" stroke-width="0.35"/>
<circle cx="371.31" cy="111.07" r="1.05" fill="#dd0000" stroke="#4a0000" stroke-width="0.35"/>
<circle cx="369.93" cy="100.98" r="1.05" fill="#dd0000" stroke="#4a0000" stroke-width="0.35"/>
<circle cx="369.77" cy="93.79" r="1.05" fill="#dd0000" stroke="#4a0000" stroke-width="0.35"/>
<circle cx="371.09" cy="120.94" r="1.05" fill="#dd0000" stroke="#4a0000" stroke-width="0.35"/>
<circle cx="373.88" cy="119.12" r="1.05" fill="#dd0000" stroke="#4a0000" stroke-width="0.35"/>
<circle cx="374.13" cy="110.77" r="1.05" fill="#dd0000" stroke="#4a0000" stroke-width="0.35"/>
<circle cx="371.02" cy="106.05" r="1.05" fill="#dd0000" stroke="#4a0000" stroke-width="0.35"/>
<circle cx="375.91" cy="92.51" r="1.05" fill="#dd0000" stroke="#4a0000" stroke-width="0.35"/>
<circle cx="369.58" cy="113.41" r="1.05" fill="#dd0000" stroke="#4a0000" stroke-width="0.35"/>
<circle cx="368.83" cy="105.58" r="1.05" fill="#dd0000" stroke="#4a0000" stroke-width="0.35"/>
<circle cx="375.28" cy="115.35" r="1.05" fill="#dd0000" stroke="#4a0000" stroke-width="0.35"/>
<circle cx="375.03" cy="107.43" r="1.05" fill="#dd0000" stroke="#4a0000" stroke-width="0.35"/>
<circle cx="373.43" cy="106.68" r="1.05" fill="#dd0000" stroke="#4a0000" stroke-width="0.35"/>
<circle cx="369.43" cy="110.87" r="1.05" fill="#dd0000" stroke="#4a0000" stroke-width="0.35"/>
<circle cx="376.22" cy="112.55" r="1.05" fill="#dd0000" stroke="#4a0000" stroke-width="0.35"/>
<circle cx="375.81" cy="121.31" r="1.05" fill="#dd0000" stroke="#4a0000" stroke-width="0.35"/>
<circle cx="373.69" cy="105.58" r="1.05" fill="#dd0000" stroke="#4a0000" stroke-width="0.35"/>
<circle cx="371.39" cy="114.81" r="1.05" fill="#dd0000" stroke="#4a0000" stroke-width="0.35"/>
<circle cx="376.35" cy="115.77" r="1.05" fill="#dd0000" stroke="#4a0000" stroke-width="0.35"/>
<circle cx="376.35" cy="117.11" r="1.05" fill="#dd0000" stroke="#4a0000" stroke-width="0.35"/>
<circle cx="370.56" cy="94.88" r="1.05" fill="#dd0000" stroke="#4a0000" stroke-width="0.35"/>
<circle cx="375.35" cy="112.01" r="1.05" fill="#dd0000" stroke="#4a0000" stroke-width="0.35"/>
<circle cx="376.23" cy="116.19" r="1.05" fill="#dd0000" stroke="#4a0000" stroke-width="0.35"/>
<circle cx="370.10" cy="101.58" r="1.05" fill="#dd0000" stroke="#4a0000" stroke-width="0.35"/>
<circle cx="376.61" cy="118.95" r="1.05" fill="#dd0000" stroke="#4a0000" stroke-width="0.35"/>
<circle cx="375.61" cy="128.23" r="1.05" fill="#dd0000" stroke="#4a0000" stroke-width="0.35"/>
<circle cx="376.20" cy="93.50" r="1.05" fill="#dd0000" stroke="#4a0000" stroke-width="0.35"/>
<circle cx="371.59" cy="126.52" r="1.05" fill="#dd0000" stroke="#4a0000" stroke-width="0.35"/>
<circle cx="376.62" cy="114.28" r="1.05" fill="#dd0000" stroke="#4a0000" stroke-width="0.35"/>
<circle cx="375.61" cy="117.80" r="1.05" fill="#dd0000" stroke="#4a0000" stroke-width="0.35"/>
<circle cx="371.04" cy="94.98" r="1.05" fill="#dd0000" stroke="#4a0000" stroke-width="0.35"/>
<circle cx="376.13" cy="113.00" r="1.05" fill="#dd0000" stroke="#4a0000" stroke-width="0.35"/>
<circle cx="376.01" cy="107.81" r="1.05" fill="#dd0000" stroke="#4a0000" stroke-width="0.35"/>
<circle cx="372.67" cy="114.86" r="1.05" fill="#dd0000" stroke="#4a0000" stroke-width="0.35"/>
<circle cx="371.36" cy="128.33" r="1.05" fill="#dd0000" stroke="#4a0000" stroke-width="0.35"/>
<circle cx="369.00" cy="113.82" r="1.05" fill="#dd0000" stroke="#4a0000" stroke-width="0.35"/>
<circle cx="370.42" cy="105.79" r="1.05" fill="#dd0000" stroke="#4a0000" stroke-width="0.35"/>
<circle cx="376.92" cy="103.51" r="1.05" fill="#dd0000" stroke="#4a0000" stroke-width="0.35"/>
<circle cx="371.14" cy="127.86" r="1.05" fill="#dd0000" stroke="#4a0000" stroke-width="0.35"/>
<circle cx="377.04" cy="106.27" r="1.05" fill="#dd0000" stroke="#4a0000" stroke-width="0.35"/>
<circle cx="373.30" cy="104.94" r="1.05" fill="#dd0000" stroke="#4a0000" stroke-width="0.35"/>
<circle cx="376.95" cy="116.13" r="1.05" fill="#dd0000" stroke="#4a0000" stroke-width="0.35"/>
<circle cx="370.30" cy="110.34" r="1.05" fill="#dd0000" stroke="#4a0000" stroke-width="0.35"/>
<circle cx="369.71" cy="118.87" r="1.05" fill="#dd0000" stroke="#4a0000" stroke-width="0.35"/>
<circle cx="372.45" cy="110.35" r="1.05" fill="#dd0000" stroke="#4a0000" stroke-width="0.35"/>
<circle cx="373.89" cy="110.95" r="1.05" fill="#dd0000" stroke="#4a0000" stroke-width="0.35"/>
<circle cx="373.10" cy="104.26" r="1.05" fill="#dd0000" stroke="#4a0000" stroke-width="0.35"/>
<circle cx="370.94" cy="103.14" r="1.05" fill="#dd0000" stroke="#4a0000" stroke-width="0.35"/>
<circle cx="374.75" cy="119.79" r="1.05" fill="#dd0000" stroke="#4a0000" stroke-width="0.35"/>
<circle cx="373.32" cy="132.51" r="1.05" fill="#dd0000" stroke="#4a0000" stroke-width="0.35"/>
<circle cx="374.84" cy="112.22" r="1.05" fill="#dd0000" stroke="#4a0000" stroke-width="0.35"/>
<circle cx="371.86" cy="111.32" r="1.05" fill="#dd0000" stroke="#4a0000" stroke-width="0.35"/>
<circle cx="369.39" cy="98.60" r="1.05" fill="#dd0000" stroke="#4a0000" stroke-width="0.35"/>
<circle cx="371.44" cy="107.87" r="1.05" fill="#dd0000" stroke="#4a0000" stroke-width="0.35"/>
<circle cx="375.92" cy="105.08" r="1.05" fill="#dd0000" stroke="#4a0000" stroke-width="0.35"/>
<circle cx="371.40" cy="110.56" r="1.05" fill="#dd0000" stroke="#4a0000" stroke-width="0.35"/>
<circle cx="372.23" cy="104.53" r="1.05" fill="#dd0000" stroke="#4a0000" stroke-width="0.35"/>
<circle cx="369.87" cy="105.84" r="1.05" fill="#dd0000" stroke="#4a0000" stroke-width="0.35"/>
<circle cx="372.33" cy="116.34" r="1.05" fill="#dd0000" stroke="#4a0000" stroke-width="0.35"/>
<circle cx="376.38" cy="124.60" r="1.05" fill="#dd0000" stroke="#4a0000" stroke-width="0.35"/>
<circle cx="373.97" cy="107.05" r="1.05" fill="#dd0000" stroke="#4a0000" stroke-width="0.35"/>
<circle cx="368.80" cy="108.43" r="1.05" fill="#dd0000" stroke="#4a0000" stroke-width="0.35"/>
<circle cx="371.21" cy="122.76" r="1.05" fill="#dd0000" stroke="#4a0000" stroke-width="0.35"/>
<circle cx="374.30" cy="101.28" r="1.05" fill="#dd0000" stroke="#4a0000" stroke-width="0.35"/>
<circle cx="372.71" cy="117.05" r="1.05" fill="#dd0000" stroke="#4a0000" stroke-width="0.35"/>
<circle cx="372.77" cy="106.17" r="1.05" fill="#dd0000" stroke="#4a0000" stroke-width="0.35"/>
<circle cx="376.37" cy="114.22" r="1.05" fill="#dd0000" stroke="#4a0000" stroke-width="0.35"/>
<circle cx="369.51" cy="113.57" r="1.05" fill="#dd0000" stroke="#4a0000" stroke-width="0.35"/>
<circle cx="373.13" cy="106.74" r="1.05" fill="#dd0000" stroke="#4a0000" stroke-width="0.35"/>
<circle cx="375.67" cy="106.54" r="1.05" fill="#dd0000" stroke="#4a0000" stroke-width="0.35"/>
<circle cx="375.11" cy="105.97" r="1.05" fill="#dd0000" stroke="#4a0000" stroke-width="0.35"/>
<circle cx="370.47" cy="109.01" r="1.05" fill="#dd0000" stroke="#4a0000" stroke-width="0.35"/>
<circle cx="369.01" cy="106.32" r="1.05" fill="#dd0000" stroke="#4a0000" stroke-width="0.35"/>
<circle cx="375.94" cy="112.33" r="1.05" fill="#dd0000" stroke="#4a0000" stroke-width="0.35"/>
<circle cx="369.41" cy="122.21" r="1.05" fill="#dd0000" stroke="#4a0000" stroke-width="0.35"/>
<circle cx="370.43" cy="101.10" r="1.05" fill="#dd0000" stroke="#4a0000" stroke-width="0.35"/>
<circle cx="374.65" cy="118.50" r="1.05" fill="#dd0000" stroke="#4a0000" stroke-width="0.35"/>
<circle cx="374.31" cy="105.27" r="1.05" fill="#dd0000" stroke="#4a0000" stroke-width="0.35"/>
<circle cx="368.85" cy="112.24" r="1.05" fill="#dd0000" stroke="#4a0000" stroke-width="0.35"/>
<circle cx="369.70" cy="112.09" r="1.05" fill="#dd0000" stroke="#4a0000" stroke-width="0.35"/>
<circle cx="372.37" cy="96.57" r="1.05" fill="#dd0000" stroke="#4a0000" stroke-width="0.35"/>
<circle cx="373.15" cy="122.17" r="1.05" fill="#dd0000" stroke="#4a0000" stroke-width="0.35"/>
<circle cx="369.22" cy="132.25" r="1.05" fill="#dd0000" stroke="#4a0000" stroke-width="0.35"/>
<circle cx="372.63" cy="112.09" r="1.05" fill="#dd0000" stroke="#4a0000" stroke-width="0.35"/>
<circle cx="375.53" cy="129.48" r="1.05" fill="#dd0000" stroke="#4a0000" stroke-width="0.35"/>
<circle cx="373.80" cy="98.76" r="1.05" fill="#dd0000" stroke="#4a0000" stroke-width="0.35"/>
<circle cx="373.95" cy="130.04" r="1.05" fill="#dd0000" stroke="#4a0000" stroke-width="0.35"/>
<circle cx="374.84" cy="106.14" r="1.05" fill="#dd0000" stroke="#4a0000" stroke-width="0.35"/>
<circle cx="373.40" cy="95.05" r="1.05" fill="#dd0000" stroke="#4a0000" stroke-width="0.35"/>
<circle cx="376.34" cy="111.49" r="1.05" fill="#dd0000" stroke="#4a0000" stroke-width="0.35"/>
<circle cx="370.98" cy="111.59" r="1.05" fill="#dd0000" stroke="#4a0000" stroke-width="0.35"/>
<circle cx="370.88" cy="101.80" r="1.05" fill="#dd0000" stroke="#4a0000" stroke-width="0.35"/>
<circle cx="373.18" cy="102.05" r="1.05" fill="#dd0000" stroke="#4a0000" stroke-width="0.35"/>
<circle cx="374.06" cy="100.33" r="1.05" fill="#dd0000" stroke="#4a0000" stroke-width="0.35"/>
<circle cx="371.20" cy="111.44" r="1.05" fill="#dd0000" stroke="#4a0000" stroke-width="0.35"/>
<circle cx="371.08" cy="115.57" r="1.05" fill="#dd0000" stroke="#4a0000" stroke-width="0.35"/>
<circle cx="369.96" cy="107.24" r="1.05" fill="#dd0000" stroke="#4a0000" stroke-width="0.35"/>
<circle cx="370.74" cy="122.16" r="1.05" fill="#dd0000" stroke="#4a0000" stroke-width="0.35"/>
<circle cx="369.34" cy="107.14" r="1.05" fill="#dd0000" stroke="#4a0000" stroke-width="0.35"/>
<circle cx="372.22" cy="98.77" r="1.05" fill="#dd0000" stroke="#4a0000" stroke-width="0.35"/>
<circle cx="370.54" cy="103.00" r="1.05" fill="#dd0000" stroke="#4a0000" stroke-width="0.35"/>
<circle cx="372.33" cy="109.53" r="1.05" fill="#dd0000" stroke="#4a0000" stroke-width="0.35"/>
<circle cx="374.64" cy="121.85" r="1.05" fill="#dd0000" stroke="#4a0000" stroke-width="0.35"/>
<circle cx="376.00" cy="105.29" r="1.05" fill="#dd0000" stroke="#4a0000" stroke-width="0.35"/>
<circle cx="368.85" cy="112.86" r="1.05" fill="#dd0000" stroke="#4a0000" stroke-width="0.35"/>
<circle cx="371.75" cy="103.24" r="1.05" fill="#dd0000" stroke="#4a0000" stroke-width="0.35"/>
<circle cx="376.81" cy="112.39" r="1.05" fill="#dd0000" stroke="#4a0000" stroke-width="0.35"/>
<circle cx="372.32" cy="94.37" r="1.05" fill="#dd0000" stroke="#4a0000" stroke-width="0.35"/>
<circle cx="373.87" cy="111.82" r="1.05" fill="#dd0000" stroke="#4a0000" stroke-width="0.35"/>
<circle cx="370.65" cy="100.69" r="1.05" fill="#dd0000" stroke="#4a0000" stroke-width="0.35"/>
<circle cx="369.04" cy="113.84" r="1.05" fill="#dd0000" stroke="#4a0000" stroke-width="0.35"/>
<circle cx="371.62" cy="121.45" r="1.05" fill="#dd0000" stroke="#4a0000" stroke-width="0.35"/>
<circle cx="370.19" cy="108.05" r="1.05" fill="#dd0000" stroke="#4a0000" stroke-width="0.35"/>
<circle cx="372.73" cy="103.73" r="1.05" fill="#dd0000" stroke="#4a0000" stroke-width="0.35"/>
<circle cx="369.03" cy="120.73" r="1.05" fill="#dd0000" stroke="#4a0000" stroke-width="0.35"/>
<circle cx="372.11" cy="121.03" r="1.05" fill="#dd0000" stroke="#4a0000" stroke-width="0.35"/>
<circle cx="374.20" cy="110.06" r="1.05" fill="#dd0000" stroke="#4a0000" stroke-width="0.35"/>
<circle cx="369.94" cy="111.17" r="1.05" fill="#dd0000" stroke="#4a0000" stroke-width="0.35"/>
<circle cx="371.98" cy="109.19" r="1.05" fill="#dd0000" stroke="#4a0000" stroke-width="0.35"/>
<circle cx="370.58" cy="112.69" r="1.05" fill="#dd0000" stroke="#4a0000" stroke-width="0.35"/>
<circle cx="371.98" cy="104.93" r="1.05" fill="#dd0000" stroke="#4a0000" stroke-width="0.35"/>
<circle cx="375.12" cy="125.49" r="1.05" fill="#dd0000" stroke="#4a0000" stroke-width="0.35"/>
<circle cx="369.49" cy="115.38" r="1.05" fill="#dd0000" stroke="#4a0000" stroke-width="0.35"/>
<circle cx="368.96" cy="106.03" r="1.05" fill="#dd0000" stroke="#4a0000" stroke-width="0.35"/>
<circle cx="371.74" cy="102.49" r="1.05" fill="#dd0000" stroke="#4a0000" stroke-width="0.35"/>
<circle cx="374.27" cy="102.79" r="1.05" fill="#dd0000" stroke="#4a0000" stroke-width="0.35"/>
<circle cx="375.14" cy="99.30" r="1.05" fill="#dd0000" stroke="#4a0000" stroke-width="0.35"/>
<circle cx="372.00" cy="144.90" r="1.05" fill="#dd0000" stroke="#4a0000" stroke-width="0.35"/>
<circle cx="370.00" cy="138.00" r="1.05" fill="#dd0000" stroke="#4a0000" stroke-width="0.35"/>
<circle cx="376.00" cy="136.50" r="1.05" fill="#dd0000" stroke="#4a0000" stroke-width="0.35"/>
<line x1="400.00" y1="86.00" x2="400.00" y2="105.70" stroke="#444" stroke-width="0.5" />
<line x1="400.00" y1="117.60" x2="400.00" y2="135.00" stroke="#444" stroke-width="0.5" />
<rect x="390.00" y="105.70" width="20.00" height="11.90" fill="#f9d3d6" stroke="#444" stroke-width="0.5" />
<line x1="390.00" y1="111.30" x2="410.00" y2="111.30" stroke="#444" stroke-width="0.9" />
<circle cx="396.72" cy="123.49" r="1.05" fill="#7a0000" stroke="#1a0000" stroke-width="0.35"/>
<circle cx="399.66" cy="113.33" r="1.05" fill="#7a0000" stroke="#1a0000" stroke-width="0.35"/>
<circle cx="399.57" cy="102.45" r="1.05" fill="#7a0000" stroke="#1a0000" stroke-width="0.35"/>
<circle cx="399.98" cy="95.92" r="1.05" fill="#7a0000" stroke="#1a0000" stroke-width="0.35"/>
<circle cx="398.83" cy="119.51" r="1.05" fill="#7a0000" stroke="#1a0000" stroke-width="0.35"/>
<circle cx="403.24" cy="111.15" r="1.05" fill="#7a0000" stroke="#1a0000" stroke-width="0.35"/>
<circle cx="399.39" cy="95.55" r="1.05" fill="#7a0000" stroke="#1a0000" stroke-width="0.35"/>
<circle cx="397.02" cy="105.61" r="1.05" fill="#7a0000" stroke="#1a0000" stroke-width="0.35"/>
<circle cx="398.86" cy="119.87" r="1.05" fill="#7a0000" stroke="#1a0000" stroke-width="0.35"/>
<circle cx="396.28" cy="96.57" r="1.05" fill="#7a0000" stroke="#1a0000" stroke-width="0.35"/>
<circle cx="402.51" cy="99.50" r="1.05" fill="#7a0000" stroke="#1a0000" stroke-width="0.35"/>
<circle cx="400.89" cy="109.18" r="1.05" fill="#7a0000" stroke="#1a0000" stroke-width="0.35"/>
<circle cx="398.87" cy="98.23" r="1.05" fill="#7a0000" stroke="#1a0000" stroke-width="0.35"/>
<circle cx="395.85" cy="109.51" r="1.05" fill="#7a0000" stroke="#1a0000" stroke-width="0.35"/>
<circle cx="403.12" cy="129.90" r="1.05" fill="#7a0000" stroke="#1a0000" stroke-width="0.35"/>
<circle cx="398.12" cy="118.06" r="1.05" fill="#7a0000" stroke="#1a0000" stroke-width="0.35"/>
<circle cx="396.35" cy="118.37" r="1.05" fill="#7a0000" stroke="#1a0000" stroke-width="0.35"/>
<circle cx="403.27" cy="102.96" r="1.05" fill="#7a0000" stroke="#1a0000" stroke-width="0.35"/>
<circle cx="401.65" cy="91.96" r="1.05" fill="#7a0000" stroke="#1a0000" stroke-width="0.35"/>
<circle cx="396.27" cy="99.42" r="1.05" fill="#7a0000" stroke="#1a0000" stroke-width="0.35"/>
<circle cx="403.67" cy="98.65" r="1.05" fill="#7a0000" stroke="#1a0000" stroke-width="0.35"/>
<circle cx="398.45" cy="98.97" r="1.05" fill="#7a0000" stroke="#1a0000" stroke-width="0.35"/>
<circle cx="396.93" cy="96.24" r="1.05" fill="#7a0000" stroke="#1a0000" stroke-width="0.35"/>
<circle cx="403.20" cy="107.47" r="1.05" fill="#7a0000" stroke="#1a0000" stroke-width="0.35"/>
<circle cx="400.84" cy="110.56" r="1.05" fill="#7a0000" stroke="#1a0000" stroke-width="0.35"/>
<circle cx="398.79" cy="107.17" r="1.05" fill="#7a0000" stroke="#1a0000" stroke-width="0.35"/>
<circle cx="404.32" cy="114.80" r="1.05" fill="#7a0000" stroke="#1a0000" stroke-width="0.35"/>
<circle cx="400.48" cy="121.28" r="1.05" fill="#7a0000" stroke="#1a0000" stroke-width="0.35"/>
<circle cx="402.57" cy="117.96" r="1.05" fill="#7a0000" stroke="#1a0000" stroke-width="0.35"/>
<circle cx="404.19" cy="116.87" r="1.05" fill="#7a0000" stroke="#1a0000" stroke-width="0.35"/>
<circle cx="404.29" cy="109.43" r="1.05" fill="#7a0000" stroke="#1a0000" stroke-width="0.35"/>
<circle cx="400.94" cy="107.45" r="1.05" fill="#7a0000" stroke="#1a0000" stroke-width="0.35"/>
<circle cx="396.19" cy="114.06" r="1.05" fill="#7a0000" stroke="#1a0000" stroke-width="0.35"/>
<circle cx="401.52" cy="112.35" r="1.05" fill="#7a0000" stroke="#1a0000" stroke-width="0.35"/>
<circle cx="396.40" cy="119.26" r="1.05" fill="#7a0000" stroke="#1a0000" stroke-width="0.35"/>
<circle cx="400.32" cy="123.46" r="1.05" fill="#7a0000" stroke="#1a0000" stroke-width="0.35"/>
<circle cx="395.42" cy="107.65" r="1.05" fill="#7a0000" stroke="#1a0000" stroke-width="0.35"/>
<circle cx="403.71" cy="110.88" r="1.05" fill="#7a0000" stroke="#1a0000" stroke-width="0.35"/>
<circle cx="402.16" cy="114.59" r="1.05" fill="#7a0000" stroke="#1a0000" stroke-width="0.35"/>
<circle cx="404.50" cy="109.32" r="1.05" fill="#7a0000" stroke="#1a0000" stroke-width="0.35"/>
<circle cx="398.51" cy="125.40" r="1.05" fill="#7a0000" stroke="#1a0000" stroke-width="0.35"/>
<circle cx="402.00" cy="99.36" r="1.05" fill="#7a0000" stroke="#1a0000" stroke-width="0.35"/>
<circle cx="401.87" cy="88.82" r="1.05" fill="#7a0000" stroke="#1a0000" stroke-width="0.35"/>
<circle cx="403.16" cy="110.25" r="1.05" fill="#7a0000" stroke="#1a0000" stroke-width="0.35"/>
<circle cx="401.95" cy="115.54" r="1.05" fill="#7a0000" stroke="#1a0000" stroke-width="0.35"/>
<circle cx="396.26" cy="103.06" r="1.05" fill="#7a0000" stroke="#1a0000" stroke-width="0.35"/>
<circle cx="399.12" cy="115.76" r="1.05" fill="#7a0000" stroke="#1a0000" stroke-width="0.35"/>
<circle cx="401.70" cy="130.34" r="1.05" fill="#7a0000" stroke="#1a0000" stroke-width="0.35"/>
<circle cx="400.79" cy="103.79" r="1.05" fill="#7a0000" stroke="#1a0000" stroke-width="0.35"/>
<circle cx="403.79" cy="106.80" r="1.05" fill="#7a0000" stroke="#1a0000" stroke-width="0.35"/>
<circle cx="397.11" cy="106.12" r="1.05" fill="#7a0000" stroke="#1a0000" stroke-width="0.35"/>
<circle cx="397.04" cy="117.35" r="1.05" fill="#7a0000" stroke="#1a0000" stroke-width="0.35"/>
<circle cx="404.28" cy="116.58" r="1.05" fill="#7a0000" stroke="#1a0000" stroke-width="0.35"/>
<circle cx="401.56" cy="97.55" r="1.05" fill="#7a0000" stroke="#1a0000" stroke-width="0.35"/>
<circle cx="397.13" cy="116.16" r="1.05" fill="#7a0000" stroke="#1a0000" stroke-width="0.35"/>
<circle cx="397.39" cy="108.37" r="1.05" fill="#7a0000" stroke="#1a0000" stroke-width="0.35"/>
<circle cx="397.47" cy="89.74" r="1.05" fill="#7a0000" stroke="#1a0000" stroke-width="0.35"/>
<circle cx="399.62" cy="128.14" r="1.05" fill="#7a0000" stroke="#1a0000" stroke-width="0.35"/>
<circle cx="400.42" cy="111.96" r="1.05" fill="#7a0000" stroke="#1a0000" stroke-width="0.35"/>
<circle cx="401.04" cy="110.79" r="1.05" fill="#7a0000" stroke="#1a0000" stroke-width="0.35"/>
<circle cx="403.32" cy="90.08" r="1.05" fill="#7a0000" stroke="#1a0000" stroke-width="0.35"/>
<circle cx="404.15" cy="108.64" r="1.05" fill="#7a0000" stroke="#1a0000" stroke-width="0.35"/>
<circle cx="396.60" cy="103.81" r="1.05" fill="#7a0000" stroke="#1a0000" stroke-width="0.35"/>
<circle cx="402.43" cy="106.65" r="1.05" fill="#7a0000" stroke="#1a0000" stroke-width="0.35"/>
<circle cx="401.83" cy="110.56" r="1.05" fill="#7a0000" stroke="#1a0000" stroke-width="0.35"/>
<circle cx="396.55" cy="110.82" r="1.05" fill="#7a0000" stroke="#1a0000" stroke-width="0.35"/>
<circle cx="399.31" cy="105.67" r="1.05" fill="#7a0000" stroke="#1a0000" stroke-width="0.35"/>
<circle cx="395.54" cy="105.81" r="1.05" fill="#7a0000" stroke="#1a0000" stroke-width="0.35"/>
<circle cx="397.80" cy="104.28" r="1.05" fill="#7a0000" stroke="#1a0000" stroke-width="0.35"/>
<circle cx="396.63" cy="115.64" r="1.05" fill="#7a0000" stroke="#1a0000" stroke-width="0.35"/>
<circle cx="397.24" cy="97.71" r="1.05" fill="#7a0000" stroke="#1a0000" stroke-width="0.35"/>
<circle cx="395.80" cy="103.67" r="1.05" fill="#7a0000" stroke="#1a0000" stroke-width="0.35"/>
<circle cx="397.91" cy="108.40" r="1.05" fill="#7a0000" stroke="#1a0000" stroke-width="0.35"/>
<circle cx="401.36" cy="123.86" r="1.05" fill="#7a0000" stroke="#1a0000" stroke-width="0.35"/>
<circle cx="396.71" cy="122.56" r="1.05" fill="#7a0000" stroke="#1a0000" stroke-width="0.35"/>
<circle cx="397.45" cy="116.26" r="1.05" fill="#7a0000" stroke="#1a0000" stroke-width="0.35"/>
<circle cx="401.29" cy="108.69" r="1.05" fill="#7a0000" stroke="#1a0000" stroke-width="0.35"/>
<circle cx="398.03" cy="99.87" r="1.05" fill="#7a0000" stroke="#1a0000" stroke-width="0.35"/>
<circle cx="399.82" cy="106.28" r="1.05" fill="#7a0000" stroke="#1a0000" stroke-width="0.35"/>
<circle cx="399.49" cy="103.39" r="1.05" fill="#7a0000" stroke="#1a0000" stroke-width="0.35"/>
<circle cx="400.45" cy="122.81" r="1.05" fill="#7a0000" stroke="#1a0000" stroke-width="0.35"/>
<circle cx="403.18" cy="102.12" r="1.05" fill="#7a0000" stroke="#1a0000" stroke-width="0.35"/>
<circle cx="400.17" cy="98.88" r="1.05" fill="#7a0000" stroke="#1a0000" stroke-width="0.35"/>
<circle cx="400.69" cy="100.79" r="1.05" fill="#7a0000" stroke="#1a0000" stroke-width="0.35"/>
<circle cx="401.28" cy="114.70" r="1.05" fill="#7a0000" stroke="#1a0000" stroke-width="0.35"/>
<circle cx="402.94" cy="130.26" r="1.05" fill="#7a0000" stroke="#1a0000" stroke-width="0.35"/>
<circle cx="396.40" cy="108.42" r="1.05" fill="#7a0000" stroke="#1a0000" stroke-width="0.35"/>
<circle cx="403.51" cy="108.75" r="1.05" fill="#7a0000" stroke="#1a0000" stroke-width="0.35"/>
<circle cx="403.62" cy="103.93" r="1.05" fill="#7a0000" stroke="#1a0000" stroke-width="0.35"/>
<circle cx="397.53" cy="91.47" r="1.05" fill="#7a0000" stroke="#1a0000" stroke-width="0.35"/>
<circle cx="402.12" cy="122.31" r="1.05" fill="#7a0000" stroke="#1a0000" stroke-width="0.35"/>
<circle cx="400.15" cy="108.85" r="1.05" fill="#7a0000" stroke="#1a0000" stroke-width="0.35"/>
<circle cx="399.65" cy="109.59" r="1.05" fill="#7a0000" stroke="#1a0000" stroke-width="0.35"/>
<circle cx="398.13" cy="120.38" r="1.05" fill="#7a0000" stroke="#1a0000" stroke-width="0.35"/>
<circle cx="397.85" cy="104.69" r="1.05" fill="#7a0000" stroke="#1a0000" stroke-width="0.35"/>
<circle cx="396.68" cy="118.16" r="1.05" fill="#7a0000" stroke="#1a0000" stroke-width="0.35"/>
<circle cx="398.76" cy="112.84" r="1.05" fill="#7a0000" stroke="#1a0000" stroke-width="0.35"/>
<circle cx="402.61" cy="102.01" r="1.05" fill="#7a0000" stroke="#1a0000" stroke-width="0.35"/>
<circle cx="398.25" cy="106.87" r="1.05" fill="#7a0000" stroke="#1a0000" stroke-width="0.35"/>
<circle cx="402.72" cy="100.71" r="1.05" fill="#7a0000" stroke="#1a0000" stroke-width="0.35"/>
<circle cx="398.84" cy="110.84" r="1.05" fill="#7a0000" stroke="#1a0000" stroke-width="0.35"/>
<circle cx="404.55" cy="120.00" r="1.05" fill="#7a0000" stroke="#1a0000" stroke-width="0.35"/>
<circle cx="400.25" cy="110.76" r="1.05" fill="#7a0000" stroke="#1a0000" stroke-width="0.35"/>
<circle cx="395.85" cy="122.05" r="1.05" fill="#7a0000" stroke="#1a0000" stroke-width="0.35"/>
<circle cx="402.66" cy="117.82" r="1.05" fill="#7a0000" stroke="#1a0000" stroke-width="0.35"/>
<circle cx="397.36" cy="127.04" r="1.05" fill="#7a0000" stroke="#1a0000" stroke-width="0.35"/>
<circle cx="400.82" cy="119.22" r="1.05" fill="#7a0000" stroke="#1a0000" stroke-width="0.35"/>
<circle cx="401.99" cy="129.14" r="1.05" fill="#7a0000" stroke="#1a0000" stroke-width="0.35"/>
<circle cx="400.00" cy="115.84" r="1.05" fill="#7a0000" stroke="#1a0000" stroke-width="0.35"/>
<circle cx="403.81" cy="106.14" r="1.05" fill="#7a0000" stroke="#1a0000" stroke-width="0.35"/>
<circle cx="403.51" cy="112.69" r="1.05" fill="#7a0000" stroke="#1a0000" stroke-width="0.35"/>
<circle cx="403.14" cy="116.35" r="1.05" fill="#7a0000" stroke="#1a0000" stroke-width="0.35"/>
<circle cx="403.07" cy="105.20" r="1.05" fill="#7a0000" stroke="#1a0000" stroke-width="0.35"/>
<circle cx="398.24" cy="109.53" r="1.05" fill="#7a0000" stroke="#1a0000" stroke-width="0.35"/>
<circle cx="396.82" cy="110.32" r="1.05" fill="#7a0000" stroke="#1a0000" stroke-width="0.35"/>
<circle cx="401.78" cy="103.10" r="1.05" fill="#7a0000" stroke="#1a0000" stroke-width="0.35"/>
<circle cx="399.44" cy="103.16" r="1.05" fill="#7a0000" stroke="#1a0000" stroke-width="0.35"/>
<circle cx="399.62" cy="115.44" r="1.05" fill="#7a0000" stroke="#1a0000" stroke-width="0.35"/>
<circle cx="396.38" cy="97.21" r="1.05" fill="#7a0000" stroke="#1a0000" stroke-width="0.35"/>
<circle cx="401.61" cy="112.37" r="1.05" fill="#7a0000" stroke="#1a0000" stroke-width="0.35"/>
<circle cx="398.04" cy="93.44" r="1.05" fill="#7a0000" stroke="#1a0000" stroke-width="0.35"/>
<circle cx="401.54" cy="111.39" r="1.05" fill="#7a0000" stroke="#1a0000" stroke-width="0.35"/>
<circle cx="401.66" cy="113.84" r="1.05" fill="#7a0000" stroke="#1a0000" stroke-width="0.35"/>
<circle cx="400.40" cy="123.41" r="1.05" fill="#7a0000" stroke="#1a0000" stroke-width="0.35"/>
<circle cx="398.70" cy="88.12" r="1.05" fill="#7a0000" stroke="#1a0000" stroke-width="0.35"/>
<circle cx="396.16" cy="112.84" r="1.05" fill="#7a0000" stroke="#1a0000" stroke-width="0.35"/>
<circle cx="403.60" cy="108.70" r="1.05" fill="#7a0000" stroke="#1a0000" stroke-width="0.35"/>
<circle cx="403.08" cy="112.33" r="1.05" fill="#7a0000" stroke="#1a0000" stroke-width="0.35"/>
<circle cx="397.29" cy="115.02" r="1.05" fill="#7a0000" stroke="#1a0000" stroke-width="0.35"/>
<circle cx="403.27" cy="121.63" r="1.05" fill="#7a0000" stroke="#1a0000" stroke-width="0.35"/>
<circle cx="401.24" cy="107.30" r="1.05" fill="#7a0000" stroke="#1a0000" stroke-width="0.35"/>
<circle cx="396.17" cy="111.61" r="1.05" fill="#7a0000" stroke="#1a0000" stroke-width="0.35"/>
<circle cx="401.05" cy="126.27" r="1.05" fill="#7a0000" stroke="#1a0000" stroke-width="0.35"/>
<circle cx="397.65" cy="97.26" r="1.05" fill="#7a0000" stroke="#1a0000" stroke-width="0.35"/>
<circle cx="396.42" cy="110.39" r="1.05" fill="#7a0000" stroke="#1a0000" stroke-width="0.35"/>
<circle cx="398.20" cy="107.48" r="1.05" fill="#7a0000" stroke="#1a0000" stroke-width="0.35"/>
<circle cx="401.55" cy="126.45" r="1.05" fill="#7a0000" stroke="#1a0000" stroke-width="0.35"/>
<circle cx="402.83" cy="118.03" r="1.05" fill="#7a0000" stroke="#1a0000" stroke-width="0.35"/>
<circle cx="397.96" cy="106.47" r="1.05" fill="#7a0000" stroke="#1a0000" stroke-width="0.35"/>
<circle cx="400.99" cy="104.64" r="1.05" fill="#7a0000" stroke="#1a0000" stroke-width="0.35"/>
<circle cx="398.35" cy="113.23" r="1.05" fill="#7a0000" stroke="#1a0000" stroke-width="0.35"/>
<circle cx="402.76" cy="97.81" r="1.05" fill="#7a0000" stroke="#1a0000" stroke-width="0.35"/>
<circle cx="403.22" cy="99.30" r="1.05" fill="#7a0000" stroke="#1a0000" stroke-width="0.35"/>
<circle cx="401.51" cy="116.76" r="1.05" fill="#7a0000" stroke="#1a0000" stroke-width="0.35"/>
<circle cx="397.28" cy="98.36" r="1.05" fill="#7a0000" stroke="#1a0000" stroke-width="0.35"/>
<circle cx="399.42" cy="113.03" r="1.05" fill="#7a0000" stroke="#1a0000" stroke-width="0.35"/>
<circle cx="395.55" cy="115.15" r="1.05" fill="#7a0000" stroke="#1a0000" stroke-width="0.35"/>
<circle cx="402.89" cy="101.01" r="1.05" fill="#7a0000" stroke="#1a0000" stroke-width="0.35"/>
<circle cx="400.72" cy="111.31" r="1.05" fill="#7a0000" stroke="#1a0000" stroke-width="0.35"/>
<circle cx="402.47" cy="111.91" r="1.05" fill="#7a0000" stroke="#1a0000" stroke-width="0.35"/>
<circle cx="399.65" cy="117.42" r="1.05" fill="#7a0000" stroke="#1a0000" stroke-width="0.35"/>
<circle cx="396.53" cy="116.32" r="1.05" fill="#7a0000" stroke="#1a0000" stroke-width="0.35"/>
<circle cx="401.76" cy="105.28" r="1.05" fill="#7a0000" stroke="#1a0000" stroke-width="0.35"/>
<circle cx="400.02" cy="105.03" r="1.05" fill="#7a0000" stroke="#1a0000" stroke-width="0.35"/>
<circle cx="402.42" cy="103.55" r="1.05" fill="#7a0000" stroke="#1a0000" stroke-width="0.35"/>
<circle cx="395.50" cy="109.00" r="1.05" fill="#7a0000" stroke="#1a0000" stroke-width="0.35"/>
<circle cx="396.19" cy="108.38" r="1.05" fill="#7a0000" stroke="#1a0000" stroke-width="0.35"/>
<circle cx="395.50" cy="113.86" r="1.05" fill="#7a0000" stroke="#1a0000" stroke-width="0.35"/>
<circle cx="396.45" cy="106.56" r="1.05" fill="#7a0000" stroke="#1a0000" stroke-width="0.35"/>
<circle cx="399.38" cy="109.50" r="1.05" fill="#7a0000" stroke="#1a0000" stroke-width="0.35"/>
<circle cx="401.44" cy="107.42" r="1.05" fill="#7a0000" stroke="#1a0000" stroke-width="0.35"/>
<circle cx="400.53" cy="104.52" r="1.05" fill="#7a0000" stroke="#1a0000" stroke-width="0.35"/>
<circle cx="404.52" cy="124.59" r="1.05" fill="#7a0000" stroke="#1a0000" stroke-width="0.35"/>
<circle cx="398.69" cy="102.50" r="1.05" fill="#7a0000" stroke="#1a0000" stroke-width="0.35"/>
<circle cx="398.00" cy="115.95" r="1.05" fill="#7a0000" stroke="#1a0000" stroke-width="0.35"/>
<circle cx="399.31" cy="104.78" r="1.05" fill="#7a0000" stroke="#1a0000" stroke-width="0.35"/>
<circle cx="396.21" cy="124.28" r="1.05" fill="#7a0000" stroke="#1a0000" stroke-width="0.35"/>
<circle cx="401.04" cy="112.08" r="1.05" fill="#7a0000" stroke="#1a0000" stroke-width="0.35"/>
<circle cx="397.72" cy="118.86" r="1.05" fill="#7a0000" stroke="#1a0000" stroke-width="0.35"/>
<circle cx="404.10" cy="113.44" r="1.05" fill="#7a0000" stroke="#1a0000" stroke-width="0.35"/>
<circle cx="398.22" cy="107.47" r="1.05" fill="#7a0000" stroke="#1a0000" stroke-width="0.35"/>
<circle cx="396.55" cy="118.06" r="1.05" fill="#7a0000" stroke="#1a0000" stroke-width="0.35"/>
<circle cx="397.89" cy="105.28" r="1.05" fill="#7a0000" stroke="#1a0000" stroke-width="0.35"/>
<circle cx="398.28" cy="103.99" r="1.05" fill="#7a0000" stroke="#1a0000" stroke-width="0.35"/>
<circle cx="397.39" cy="100.36" r="1.05" fill="#7a0000" stroke="#1a0000" stroke-width="0.35"/>
<circle cx="396.54" cy="122.75" r="1.05" fill="#7a0000" stroke="#1a0000" stroke-width="0.35"/>
<circle cx="398.00" cy="104.33" r="1.05" fill="#7a0000" stroke="#1a0000" stroke-width="0.35"/>
<circle cx="396.41" cy="120.22" r="1.05" fill="#7a0000" stroke="#1a0000" stroke-width="0.35"/>
<circle cx="403.64" cy="95.70" r="1.05" fill="#7a0000" stroke="#1a0000" stroke-width="0.35"/>
<circle cx="399.49" cy="127.89" r="1.05" fill="#7a0000" stroke="#1a0000" stroke-width="0.35"/>
<circle cx="401.57" cy="104.93" r="1.05" fill="#7a0000" stroke="#1a0000" stroke-width="0.35"/>
<circle cx="402.04" cy="112.27" r="1.05" fill="#7a0000" stroke="#1a0000" stroke-width="0.35"/>
<circle cx="396.34" cy="109.33" r="1.05" fill="#7a0000" stroke="#1a0000" stroke-width="0.35"/>
<circle cx="398.30" cy="122.60" r="1.05" fill="#7a0000" stroke="#1a0000" stroke-width="0.35"/>
<circle cx="401.09" cy="106.13" r="1.05" fill="#7a0000" stroke="#1a0000" stroke-width="0.35"/>
<circle cx="400.10" cy="125.59" r="1.05" fill="#7a0000" stroke="#1a0000" stroke-width="0.35"/>
<circle cx="399.83" cy="99.46" r="1.05" fill="#7a0000" stroke="#1a0000" stroke-width="0.35"/>
<circle cx="397.77" cy="114.36" r="1.05" fill="#7a0000" stroke="#1a0000" stroke-width="0.35"/>
<circle cx="398.96" cy="117.81" r="1.05" fill="#7a0000" stroke="#1a0000" stroke-width="0.35"/>
<circle cx="399.10" cy="95.96" r="1.05" fill="#7a0000" stroke="#1a0000" stroke-width="0.35"/>
<circle cx="402.45" cy="111.64" r="1.05" fill="#7a0000" stroke="#1a0000" stroke-width="0.35"/>
<circle cx="396.95" cy="109.18" r="1.05" fill="#7a0000" stroke="#1a0000" stroke-width="0.35"/>
<circle cx="401.14" cy="113.06" r="1.05" fill="#7a0000" stroke="#1a0000" stroke-width="0.35"/>
<circle cx="398.34" cy="117.77" r="1.05" fill="#7a0000" stroke="#1a0000" stroke-width="0.35"/>
<circle cx="403.86" cy="99.27" r="1.05" fill="#7a0000" stroke="#1a0000" stroke-width="0.35"/>
<circle cx="400.73" cy="108.80" r="1.05" fill="#7a0000" stroke="#1a0000" stroke-width="0.35"/>
<circle cx="400.52" cy="108.37" r="1.05" fill="#7a0000" stroke="#1a0000" stroke-width="0.35"/>
<circle cx="398.19" cy="122.64" r="1.05" fill="#7a0000" stroke="#1a0000" stroke-width="0.35"/>
<circle cx="404.47" cy="109.81" r="1.05" fill="#7a0000" stroke="#1a0000" stroke-width="0.35"/>
<circle cx="403.44" cy="108.80" r="1.05" fill="#7a0000" stroke="#1a0000" stroke-width="0.35"/>
<circle cx="396.60" cy="123.17" r="1.05" fill="#7a0000" stroke="#1a0000" stroke-width="0.35"/>
<circle cx="404.51" cy="115.27" r="1.05" fill="#7a0000" stroke="#1a0000" stroke-width="0.35"/>
<circle cx="397.75" cy="95.76" r="1.05" fill="#7a0000" stroke="#1a0000" stroke-width="0.35"/>
<circle cx="401.42" cy="114.38" r="1.05" fill="#7a0000" stroke="#1a0000" stroke-width="0.35"/>
<circle cx="397.85" cy="125.86" r="1.05" fill="#7a0000" stroke="#1a0000" stroke-width="0.35"/>
<circle cx="396.98" cy="112.90" r="1.05" fill="#7a0000" stroke="#1a0000" stroke-width="0.35"/>
<circle cx="395.82" cy="100.09" r="1.05" fill="#7a0000" stroke="#1a0000" stroke-width="0.35"/>
<circle cx="396.94" cy="113.84" r="1.05" fill="#7a0000" stroke="#1a0000" stroke-width="0.35"/>
<circle cx="401.84" cy="101.71" r="1.05" fill="#7a0000" stroke="#1a0000" stroke-width="0.35"/>
<circle cx="396.65" cy="117.65" r="1.05" fill="#7a0000" stroke="#1a0000" stroke-width="0.35"/>
<circle cx="404.52" cy="113.73" r="1.05" fill="#7a0000" stroke="#1a0000" stroke-width="0.35"/>
<circle cx="398.82" cy="102.37" r="1.05" fill="#7a0000" stroke="#1a0000" stroke-width="0.35"/>
<circle cx="396.14" cy="101.96" r="1.05" fill="#7a0000" stroke="#1a0000" stroke-width="0.35"/>
<circle cx="403.93" cy="112.75" r="1.05" fill="#7a0000" stroke="#1a0000" stroke-width="0.35"/>
<circle cx="396.82" cy="97.29" r="1.05" fill="#7a0000" stroke="#1a0000" stroke-width="0.35"/>
<circle cx="399.87" cy="101.79" r="1.05" fill="#7a0000" stroke="#1a0000" stroke-width="0.35"/>
<circle cx="399.03" cy="108.43" r="1.05" fill="#7a0000" stroke="#1a0000" stroke-width="0.35"/>
<circle cx="401.16" cy="116.99" r="1.05" fill="#7a0000" stroke="#1a0000" stroke-width="0.35"/>
<circle cx="404.49" cy="96.56" r="1.05" fill="#7a0000" stroke="#1a0000" stroke-width="0.35"/>
<circle cx="400.83" cy="113.68" r="1.05" fill="#7a0000" stroke="#1a0000" stroke-width="0.35"/>
<circle cx="404.33" cy="116.76" r="1.05" fill="#7a0000" stroke="#1a0000" stroke-width="0.35"/>
<circle cx="398.60" cy="88.90" r="1.05" fill="#7a0000" stroke="#1a0000" stroke-width="0.35"/>
<circle cx="395.58" cy="117.28" r="1.05" fill="#7a0000" stroke="#1a0000" stroke-width="0.35"/>
<circle cx="402.94" cy="98.14" r="1.05" fill="#7a0000" stroke="#1a0000" stroke-width="0.35"/>
<circle cx="398.50" cy="125.32" r="1.05" fill="#7a0000" stroke="#1a0000" stroke-width="0.35"/>
<circle cx="402.08" cy="98.50" r="1.05" fill="#7a0000" stroke="#1a0000" stroke-width="0.35"/>
<circle cx="401.27" cy="114.58" r="1.05" fill="#7a0000" stroke="#1a0000" stroke-width="0.35"/>
<circle cx="398.91" cy="101.38" r="1.05" fill="#7a0000" stroke="#1a0000" stroke-width="0.35"/>
<circle cx="397.62" cy="119.64" r="1.05" fill="#7a0000" stroke="#1a0000" stroke-width="0.35"/>
<circle cx="399.34" cy="104.77" r="1.05" fill="#7a0000" stroke="#1a0000" stroke-width="0.35"/>
<circle cx="398.42" cy="102.53" r="1.05" fill="#7a0000" stroke="#1a0000" stroke-width="0.35"/>
<circle cx="401.19" cy="105.45" r="1.05" fill="#7a0000" stroke="#1a0000" stroke-width="0.35"/>
<circle cx="396.17" cy="105.62" r="1.05" fill="#7a0000" stroke="#1a0000" stroke-width="0.35"/>
<circle cx="398.33" cy="119.44" r="1.05" fill="#7a0000" stroke="#1a0000" stroke-width="0.35"/>
<circle cx="398.42" cy="117.80" r="1.05" fill="#7a0000" stroke="#1a0000" stroke-width="0.35"/>
<circle cx="398.87" cy="116.77" r="1.05" fill="#7a0000" stroke="#1a0000" stroke-width="0.35"/>
<circle cx="397.34" cy="115.17" r="1.05" fill="#7a0000" stroke="#1a0000" stroke-width="0.35"/>
<circle cx="395.76" cy="121.90" r="1.05" fill="#7a0000" stroke="#1a0000" stroke-width="0.35"/>
<circle cx="400.66" cy="110.76" r="1.05" fill="#7a0000" stroke="#1a0000" stroke-width="0.35"/>
<circle cx="399.76" cy="112.67" r="1.05" fill="#7a0000" stroke="#1a0000" stroke-width="0.35"/>
<circle cx="403.08" cy="108.39" r="1.05" fill="#7a0000" stroke="#1a0000" stroke-width="0.35"/>
<circle cx="395.93" cy="110.36" r="1.05" fill="#7a0000" stroke="#1a0000" stroke-width="0.35"/>
<circle cx="401.80" cy="114.77" r="1.05" fill="#7a0000" stroke="#1a0000" stroke-width="0.35"/>
<circle cx="398.61" cy="110.78" r="1.05" fill="#7a0000" stroke="#1a0000" stroke-width="0.35"/>
<circle cx="404.45" cy="100.54" r="1.05" fill="#7a0000" stroke="#1a0000" stroke-width="0.35"/>
<circle cx="402.83" cy="110.14" r="1.05" fill="#7a0000" stroke="#1a0000" stroke-width="0.35"/>
<circle cx="399.57" cy="126.15" r="1.05" fill="#7a0000" stroke="#1a0000" stroke-width="0.35"/>
<circle cx="403.70" cy="111.72" r="1.05" fill="#7a0000" stroke="#1a0000" stroke-width="0.35"/>
<circle cx="402.26" cy="102.18" r="1.05" fill="#7a0000" stroke="#1a0000" stroke-width="0.35"/>
<circle cx="401.61" cy="97.71" r="1.05" fill="#7a0000" stroke="#1a0000" stroke-width="0.35"/>
<text x="346.00" y="88.50" font-size="4.4" text-anchor="middle" fill="#222" font-weight="normal"  textLength="18.80" lengthAdjust="spacingAndGlyphs" stroke="#222" stroke-width="0.06">p = 0.0039</text>
<text x="319.71" y="116.20" font-size="4.2" text-anchor="middle" fill="#222" textLength="55.20" lengthAdjust="spacingAndGlyphs" stroke="#222" stroke-width="0.06" transform="rotate(-90 319.71 116.20)">log<tspan font-size="2.6" dy="0.9">2</tspan><tspan dy="-0.9"> Cand1 expression, TCGA</tspan></text>
<text x="10.35" y="164.00" font-size="9.8" fill="#000" stroke="#000" stroke-width="0.45" font-weight="bold" textLength="2.00" lengthAdjust="spacingAndGlyphs">I</text>
<line x1="24.00" y1="165.70" x2="24.00" y2="225.40" stroke="#333" stroke-width="0.5" />
<line x1="22.80" y1="168.20" x2="24.00" y2="168.20" stroke="#333" stroke-width="0.4" />
<text x="22.20" y="169.49" font-size="3.7" text-anchor="end" fill="#333" font-weight="normal"  stroke="#333" stroke-width="0.06">10</text>
<line x1="22.80" y1="177.30" x2="24.00" y2="177.30" stroke="#333" stroke-width="0.4" />
<text x="22.20" y="178.59" font-size="3.7" text-anchor="end" fill="#333" font-weight="normal"  stroke="#333" stroke-width="0.06">9</text>
<line x1="22.80" y1="186.50" x2="24.00" y2="186.50" stroke="#333" stroke-width="0.4" />
<text x="22.20" y="187.79" font-size="3.7" text-anchor="end" fill="#333" font-weight="normal"  stroke="#333" stroke-width="0.06">8</text>
<line x1="22.80" y1="195.60" x2="24.00" y2="195.60" stroke="#333" stroke-width="0.4" />
<text x="22.20" y="196.89" font-size="3.7" text-anchor="end" fill="#333" font-weight="normal"  stroke="#333" stroke-width="0.06">7</text>
<line x1="22.80" y1="204.60" x2="24.00" y2="204.60" stroke="#333" stroke-width="0.4" />
<text x="22.20" y="205.89" font-size="3.7" text-anchor="end" fill="#333" font-weight="normal"  stroke="#333" stroke-width="0.06">6</text>
<line x1="22.80" y1="213.70" x2="24.00" y2="213.70" stroke="#333" stroke-width="0.4" />
<text x="22.20" y="214.99" font-size="3.7" text-anchor="end" fill="#333" font-weight="normal"  stroke="#333" stroke-width="0.06">5</text>
<line x1="24.00" y1="225.40" x2="90.50" y2="225.40" stroke="#333" stroke-width="0.5" />
<line x1="41.80" y1="225.40" x2="41.80" y2="226.60" stroke="#333" stroke-width="0.4" />
<line x1="71.80" y1="225.40" x2="71.80" y2="226.60" stroke="#333" stroke-width="0.4" />
<text x="41.80" y="230.90" font-size="3.9" text-anchor="middle" fill="#222" font-weight="normal"  stroke="#222" stroke-width="0.06">Cand1<tspan font-size="2.7" dy="-1.2">hi</tspan></text>
<text x="71.80" y="230.90" font-size="3.9" text-anchor="middle" fill="#222" font-weight="normal"  stroke="#222" stroke-width="0.06">Cand1<tspan font-size="2.7" dy="-1.2">lo</tspan></text>
<line x1="42.30" y1="165.80" x2="72.20" y2="165.80" stroke="#444" stroke-width="0.5" />
<text x="56.90" y="163.90" font-size="4.4" text-anchor="middle" fill="#222" font-weight="normal"  textLength="18.50" lengthAdjust="spacingAndGlyphs" stroke="#222" stroke-width="0.06">p = 0.0036</text>
<line x1="42.30" y1="177.30" x2="42.30" y2="186.50" stroke="#444" stroke-width="0.5" />
<line x1="42.30" y1="195.60" x2="42.30" y2="204.60" stroke="#444" stroke-width="0.5" />
<rect x="30.80" y="186.50" width="23.00" height="9.10" fill="#f9d3d6" stroke="#444" stroke-width="0.5" />
<line x1="30.80" y1="195.60" x2="53.80" y2="195.60" stroke="#444" stroke-width="0.9" />
<circle cx="38.80" cy="168.10" r="1.30" fill="#dd0000" stroke="#700000" stroke-width="0.3"/>
<circle cx="40.00" cy="177.30" r="1.30" fill="#dd0000" stroke="#700000" stroke-width="0.3"/>
<circle cx="42.50" cy="177.30" r="1.30" fill="#dd0000" stroke="#700000" stroke-width="0.3"/>
<circle cx="45.10" cy="177.30" r="1.30" fill="#dd0000" stroke="#700000" stroke-width="0.3"/>
<circle cx="38.40" cy="186.50" r="1.30" fill="#dd0000" stroke="#700000" stroke-width="0.3"/>
<circle cx="42.60" cy="186.50" r="1.30" fill="#dd0000" stroke="#700000" stroke-width="0.3"/>
<circle cx="39.40" cy="195.60" r="1.30" fill="#dd0000" stroke="#700000" stroke-width="0.3"/>
<circle cx="41.60" cy="195.60" r="1.30" fill="#dd0000" stroke="#700000" stroke-width="0.3"/>
<circle cx="43.80" cy="195.60" r="1.30" fill="#dd0000" stroke="#700000" stroke-width="0.3"/>
<circle cx="46.10" cy="195.60" r="1.30" fill="#dd0000" stroke="#700000" stroke-width="0.3"/>
<circle cx="41.30" cy="204.60" r="1.30" fill="#dd0000" stroke="#700000" stroke-width="0.3"/>
<circle cx="44.60" cy="204.60" r="1.30" fill="#dd0000" stroke="#700000" stroke-width="0.3"/>
<line x1="72.00" y1="177.30" x2="72.00" y2="195.60" stroke="#444" stroke-width="0.5" />
<line x1="72.00" y1="204.60" x2="72.00" y2="213.70" stroke="#444" stroke-width="0.5" />
<rect x="60.50" y="195.60" width="23.00" height="9.00" fill="#d2d2f6" stroke="#444" stroke-width="0.5" />
<line x1="60.50" y1="195.60" x2="83.50" y2="195.60" stroke="#444" stroke-width="0.9" />
<circle cx="69.50" cy="177.30" r="1.30" fill="#0000cc" stroke="#000070" stroke-width="0.3"/>
<circle cx="73.90" cy="177.30" r="1.30" fill="#0000cc" stroke="#000070" stroke-width="0.3"/>
<circle cx="69.50" cy="186.50" r="1.30" fill="#0000cc" stroke="#000070" stroke-width="0.3"/>
<circle cx="73.90" cy="186.50" r="1.30" fill="#0000cc" stroke="#000070" stroke-width="0.3"/>
<circle cx="68.10" cy="195.60" r="1.30" fill="#0000cc" stroke="#000070" stroke-width="0.3"/>
<circle cx="70.40" cy="195.60" r="1.30" fill="#0000cc" stroke="#000070" stroke-width="0.3"/>
<circle cx="72.70" cy="195.60" r="1.30" fill="#0000cc" stroke="#000070" stroke-width="0.3"/>
<circle cx="75.00" cy="195.60" r="1.30" fill="#0000cc" stroke="#000070" stroke-width="0.3"/>
<circle cx="77.20" cy="195.60" r="1.30" fill="#0000cc" stroke="#000070" stroke-width="0.3"/>
<circle cx="68.10" cy="204.60" r="1.30" fill="#0000cc" stroke="#000070" stroke-width="0.3"/>
<circle cx="70.40" cy="204.60" r="1.30" fill="#0000cc" stroke="#000070" stroke-width="0.3"/>
<circle cx="72.70" cy="204.60" r="1.30" fill="#0000cc" stroke="#000070" stroke-width="0.3"/>
<circle cx="75.00" cy="204.60" r="1.30" fill="#0000cc" stroke="#000070" stroke-width="0.3"/>
<circle cx="77.20" cy="204.60" r="1.30" fill="#0000cc" stroke="#000070" stroke-width="0.3"/>
<circle cx="71.00" cy="213.70" r="1.30" fill="#0000cc" stroke="#000070" stroke-width="0.3"/>
<circle cx="74.90" cy="213.70" r="1.30" fill="#0000cc" stroke="#000070" stroke-width="0.3"/>
<text x="13.90" y="195.60" font-size="3.9" text-anchor="middle" fill="#222" textLength="48.00" lengthAdjust="spacingAndGlyphs" stroke="#222" stroke-width="0.06" transform="rotate(-90 13.90 195.60)">Gleason Score, GSE70769</text>
<text x="108.35" y="164.60" font-size="9.8" fill="#000" stroke="#000" stroke-width="0.45" font-weight="bold" textLength="3.80" lengthAdjust="spacingAndGlyphs">J</text>
<line x1="128.70" y1="166.30" x2="128.70" y2="225.00" stroke="#333" stroke-width="0.5" />
<line x1="127.50" y1="168.80" x2="128.70" y2="168.80" stroke="#333" stroke-width="0.4" />
<text x="126.90" y="170.09" font-size="3.7" text-anchor="end" fill="#333" font-weight="normal"  stroke="#333" stroke-width="0.06">10</text>
<line x1="127.50" y1="177.80" x2="128.70" y2="177.80" stroke="#333" stroke-width="0.4" />
<text x="126.90" y="179.09" font-size="3.7" text-anchor="end" fill="#333" font-weight="normal"  stroke="#333" stroke-width="0.06">9</text>
<line x1="127.50" y1="186.80" x2="128.70" y2="186.80" stroke="#333" stroke-width="0.4" />
<text x="126.90" y="188.09" font-size="3.7" text-anchor="end" fill="#333" font-weight="normal"  stroke="#333" stroke-width="0.06">8</text>
<line x1="127.50" y1="195.90" x2="128.70" y2="195.90" stroke="#333" stroke-width="0.4" />
<text x="126.90" y="197.19" font-size="3.7" text-anchor="end" fill="#333" font-weight="normal"  stroke="#333" stroke-width="0.06">7</text>
<line x1="127.50" y1="204.90" x2="128.70" y2="204.90" stroke="#333" stroke-width="0.4" />
<text x="126.90" y="206.19" font-size="3.7" text-anchor="end" fill="#333" font-weight="normal"  stroke="#333" stroke-width="0.06">6</text>
<line x1="127.50" y1="214.20" x2="128.70" y2="214.20" stroke="#333" stroke-width="0.4" />
<text x="126.90" y="215.49" font-size="3.7" text-anchor="end" fill="#333" font-weight="normal"  stroke="#333" stroke-width="0.06">5</text>
<line x1="128.70" y1="225.00" x2="191.00" y2="225.00" stroke="#333" stroke-width="0.5" />
<line x1="146.40" y1="225.00" x2="146.40" y2="226.20" stroke="#333" stroke-width="0.4" />
<line x1="176.40" y1="225.00" x2="176.40" y2="226.20" stroke="#333" stroke-width="0.4" />
<text x="146.40" y="230.50" font-size="3.9" text-anchor="middle" fill="#222" font-weight="normal"  stroke="#222" stroke-width="0.06">Cand1<tspan font-size="2.7" dy="-1.2">hi</tspan></text>
<text x="176.40" y="230.50" font-size="3.9" text-anchor="middle" fill="#222" font-weight="normal"  stroke="#222" stroke-width="0.06">Cand1<tspan font-size="2.7" dy="-1.2">lo</tspan></text>
<line x1="146.90" y1="165.40" x2="176.40" y2="165.40" stroke="#444" stroke-width="0.5" />
<text x="161.60" y="163.80" font-size="4.4" text-anchor="middle" fill="#222" font-weight="normal"  textLength="18.60" lengthAdjust="spacingAndGlyphs" stroke="#222" stroke-width="0.06">p &lt; 0.0001</text>
<line x1="146.80" y1="169.30" x2="146.80" y2="178.00" stroke="#444" stroke-width="0.5" />
<line x1="146.80" y1="196.00" x2="146.80" y2="204.80" stroke="#444" stroke-width="0.5" />
<rect x="135.50" y="178.00" width="22.60" height="18.00" fill="#f9d3d6" stroke="#444" stroke-width="0.5" />
<line x1="135.50" y1="196.00" x2="158.10" y2="196.00" stroke="#444" stroke-width="0.9" />
<circle cx="143.20" cy="178.20" r="1.15" fill="#dd0000" stroke="#5a0000" stroke-width="0.3"/>
<circle cx="144.60" cy="178.20" r="1.15" fill="#dd0000" stroke="#5a0000" stroke-width="0.3"/>
<circle cx="146.00" cy="178.20" r="1.15" fill="#dd0000" stroke="#5a0000" stroke-width="0.3"/>
<circle cx="147.40" cy="178.20" r="1.15" fill="#dd0000" stroke="#5a0000" stroke-width="0.3"/>
<circle cx="148.80" cy="178.20" r="1.15" fill="#dd0000" stroke="#5a0000" stroke-width="0.3"/>
<circle cx="150.20" cy="178.20" r="1.15" fill="#dd0000" stroke="#5a0000" stroke-width="0.3"/>
<circle cx="151.60" cy="178.20" r="1.15" fill="#dd0000" stroke="#5a0000" stroke-width="0.3"/>
<circle cx="143.20" cy="187.30" r="1.15" fill="#dd0000" stroke="#5a0000" stroke-width="0.3"/>
<circle cx="144.60" cy="187.30" r="1.15" fill="#dd0000" stroke="#5a0000" stroke-width="0.3"/>
<circle cx="146.00" cy="187.30" r="1.15" fill="#dd0000" stroke="#5a0000" stroke-width="0.3"/>
<circle cx="147.40" cy="187.30" r="1.15" fill="#dd0000" stroke="#5a0000" stroke-width="0.3"/>
<circle cx="148.80" cy="187.30" r="1.15" fill="#dd0000" stroke="#5a0000" stroke-width="0.3"/>
<circle cx="150.20" cy="187.30" r="1.15" fill="#dd0000" stroke="#5a0000" stroke-width="0.3"/>
<circle cx="151.60" cy="187.30" r="1.15" fill="#dd0000" stroke="#5a0000" stroke-width="0.3"/>
<circle cx="143.20" cy="195.60" r="1.15" fill="#dd0000" stroke="#5a0000" stroke-width="0.3"/>
<circle cx="144.71" cy="195.60" r="1.15" fill="#dd0000" stroke="#5a0000" stroke-width="0.3"/>
<circle cx="146.23" cy="195.60" r="1.15" fill="#dd0000" stroke="#5a0000" stroke-width="0.3"/>
<circle cx="147.74" cy="195.60" r="1.15" fill="#dd0000" stroke="#5a0000" stroke-width="0.3"/>
<circle cx="149.26" cy="195.60" r="1.15" fill="#dd0000" stroke="#5a0000" stroke-width="0.3"/>
<circle cx="150.77" cy="195.60" r="1.15" fill="#dd0000" stroke="#5a0000" stroke-width="0.3"/>
<circle cx="152.29" cy="195.60" r="1.15" fill="#dd0000" stroke="#5a0000" stroke-width="0.3"/>
<circle cx="153.80" cy="195.60" r="1.15" fill="#dd0000" stroke="#5a0000" stroke-width="0.3"/>
<circle cx="143.20" cy="204.60" r="1.15" fill="#dd0000" stroke="#5a0000" stroke-width="0.3"/>
<circle cx="144.71" cy="204.60" r="1.15" fill="#dd0000" stroke="#5a0000" stroke-width="0.3"/>
<circle cx="146.23" cy="204.60" r="1.15" fill="#dd0000" stroke="#5a0000" stroke-width="0.3"/>
<circle cx="147.74" cy="204.60" r="1.15" fill="#dd0000" stroke="#5a0000" stroke-width="0.3"/>
<circle cx="149.26" cy="204.60" r="1.15" fill="#dd0000" stroke="#5a0000" stroke-width="0.3"/>
<circle cx="150.77" cy="204.60" r="1.15" fill="#dd0000" stroke="#5a0000" stroke-width="0.3"/>
<circle cx="152.29" cy="204.60" r="1.15" fill="#dd0000" stroke="#5a0000" stroke-width="0.3"/>
<circle cx="153.80" cy="204.60" r="1.15" fill="#dd0000" stroke="#5a0000" stroke-width="0.3"/>
<circle cx="148.30" cy="169.30" r="1.15" fill="#dd0000" stroke="#5a0000" stroke-width="0.3"/>
<circle cx="151.20" cy="169.30" r="1.15" fill="#dd0000" stroke="#5a0000" stroke-width="0.3"/>
<line x1="175.85" y1="178.00" x2="175.85" y2="195.50" stroke="#444" stroke-width="0.5" />
<line x1="175.85" y1="205.00" x2="175.85" y2="205.00" stroke="#444" stroke-width="0.5" />
<rect x="164.20" y="195.50" width="23.30" height="9.50" fill="#d2d2f6" stroke="#444" stroke-width="0.5" />
<line x1="164.20" y1="195.50" x2="187.50" y2="195.50" stroke="#444" stroke-width="0.9" />
<circle cx="178.50" cy="168.90" r="1.15" fill="#0000cc" stroke="#000070" stroke-width="0.3"/>
<circle cx="172.40" cy="178.00" r="1.15" fill="#0000cc" stroke="#000070" stroke-width="0.3"/>
<circle cx="174.02" cy="178.00" r="1.15" fill="#0000cc" stroke="#000070" stroke-width="0.3"/>
<circle cx="175.64" cy="178.00" r="1.15" fill="#0000cc" stroke="#000070" stroke-width="0.3"/>
<circle cx="177.26" cy="178.00" r="1.15" fill="#0000cc" stroke="#000070" stroke-width="0.3"/>
<circle cx="178.88" cy="178.00" r="1.15" fill="#0000cc" stroke="#000070" stroke-width="0.3"/>
<circle cx="180.50" cy="178.00" r="1.15" fill="#0000cc" stroke="#000070" stroke-width="0.3"/>
<circle cx="172.40" cy="187.30" r="1.15" fill="#0000cc" stroke="#000070" stroke-width="0.3"/>
<circle cx="174.02" cy="187.30" r="1.15" fill="#0000cc" stroke="#000070" stroke-width="0.3"/>
<circle cx="175.64" cy="187.30" r="1.15" fill="#0000cc" stroke="#000070" stroke-width="0.3"/>
<circle cx="177.26" cy="187.30" r="1.15" fill="#0000cc" stroke="#000070" stroke-width="0.3"/>
<circle cx="178.88" cy="187.30" r="1.15" fill="#0000cc" stroke="#000070" stroke-width="0.3"/>
<circle cx="180.50" cy="187.30" r="1.15" fill="#0000cc" stroke="#000070" stroke-width="0.3"/>
<circle cx="172.00" cy="195.60" r="1.15" fill="#0000cc" stroke="#000070" stroke-width="0.3"/>
<circle cx="173.50" cy="195.60" r="1.15" fill="#0000cc" stroke="#000070" stroke-width="0.3"/>
<circle cx="175.00" cy="195.60" r="1.15" fill="#0000cc" stroke="#000070" stroke-width="0.3"/>
<circle cx="176.50" cy="195.60" r="1.15" fill="#0000cc" stroke="#000070" stroke-width="0.3"/>
<circle cx="178.00" cy="195.60" r="1.15" fill="#0000cc" stroke="#000070" stroke-width="0.3"/>
<circle cx="179.50" cy="195.60" r="1.15" fill="#0000cc" stroke="#000070" stroke-width="0.3"/>
<circle cx="181.00" cy="195.60" r="1.15" fill="#0000cc" stroke="#000070" stroke-width="0.3"/>
<circle cx="171.30" cy="204.80" r="1.15" fill="#0000cc" stroke="#000070" stroke-width="0.3"/>
<circle cx="172.92" cy="204.80" r="1.15" fill="#0000cc" stroke="#000070" stroke-width="0.3"/>
<circle cx="174.53" cy="204.80" r="1.15" fill="#0000cc" stroke="#000070" stroke-width="0.3"/>
<circle cx="176.15" cy="204.80" r="1.15" fill="#0000cc" stroke="#000070" stroke-width="0.3"/>
<circle cx="177.77" cy="204.80" r="1.15" fill="#0000cc" stroke="#000070" stroke-width="0.3"/>
<circle cx="179.38" cy="204.80" r="1.15" fill="#0000cc" stroke="#000070" stroke-width="0.3"/>
<circle cx="181.00" cy="204.80" r="1.15" fill="#0000cc" stroke="#000070" stroke-width="0.3"/>
<text x="119.30" y="196.15" font-size="3.9" text-anchor="middle" fill="#222" textLength="46.90" lengthAdjust="spacingAndGlyphs" stroke="#222" stroke-width="0.06" transform="rotate(-90 119.30 196.15)">Gleason Score, GSE16560</text>
<text x="203.35" y="164.60" font-size="9.8" fill="#000" stroke="#000" stroke-width="0.45" font-weight="bold" textLength="5.10" lengthAdjust="spacingAndGlyphs">K</text>
<line x1="226.60" y1="167.60" x2="226.60" y2="227.30" stroke="#333" stroke-width="0.5" />
<line x1="225.40" y1="170.10" x2="226.60" y2="170.10" stroke="#333" stroke-width="0.4" />
<text x="224.80" y="171.39" font-size="3.7" text-anchor="end" fill="#333" font-weight="normal"  stroke="#333" stroke-width="0.06">9</text>
<line x1="225.40" y1="181.00" x2="226.60" y2="181.00" stroke="#333" stroke-width="0.4" />
<text x="224.80" y="182.29" font-size="3.7" text-anchor="end" fill="#333" font-weight="normal"  stroke="#333" stroke-width="0.06">8</text>
<line x1="225.40" y1="191.70" x2="226.60" y2="191.70" stroke="#333" stroke-width="0.4" />
<text x="224.80" y="192.99" font-size="3.7" text-anchor="end" fill="#333" font-weight="normal"  stroke="#333" stroke-width="0.06">7</text>
<line x1="225.40" y1="202.40" x2="226.60" y2="202.40" stroke="#333" stroke-width="0.4" />
<text x="224.80" y="203.69" font-size="3.7" text-anchor="end" fill="#333" font-weight="normal"  stroke="#333" stroke-width="0.06">6</text>
<line x1="225.40" y1="213.00" x2="226.60" y2="213.00" stroke="#333" stroke-width="0.4" />
<text x="224.80" y="214.29" font-size="3.7" text-anchor="end" fill="#333" font-weight="normal"  stroke="#333" stroke-width="0.06">5</text>
<line x1="226.60" y1="227.30" x2="290.00" y2="227.30" stroke="#333" stroke-width="0.5" />
<line x1="243.20" y1="227.30" x2="243.20" y2="228.50" stroke="#333" stroke-width="0.4" />
<line x1="273.50" y1="227.30" x2="273.50" y2="228.50" stroke="#333" stroke-width="0.4" />
<text x="243.20" y="232.80" font-size="3.9" text-anchor="middle" fill="#222" font-weight="normal"  stroke="#222" stroke-width="0.06">Cand1<tspan font-size="2.7" dy="-1.2">hi</tspan></text>
<text x="273.50" y="232.80" font-size="3.9" text-anchor="middle" fill="#222" font-weight="normal"  stroke="#222" stroke-width="0.06">Cand1<tspan font-size="2.7" dy="-1.2">lo</tspan></text>
<line x1="245.10" y1="166.60" x2="275.60" y2="166.60" stroke="#444" stroke-width="0.5" />
<text x="260.50" y="165.20" font-size="4.4" text-anchor="middle" fill="#222" font-weight="normal"  textLength="14.20" lengthAdjust="spacingAndGlyphs" stroke="#222" stroke-width="0.06">p = 0.16</text>
<line x1="233.60" y1="191.70" x2="256.60" y2="191.70" stroke="#222" stroke-width="0.9" />
<line x1="264.30" y1="191.70" x2="287.30" y2="191.70" stroke="#222" stroke-width="0.9" />
<circle cx="244.20" cy="170.10" r="1.25" fill="#dd0000" stroke="#700000" stroke-width="0.3"/>
<circle cx="242.80" cy="181.20" r="1.25" fill="#dd0000" stroke="#700000" stroke-width="0.3"/>
<circle cx="248.40" cy="181.20" r="1.25" fill="#dd0000" stroke="#700000" stroke-width="0.3"/>
<circle cx="241.30" cy="191.70" r="1.25" fill="#dd0000" stroke="#700000" stroke-width="0.3"/>
<circle cx="243.20" cy="191.70" r="1.25" fill="#dd0000" stroke="#700000" stroke-width="0.3"/>
<circle cx="245.10" cy="191.70" r="1.25" fill="#dd0000" stroke="#700000" stroke-width="0.3"/>
<circle cx="247.00" cy="191.70" r="1.25" fill="#dd0000" stroke="#700000" stroke-width="0.3"/>
<circle cx="248.90" cy="191.70" r="1.25" fill="#dd0000" stroke="#700000" stroke-width="0.3"/>
<circle cx="242.30" cy="202.20" r="1.25" fill="#dd0000" stroke="#700000" stroke-width="0.3"/>
<circle cx="245.50" cy="202.20" r="1.25" fill="#dd0000" stroke="#700000" stroke-width="0.3"/>
<circle cx="248.50" cy="202.20" r="1.25" fill="#dd0000" stroke="#700000" stroke-width="0.3"/>
<circle cx="273.90" cy="181.20" r="1.25" fill="#0000cc" stroke="#000070" stroke-width="0.3"/>
<circle cx="276.40" cy="181.20" r="1.25" fill="#0000cc" stroke="#000070" stroke-width="0.3"/>
<circle cx="272.00" cy="191.70" r="1.25" fill="#0000cc" stroke="#000070" stroke-width="0.3"/>
<circle cx="273.80" cy="191.70" r="1.25" fill="#0000cc" stroke="#000070" stroke-width="0.3"/>
<circle cx="275.60" cy="191.70" r="1.25" fill="#0000cc" stroke="#000070" stroke-width="0.3"/>
<circle cx="277.40" cy="191.70" r="1.25" fill="#0000cc" stroke="#000070" stroke-width="0.3"/>
<circle cx="279.60" cy="191.70" r="1.25" fill="#0000cc" stroke="#000070" stroke-width="0.3"/>
<circle cx="272.00" cy="202.20" r="1.25" fill="#0000cc" stroke="#000070" stroke-width="0.3"/>
<circle cx="274.50" cy="202.20" r="1.25" fill="#0000cc" stroke="#000070" stroke-width="0.3"/>
<circle cx="277.00" cy="202.20" r="1.25" fill="#0000cc" stroke="#000070" stroke-width="0.3"/>
<circle cx="278.70" cy="202.20" r="1.25" fill="#0000cc" stroke="#000070" stroke-width="0.3"/>
<text x="219.30" y="197.20" font-size="3.9" text-anchor="middle" fill="#222" textLength="47.00" lengthAdjust="spacingAndGlyphs" stroke="#222" stroke-width="0.06" transform="rotate(-90 219.30 197.20)">Gleason Score, GSE70768</text>
<text x="306.85" y="164.90" font-size="9.8" fill="#000" stroke="#000" stroke-width="0.45" font-weight="bold" textLength="4.10" lengthAdjust="spacingAndGlyphs">L</text>
<line x1="333.30" y1="166.90" x2="333.30" y2="224.30" stroke="#333" stroke-width="0.5" />
<line x1="332.10" y1="169.20" x2="333.30" y2="169.20" stroke="#333" stroke-width="0.4" />
<text x="331.50" y="170.49" font-size="3.7" text-anchor="end" fill="#333" font-weight="normal"  stroke="#333" stroke-width="0.06">10</text>
<line x1="332.10" y1="182.40" x2="333.30" y2="182.40" stroke="#333" stroke-width="0.4" />
<text x="331.50" y="183.69" font-size="3.7" text-anchor="end" fill="#333" font-weight="normal"  stroke="#333" stroke-width="0.06">9</text>
<line x1="332.10" y1="195.50" x2="333.30" y2="195.50" stroke="#333" stroke-width="0.4" />
<text x="331.50" y="196.79" font-size="3.7" text-anchor="end" fill="#333" font-weight="normal"  stroke="#333" stroke-width="0.06">8</text>
<line x1="332.10" y1="208.70" x2="333.30" y2="208.70" stroke="#333" stroke-width="0.4" />
<text x="331.50" y="209.99" font-size="3.7" text-anchor="end" fill="#333" font-weight="normal"  stroke="#333" stroke-width="0.06">7</text>
<line x1="332.10" y1="222.00" x2="333.30" y2="222.00" stroke="#333" stroke-width="0.4" />
<text x="331.50" y="223.29" font-size="3.7" text-anchor="end" fill="#333" font-weight="normal"  stroke="#333" stroke-width="0.06">6</text>
<line x1="333.30" y1="224.30" x2="399.00" y2="224.30" stroke="#333" stroke-width="0.5" />
<line x1="351.70" y1="224.30" x2="351.70" y2="225.50" stroke="#333" stroke-width="0.4" />
<line x1="381.20" y1="224.30" x2="381.20" y2="225.50" stroke="#333" stroke-width="0.4" />
<text x="351.70" y="229.80" font-size="3.9" text-anchor="middle" fill="#222" font-weight="normal"  stroke="#222" stroke-width="0.06">Cand1<tspan font-size="2.7" dy="-1.2">hi</tspan></text>
<text x="381.20" y="229.80" font-size="3.9" text-anchor="middle" fill="#222" font-weight="normal"  stroke="#222" stroke-width="0.06">Cand1<tspan font-size="2.7" dy="-1.2">lo</tspan></text>
<line x1="351.60" y1="165.10" x2="379.70" y2="165.10" stroke="#444" stroke-width="0.5" />
<text x="365.30" y="163.50" font-size="4.4" text-anchor="middle" fill="#222" font-weight="normal"  textLength="18.20" lengthAdjust="spacingAndGlyphs" stroke="#222" stroke-width="0.06">p = 0.0049</text>
<line x1="351.00" y1="169.30" x2="351.00" y2="182.40" stroke="#444" stroke-width="0.5" />
<line x1="351.00" y1="208.70" x2="351.00" y2="222.10" stroke="#444" stroke-width="0.5" />
<rect x="339.60" y="182.40" width="22.80" height="26.30" fill="#f9d3d6" stroke="#444" stroke-width="0.5" />
<line x1="339.60" y1="208.70" x2="362.40" y2="208.70" stroke="#444" stroke-width="0.9" />
<circle cx="347.00" cy="169.30" r="1.10" fill="#c00000" stroke="#700000" stroke-width="0.3"/>
<circle cx="354.70" cy="169.30" r="1.10" fill="#c00000" stroke="#700000" stroke-width="0.3"/>
<circle cx="347.00" cy="182.40" r="1.25" fill="#b00000" stroke="#4a0000" stroke-width="0.3"/>
<circle cx="348.43" cy="182.40" r="1.25" fill="#b00000" stroke="#4a0000" stroke-width="0.3"/>
<circle cx="349.87" cy="182.40" r="1.25" fill="#b00000" stroke="#4a0000" stroke-width="0.3"/>
<circle cx="351.30" cy="182.40" r="1.25" fill="#b00000" stroke="#4a0000" stroke-width="0.3"/>
<circle cx="352.73" cy="182.40" r="1.25" fill="#b00000" stroke="#4a0000" stroke-width="0.3"/>
<circle cx="354.17" cy="182.40" r="1.25" fill="#b00000" stroke="#4a0000" stroke-width="0.3"/>
<circle cx="355.60" cy="182.40" r="1.25" fill="#b00000" stroke="#4a0000" stroke-width="0.3"/>
<circle cx="347.00" cy="195.40" r="1.25" fill="#b00000" stroke="#4a0000" stroke-width="0.3"/>
<circle cx="348.43" cy="195.40" r="1.25" fill="#b00000" stroke="#4a0000" stroke-width="0.3"/>
<circle cx="349.87" cy="195.40" r="1.25" fill="#b00000" stroke="#4a0000" stroke-width="0.3"/>
<circle cx="351.30" cy="195.40" r="1.25" fill="#b00000" stroke="#4a0000" stroke-width="0.3"/>
<circle cx="352.73" cy="195.40" r="1.25" fill="#b00000" stroke="#4a0000" stroke-width="0.3"/>
<circle cx="354.17" cy="195.40" r="1.25" fill="#b00000" stroke="#4a0000" stroke-width="0.3"/>
<circle cx="355.60" cy="195.40" r="1.25" fill="#b00000" stroke="#4a0000" stroke-width="0.3"/>
<circle cx="347.00" cy="208.70" r="1.25" fill="#b00000" stroke="#4a0000" stroke-width="0.3"/>
<circle cx="348.43" cy="208.70" r="1.25" fill="#b00000" stroke="#4a0000" stroke-width="0.3"/>
<circle cx="349.87" cy="208.70" r="1.25" fill="#b00000" stroke="#4a0000" stroke-width="0.3"/>
<circle cx="351.30" cy="208.70" r="1.25" fill="#b00000" stroke="#4a0000" stroke-width="0.3"/>
<circle cx="352.73" cy="208.70" r="1.25" fill="#b00000" stroke="#4a0000" stroke-width="0.3"/>
<circle cx="354.17" cy="208.70" r="1.25" fill="#b00000" stroke="#4a0000" stroke-width="0.3"/>
<circle cx="355.60" cy="208.70" r="1.25" fill="#b00000" stroke="#4a0000" stroke-width="0.3"/>
<circle cx="347.00" cy="222.10" r="1.25" fill="#b00000" stroke="#4a0000" stroke-width="0.3"/>
<circle cx="348.43" cy="222.10" r="1.25" fill="#b00000" stroke="#4a0000" stroke-width="0.3"/>
<circle cx="349.87" cy="222.10" r="1.25" fill="#b00000" stroke="#4a0000" stroke-width="0.3"/>
<circle cx="351.30" cy="222.10" r="1.25" fill="#b00000" stroke="#4a0000" stroke-width="0.3"/>
<circle cx="352.73" cy="222.10" r="1.25" fill="#b00000" stroke="#4a0000" stroke-width="0.3"/>
<circle cx="354.17" cy="222.10" r="1.25" fill="#b00000" stroke="#4a0000" stroke-width="0.3"/>
<circle cx="355.60" cy="222.10" r="1.25" fill="#b00000" stroke="#4a0000" stroke-width="0.3"/>
<line x1="380.70" y1="182.40" x2="380.70" y2="195.30" stroke="#444" stroke-width="0.5" />
<line x1="380.70" y1="208.70" x2="380.70" y2="222.10" stroke="#444" stroke-width="0.5" />
<rect x="369.90" y="195.30" width="21.60" height="13.40" fill="#d2d2f6" stroke="#444" stroke-width="0.5" />
<line x1="369.90" y1="208.70" x2="391.50" y2="208.70" stroke="#444" stroke-width="0.9" />
<circle cx="382.80" cy="169.30" r="1.00" fill="#0000cc" stroke="#000070" stroke-width="0.3"/>
<circle cx="376.00" cy="182.40" r="1.25" fill="#0a0aa0" stroke="#000070" stroke-width="0.3"/>
<circle cx="377.53" cy="182.40" r="1.25" fill="#0a0aa0" stroke="#000070" stroke-width="0.3"/>
<circle cx="379.07" cy="182.40" r="1.25" fill="#0a0aa0" stroke="#000070" stroke-width="0.3"/>
<circle cx="380.60" cy="182.40" r="1.25" fill="#0a0aa0" stroke="#000070" stroke-width="0.3"/>
<circle cx="382.13" cy="182.40" r="1.25" fill="#0a0aa0" stroke="#000070" stroke-width="0.3"/>
<circle cx="383.67" cy="182.40" r="1.25" fill="#0a0aa0" stroke="#000070" stroke-width="0.3"/>
<circle cx="385.20" cy="182.40" r="1.25" fill="#0a0aa0" stroke="#000070" stroke-width="0.3"/>
<circle cx="376.00" cy="195.40" r="1.25" fill="#0a0aa0" stroke="#000070" stroke-width="0.3"/>
<circle cx="377.53" cy="195.40" r="1.25" fill="#0a0aa0" stroke="#000070" stroke-width="0.3"/>
<circle cx="379.07" cy="195.40" r="1.25" fill="#0a0aa0" stroke="#000070" stroke-width="0.3"/>
<circle cx="380.60" cy="195.40" r="1.25" fill="#0a0aa0" stroke="#000070" stroke-width="0.3"/>
<circle cx="382.13" cy="195.40" r="1.25" fill="#0a0aa0" stroke="#000070" stroke-width="0.3"/>
<circle cx="383.67" cy="195.40" r="1.25" fill="#0a0aa0" stroke="#000070" stroke-width="0.3"/>
<circle cx="385.20" cy="195.40" r="1.25" fill="#0a0aa0" stroke="#000070" stroke-width="0.3"/>
<circle cx="376.00" cy="208.70" r="1.25" fill="#0a0aa0" stroke="#000070" stroke-width="0.3"/>
<circle cx="377.53" cy="208.70" r="1.25" fill="#0a0aa0" stroke="#000070" stroke-width="0.3"/>
<circle cx="379.07" cy="208.70" r="1.25" fill="#0a0aa0" stroke="#000070" stroke-width="0.3"/>
<circle cx="380.60" cy="208.70" r="1.25" fill="#0a0aa0" stroke="#000070" stroke-width="0.3"/>
<circle cx="382.13" cy="208.70" r="1.25" fill="#0a0aa0" stroke="#000070" stroke-width="0.3"/>
<circle cx="383.67" cy="208.70" r="1.25" fill="#0a0aa0" stroke="#000070" stroke-width="0.3"/>
<circle cx="385.20" cy="208.70" r="1.25" fill="#0a0aa0" stroke="#000070" stroke-width="0.3"/>
<circle cx="376.00" cy="222.10" r="1.25" fill="#0a0aa0" stroke="#000070" stroke-width="0.3"/>
<circle cx="377.53" cy="222.10" r="1.25" fill="#0a0aa0" stroke="#000070" stroke-width="0.3"/>
<circle cx="379.07" cy="222.10" r="1.25" fill="#0a0aa0" stroke="#000070" stroke-width="0.3"/>
<circle cx="380.60" cy="222.10" r="1.25" fill="#0a0aa0" stroke="#000070" stroke-width="0.3"/>
<circle cx="382.13" cy="222.10" r="1.25" fill="#0a0aa0" stroke="#000070" stroke-width="0.3"/>
<circle cx="383.67" cy="222.10" r="1.25" fill="#0a0aa0" stroke="#000070" stroke-width="0.3"/>
<circle cx="385.20" cy="222.10" r="1.25" fill="#0a0aa0" stroke="#000070" stroke-width="0.3"/>
<text x="323.90" y="196.15" font-size="3.9" text-anchor="middle" fill="#222" textLength="36.50" lengthAdjust="spacingAndGlyphs" stroke="#222" stroke-width="0.06" transform="rotate(-90 323.90 196.15)">Gleason score, TCGA</text>
<text x="9.95" y="241.00" font-size="9.8" fill="#000" stroke="#000" stroke-width="0.45" font-weight="bold" textLength="8.90" lengthAdjust="spacingAndGlyphs">M</text>
<line x1="28.20" y1="236.70" x2="28.20" y2="277.80" stroke="#333" stroke-width="0.45" />
<line x1="27.30" y1="237.90" x2="28.20" y2="237.90" stroke="#333" stroke-width="0.4" />
<text x="26.70" y="238.81" font-size="2.6" text-anchor="end" fill="#333" font-weight="normal"  stroke="#333" stroke-width="0.06">1.00</text>
<line x1="27.30" y1="247.00" x2="28.20" y2="247.00" stroke="#333" stroke-width="0.4" />
<text x="26.70" y="247.91" font-size="2.6" text-anchor="end" fill="#333" font-weight="normal"  stroke="#333" stroke-width="0.06">0.75</text>
<line x1="27.30" y1="256.50" x2="28.20" y2="256.50" stroke="#333" stroke-width="0.4" />
<text x="26.70" y="257.41" font-size="2.6" text-anchor="end" fill="#333" font-weight="normal"  stroke="#333" stroke-width="0.06">0.50</text>
<line x1="27.30" y1="265.90" x2="28.20" y2="265.90" stroke="#333" stroke-width="0.4" />
<text x="26.70" y="266.81" font-size="2.6" text-anchor="end" fill="#333" font-weight="normal"  stroke="#333" stroke-width="0.06">0.25</text>
<line x1="27.30" y1="275.20" x2="28.20" y2="275.20" stroke="#333" stroke-width="0.4" />
<text x="26.70" y="276.11" font-size="2.6" text-anchor="end" fill="#333" font-weight="normal"  stroke="#333" stroke-width="0.06">0.00</text>
<line x1="28.20" y1="277.80" x2="94.20" y2="277.80" stroke="#333" stroke-width="0.45" />
<line x1="31.10" y1="277.80" x2="31.10" y2="278.70" stroke="#333" stroke-width="0.4" />
<text x="31.10" y="281.20" font-size="2.6" text-anchor="middle" fill="#333" font-weight="normal"  stroke="#333" stroke-width="0.06">0</text>
<line x1="46.10" y1="277.80" x2="46.10" y2="278.70" stroke="#333" stroke-width="0.4" />
<text x="46.10" y="281.20" font-size="2.6" text-anchor="middle" fill="#333" font-weight="normal"  stroke="#333" stroke-width="0.06">25</text>
<line x1="61.50" y1="277.80" x2="61.50" y2="278.70" stroke="#333" stroke-width="0.4" />
<text x="61.50" y="281.20" font-size="2.6" text-anchor="middle" fill="#333" font-weight="normal"  stroke="#333" stroke-width="0.06">50</text>
<line x1="76.80" y1="277.80" x2="76.80" y2="278.70" stroke="#333" stroke-width="0.4" />
<text x="76.80" y="281.20" font-size="2.6" text-anchor="middle" fill="#333" font-weight="normal"  stroke="#333" stroke-width="0.06">75</text>
<line x1="91.20" y1="277.80" x2="91.20" y2="278.70" stroke="#333" stroke-width="0.4" />
<text x="91.20" y="281.20" font-size="2.6" text-anchor="middle" fill="#333" font-weight="normal"  stroke="#333" stroke-width="0.06">100</text>
<text x="61.15" y="283.40" font-size="2.6" text-anchor="middle" fill="#222" font-weight="normal"  stroke="#222" stroke-width="0.06">bRFS, months</text>
<polyline points="31.10,237.90 32.00,237.90 32.00,241.30 33.60,241.30 33.60,242.50 35.30,242.50 35.30,242.83 37.00,242.83 37.00,243.17 38.70,243.17 38.70,243.50 40.50,243.50 40.50,243.75 42.30,243.75 42.30,244.00 44.15,244.00 44.15,244.50 46.00,244.50 46.00,245.00 48.00,245.00 48.00,245.75 50.00,245.75 50.00,246.50 53.00,246.50 53.00,248.20 55.70,248.20 55.70,250.20 58.00,250.20 58.00,250.90 59.75,250.90 59.75,251.20 61.50,251.20 61.50,251.50 63.75,251.50 63.75,251.85 66.00,251.85 66.00,252.20 67.67,252.20 67.67,252.47 69.33,252.47 69.33,252.73 71.00,252.73 71.00,253.00 72.68,253.00 72.68,253.00 74.37,253.00 74.37,253.00 76.05,253.00 76.05,253.00 77.73,253.00 77.73,253.00 79.42,253.00 79.42,253.00 81.10,253.00 81.10,253.00 82.78,253.00 82.78,253.00 84.47,253.00 84.47,253.00 86.15,253.00 86.15,253.00 87.83,253.00 87.83,253.00 89.52,253.00 89.52,253.00 91.20,253.00 91.20,253.00 91.20,275.10" fill="none" stroke="#1a1aff" stroke-width="1.2" stroke-linejoin="round"/>
<line x1="39.97" y1="242.50" x2="39.97" y2="244.50" stroke="#1a1aff" stroke-width="0.6" />
<line x1="81.76" y1="252.00" x2="81.76" y2="254.00" stroke="#1a1aff" stroke-width="0.6" />
<line x1="76.86" y1="252.00" x2="76.86" y2="254.00" stroke="#1a1aff" stroke-width="0.6" />
<line x1="47.05" y1="244.00" x2="47.05" y2="246.00" stroke="#1a1aff" stroke-width="0.6" />
<line x1="61.13" y1="250.20" x2="61.13" y2="252.20" stroke="#1a1aff" stroke-width="0.6" />
<line x1="58.44" y1="249.90" x2="58.44" y2="251.90" stroke="#1a1aff" stroke-width="0.6" />
<line x1="70.28" y1="251.73" x2="70.28" y2="253.73" stroke="#1a1aff" stroke-width="0.6" />
<line x1="78.32" y1="252.00" x2="78.32" y2="254.00" stroke="#1a1aff" stroke-width="0.6" />
<line x1="37.60" y1="242.17" x2="37.60" y2="244.17" stroke="#1a1aff" stroke-width="0.6" />
<line x1="33.76" y1="241.50" x2="33.76" y2="243.50" stroke="#1a1aff" stroke-width="0.6" />
<line x1="81.08" y1="252.00" x2="81.08" y2="254.00" stroke="#1a1aff" stroke-width="0.6" />
<line x1="57.46" y1="249.20" x2="57.46" y2="251.20" stroke="#1a1aff" stroke-width="0.6" />
<line x1="76.77" y1="252.00" x2="76.77" y2="254.00" stroke="#1a1aff" stroke-width="0.6" />
<line x1="32.22" y1="240.30" x2="32.22" y2="242.30" stroke="#1a1aff" stroke-width="0.6" />
<line x1="58.20" y1="249.90" x2="58.20" y2="251.90" stroke="#1a1aff" stroke-width="0.6" />
<line x1="74.38" y1="252.00" x2="74.38" y2="254.00" stroke="#1a1aff" stroke-width="0.6" />
<line x1="45.51" y1="243.50" x2="45.51" y2="245.50" stroke="#1a1aff" stroke-width="0.6" />
<line x1="87.49" y1="252.00" x2="87.49" y2="254.00" stroke="#1a1aff" stroke-width="0.6" />
<line x1="84.92" y1="252.00" x2="84.92" y2="254.00" stroke="#1a1aff" stroke-width="0.6" />
<line x1="33.89" y1="241.50" x2="33.89" y2="243.50" stroke="#1a1aff" stroke-width="0.6" />
<line x1="33.59" y1="240.30" x2="33.59" y2="242.30" stroke="#1a1aff" stroke-width="0.6" />
<line x1="63.83" y1="250.85" x2="63.83" y2="252.85" stroke="#1a1aff" stroke-width="0.6" />
<line x1="87.13" y1="252.00" x2="87.13" y2="254.00" stroke="#1a1aff" stroke-width="0.6" />
<line x1="54.44" y1="247.20" x2="54.44" y2="249.20" stroke="#1a1aff" stroke-width="0.6" />
<line x1="44.79" y1="243.50" x2="44.79" y2="245.50" stroke="#1a1aff" stroke-width="0.6" />
<line x1="56.84" y1="249.20" x2="56.84" y2="251.20" stroke="#1a1aff" stroke-width="0.6" />
<polyline points="31.10,237.90 31.60,237.90 31.60,248.10 33.40,248.10 33.40,248.10 35.20,248.10 35.20,248.10 37.00,248.10 37.00,248.10 38.70,248.10 38.70,249.30 40.85,249.30 40.85,249.55 43.00,249.55 43.00,249.80 44.70,249.80 44.70,251.05 46.40,251.05 46.40,252.30 48.05,252.30 48.05,253.15 49.70,253.15 49.70,254.00 51.40,254.00 51.40,254.45 53.10,254.45 53.10,254.90 55.70,254.90 55.70,256.50 57.85,256.50 57.85,256.90 60.00,256.90 60.00,257.30 61.70,257.30 61.70,258.05 63.40,258.05 63.40,258.80 65.43,258.80 65.43,258.87 67.47,258.87 67.47,258.93 69.50,258.93 69.50,259.00 70.10,259.00 70.10,262.20 71.70,262.20 71.70,262.20 73.30,262.20 73.30,262.20 74.90,262.20 74.90,262.20 76.50,262.20 76.50,262.20 78.10,262.20 78.10,262.20 79.70,262.20 79.70,262.20 81.30,262.20 81.30,262.20 82.90,262.20 82.90,262.20 84.50,262.20 84.50,262.20 86.10,262.20 86.10,262.20 87.70,262.20 87.70,262.20 89.30,262.20 89.30,262.20 90.90,262.20 90.90,262.20 92.50,262.20 92.50,262.20 94.10,262.20 94.10,262.20" fill="none" stroke="#ff1a1a" stroke-width="1.2" stroke-linejoin="round"/>
<line x1="90.90" y1="261.20" x2="90.90" y2="263.20" stroke="#ff1a1a" stroke-width="0.6" />
<line x1="90.39" y1="261.20" x2="90.39" y2="263.20" stroke="#ff1a1a" stroke-width="0.6" />
<line x1="35.58" y1="247.10" x2="35.58" y2="249.10" stroke="#ff1a1a" stroke-width="0.6" />
<line x1="37.32" y1="247.10" x2="37.32" y2="249.10" stroke="#ff1a1a" stroke-width="0.6" />
<line x1="83.48" y1="261.20" x2="83.48" y2="263.20" stroke="#ff1a1a" stroke-width="0.6" />
<line x1="77.36" y1="261.20" x2="77.36" y2="263.20" stroke="#ff1a1a" stroke-width="0.6" />
<line x1="73.29" y1="261.20" x2="73.29" y2="263.20" stroke="#ff1a1a" stroke-width="0.6" />
<line x1="51.05" y1="253.00" x2="51.05" y2="255.00" stroke="#ff1a1a" stroke-width="0.6" />
<line x1="69.37" y1="257.93" x2="69.37" y2="259.93" stroke="#ff1a1a" stroke-width="0.6" />
<line x1="69.42" y1="257.93" x2="69.42" y2="259.93" stroke="#ff1a1a" stroke-width="0.6" />
<line x1="67.84" y1="257.93" x2="67.84" y2="259.93" stroke="#ff1a1a" stroke-width="0.6" />
<line x1="41.84" y1="248.55" x2="41.84" y2="250.55" stroke="#ff1a1a" stroke-width="0.6" />
<line x1="58.59" y1="255.90" x2="58.59" y2="257.90" stroke="#ff1a1a" stroke-width="0.6" />
<line x1="56.30" y1="255.50" x2="56.30" y2="257.50" stroke="#ff1a1a" stroke-width="0.6" />
<line x1="76.57" y1="261.20" x2="76.57" y2="263.20" stroke="#ff1a1a" stroke-width="0.6" />
<line x1="93.28" y1="261.20" x2="93.28" y2="263.20" stroke="#ff1a1a" stroke-width="0.6" />
<line x1="51.50" y1="237.60" x2="54.80" y2="237.60" stroke="#1a1aff" stroke-width="1.1" />
<text x="55.60" y="238.40" font-size="2.3" text-anchor="start" fill="#222" font-weight="normal"  stroke="#222" stroke-width="0.06">Cand1<tspan font-size="2.4" dy="-1.2">lo</tspan></text>
<line x1="69.80" y1="237.60" x2="73.10" y2="237.60" stroke="#ff1a1a" stroke-width="1.1" />
<text x="73.90" y="238.40" font-size="2.3" text-anchor="start" fill="#222" font-weight="normal"  stroke="#222" stroke-width="0.06">Cand1<tspan font-size="2.4" dy="-1.2">hi</tspan></text>
<text x="32.80" y="267.40" font-size="1.95" text-anchor="start" fill="#222" font-weight="normal"  stroke="#222" stroke-width="0.06">+ Marked Censored</text>
<text x="32.80" y="271.30" font-size="1.95" text-anchor="start" fill="#222" font-weight="normal"  stroke="#222" stroke-width="0.06">+ Wilcoxon</text>
<text x="20.13" y="257.30" font-size="2.3" text-anchor="middle" fill="#222" textLength="17.80" lengthAdjust="spacingAndGlyphs" stroke="#222" stroke-width="0.06" transform="rotate(-90 20.13 257.30)">Survival probability</text>
<text x="27.80" y="289.40" font-size="2.5" text-anchor="start" fill="#555" font-weight="normal"  stroke="#555" stroke-width="0.06">Number at risk</text>
<text x="25.50" y="294.70" font-size="2.4" text-anchor="end" fill="#4040ff" font-weight="normal"  stroke="#4040ff" stroke-width="0.06">Cand1<tspan font-size="2.4" dy="-1.2">lo</tspan></text>
<text x="25.50" y="297.70" font-size="2.4" text-anchor="end" fill="#ff4040" font-weight="normal"  stroke="#ff4040" stroke-width="0.06">Cand1<tspan font-size="2.4" dy="-1.2">hi</tspan></text>
<line x1="27.70" y1="292.20" x2="27.70" y2="298.20" stroke="#666" stroke-width="0.5" />
<text x="30.80" y="294.70" font-size="2.5" text-anchor="middle" fill="#555" font-weight="normal"  stroke="#555" stroke-width="0.06">81</text>
<text x="30.80" y="297.70" font-size="2.5" text-anchor="middle" fill="#555" font-weight="normal"  stroke="#555" stroke-width="0.06">28</text>
<text x="46.40" y="294.70" font-size="2.5" text-anchor="middle" fill="#555" font-weight="normal"  stroke="#555" stroke-width="0.06">60</text>
<text x="46.40" y="297.70" font-size="2.5" text-anchor="middle" fill="#555" font-weight="normal"  stroke="#555" stroke-width="0.06">13</text>
<text x="61.80" y="294.70" font-size="2.5" text-anchor="middle" fill="#555" font-weight="normal"  stroke="#555" stroke-width="0.06">37</text>
<text x="61.80" y="297.70" font-size="2.5" text-anchor="middle" fill="#555" font-weight="normal"  stroke="#555" stroke-width="0.06">11</text>
<text x="77.30" y="294.70" font-size="2.5" text-anchor="middle" fill="#555" font-weight="normal"  stroke="#555" stroke-width="0.06">20</text>
<text x="77.30" y="297.70" font-size="2.5" text-anchor="middle" fill="#555" font-weight="normal"  stroke="#555" stroke-width="0.06">5</text>
<text x="92.70" y="294.70" font-size="2.5" text-anchor="middle" fill="#555" font-weight="normal"  stroke="#555" stroke-width="0.06">4</text>
<text x="92.70" y="297.70" font-size="2.5" text-anchor="middle" fill="#555" font-weight="normal"  stroke="#555" stroke-width="0.06">2</text>
<line x1="27.80" y1="298.30" x2="93.00" y2="298.30" stroke="#666" stroke-width="0.8" />
<line x1="30.80" y1="298.30" x2="30.80" y2="299.10" stroke="#666" stroke-width="0.4" />
<text x="30.80" y="301.30" font-size="2.5" text-anchor="middle" fill="#555" font-weight="normal"  stroke="#555" stroke-width="0.06">0</text>
<line x1="46.40" y1="298.30" x2="46.40" y2="299.10" stroke="#666" stroke-width="0.4" />
<text x="46.40" y="301.30" font-size="2.5" text-anchor="middle" fill="#555" font-weight="normal"  stroke="#555" stroke-width="0.06">25</text>
<line x1="61.80" y1="298.30" x2="61.80" y2="299.10" stroke="#666" stroke-width="0.4" />
<text x="61.80" y="301.30" font-size="2.5" text-anchor="middle" fill="#555" font-weight="normal"  stroke="#555" stroke-width="0.06">50</text>
<line x1="77.30" y1="298.30" x2="77.30" y2="299.10" stroke="#666" stroke-width="0.4" />
<text x="77.30" y="301.30" font-size="2.5" text-anchor="middle" fill="#555" font-weight="normal"  stroke="#555" stroke-width="0.06">75</text>
<line x1="92.70" y1="298.30" x2="92.70" y2="299.10" stroke="#666" stroke-width="0.4" />
<text x="92.70" y="301.30" font-size="2.5" text-anchor="middle" fill="#555" font-weight="normal"  stroke="#555" stroke-width="0.06">100</text>
<text x="61.75" y="304.90" font-size="2.6" text-anchor="middle" fill="#555" font-weight="normal"  stroke="#555" stroke-width="0.06">bRFS, months</text>
<text x="109.25" y="240.60" font-size="9.8" fill="#000" stroke="#000" stroke-width="0.45" font-weight="bold" textLength="5.60" lengthAdjust="spacingAndGlyphs">N</text>
<line x1="129.40" y1="236.50" x2="129.40" y2="279.20" stroke="#333" stroke-width="0.45" />
<line x1="128.50" y1="239.40" x2="129.40" y2="239.40" stroke="#333" stroke-width="0.4" />
<text x="127.90" y="240.31" font-size="2.6" text-anchor="end" fill="#333" font-weight="normal"  stroke="#333" stroke-width="0.06">1.00</text>
<line x1="128.50" y1="248.30" x2="129.40" y2="248.30" stroke="#333" stroke-width="0.4" />
<text x="127.90" y="249.21" font-size="2.6" text-anchor="end" fill="#333" font-weight="normal"  stroke="#333" stroke-width="0.06">0.75</text>
<line x1="128.50" y1="257.90" x2="129.40" y2="257.90" stroke="#333" stroke-width="0.4" />
<text x="127.90" y="258.81" font-size="2.6" text-anchor="end" fill="#333" font-weight="normal"  stroke="#333" stroke-width="0.06">0.50</text>
<line x1="128.50" y1="267.20" x2="129.40" y2="267.20" stroke="#333" stroke-width="0.4" />
<text x="127.90" y="268.11" font-size="2.6" text-anchor="end" fill="#333" font-weight="normal"  stroke="#333" stroke-width="0.06">0.25</text>
<line x1="128.50" y1="276.40" x2="129.40" y2="276.40" stroke="#333" stroke-width="0.4" />
<text x="127.90" y="277.31" font-size="2.6" text-anchor="end" fill="#333" font-weight="normal"  stroke="#333" stroke-width="0.06">0.00</text>
<line x1="129.40" y1="279.20" x2="196.70" y2="279.20" stroke="#333" stroke-width="0.45" />
<line x1="132.60" y1="279.20" x2="132.60" y2="280.10" stroke="#333" stroke-width="0.4" />
<text x="132.60" y="282.60" font-size="2.6" text-anchor="middle" fill="#333" font-weight="normal"  stroke="#333" stroke-width="0.06">0</text>
<line x1="153.00" y1="279.20" x2="153.00" y2="280.10" stroke="#333" stroke-width="0.4" />
<text x="153.00" y="282.60" font-size="2.6" text-anchor="middle" fill="#333" font-weight="normal"  stroke="#333" stroke-width="0.06">100</text>
<line x1="173.30" y1="279.20" x2="173.30" y2="280.10" stroke="#333" stroke-width="0.4" />
<text x="173.30" y="282.60" font-size="2.6" text-anchor="middle" fill="#333" font-weight="normal"  stroke="#333" stroke-width="0.06">200</text>
<line x1="193.70" y1="279.20" x2="193.70" y2="280.10" stroke="#333" stroke-width="0.4" />
<text x="193.70" y="282.60" font-size="2.6" text-anchor="middle" fill="#333" font-weight="normal"  stroke="#333" stroke-width="0.06">300</text>
<text x="163.15" y="284.60" font-size="2.6" text-anchor="middle" fill="#222" font-weight="normal"  stroke="#222" stroke-width="0.06">OS, months</text>
<polyline points="132.60,239.40 134.13,239.40 134.13,239.70 135.67,239.70 135.67,240.00 137.20,240.00 137.20,240.30 138.60,240.30 138.60,241.70 140.00,241.70 140.00,243.10 141.40,243.10 141.40,244.50 142.80,244.50 142.80,245.90 144.18,245.90 144.18,247.05 145.55,247.05 145.55,248.20 146.93,248.20 146.93,249.35 148.30,249.35 148.30,250.50 149.70,250.50 149.70,251.20 151.10,251.20 151.10,251.90 152.50,251.90 152.50,252.60 153.90,252.60 153.90,253.30 155.13,253.30 155.13,254.38 156.37,254.38 156.37,255.47 157.60,255.47 157.60,256.55 158.83,256.55 158.83,257.63 160.07,257.63 160.07,258.72 161.30,258.72 161.30,259.80 162.70,259.80 162.70,261.18 164.10,261.18 164.10,262.55 165.50,262.55 165.50,263.93 166.90,263.93 166.90,265.30 168.13,265.30 168.13,266.53 169.37,266.53 169.37,267.77 170.60,267.77 170.60,269.00 171.83,269.00 171.83,269.63 173.07,269.63 173.07,270.27 174.30,270.27 174.30,270.90 175.83,270.90 175.83,270.90 177.37,270.90 177.37,270.90 178.90,270.90 178.90,270.90 180.20,270.90 180.20,271.08 181.50,271.08 181.50,271.26 182.80,271.26 182.80,271.44 184.10,271.44 184.10,271.62 185.40,271.62 185.40,271.80 186.63,271.80 186.63,272.00 187.87,272.00 187.87,272.20 189.10,272.20 189.10,272.40 189.10,276.40" fill="none" stroke="#1a1aff" stroke-width="1.35" stroke-linejoin="round"/>
<line x1="146.69" y1="247.20" x2="146.69" y2="249.20" stroke="#1a1aff" stroke-width="0.6" />
<line x1="163.53" y1="260.18" x2="163.53" y2="262.18" stroke="#1a1aff" stroke-width="0.6" />
<line x1="153.95" y1="252.30" x2="153.95" y2="254.30" stroke="#1a1aff" stroke-width="0.6" />
<line x1="166.82" y1="262.93" x2="166.82" y2="264.93" stroke="#1a1aff" stroke-width="0.6" />
<line x1="168.01" y1="264.30" x2="168.01" y2="266.30" stroke="#1a1aff" stroke-width="0.6" />
<line x1="137.20" y1="239.30" x2="137.20" y2="241.30" stroke="#1a1aff" stroke-width="0.6" />
<line x1="134.32" y1="238.70" x2="134.32" y2="240.70" stroke="#1a1aff" stroke-width="0.6" />
<line x1="179.66" y1="269.90" x2="179.66" y2="271.90" stroke="#1a1aff" stroke-width="0.6" />
<line x1="147.86" y1="248.35" x2="147.86" y2="250.35" stroke="#1a1aff" stroke-width="0.6" />
<line x1="146.49" y1="247.20" x2="146.49" y2="249.20" stroke="#1a1aff" stroke-width="0.6" />
<line x1="188.36" y1="271.20" x2="188.36" y2="273.20" stroke="#1a1aff" stroke-width="0.6" />
<line x1="159.46" y1="256.63" x2="159.46" y2="258.63" stroke="#1a1aff" stroke-width="0.6" />
<line x1="179.61" y1="269.90" x2="179.61" y2="271.90" stroke="#1a1aff" stroke-width="0.6" />
<line x1="159.80" y1="256.63" x2="159.80" y2="258.63" stroke="#1a1aff" stroke-width="0.6" />
<polyline points="132.60,239.40 133.83,239.40 133.83,240.03 135.07,240.03 135.07,240.67 136.30,240.67 136.30,241.30 137.83,241.30 137.83,243.77 139.37,243.77 139.37,246.23 140.90,246.23 140.90,248.70 142.47,248.70 142.47,251.17 144.03,251.17 144.03,253.63 145.60,253.63 145.60,256.10 147.13,256.10 147.13,257.33 148.67,257.33 148.67,258.57 150.20,258.57 150.20,259.80 151.73,259.80 151.73,260.40 153.27,260.40 153.27,261.00 154.80,261.00 154.80,261.60 156.03,261.60 156.03,262.53 157.27,262.53 157.27,263.47 158.50,263.47 158.50,264.40 159.73,264.40 159.73,265.03 160.97,265.03 160.97,265.67 162.20,265.67 162.20,266.30 163.43,266.30 163.43,266.90 164.67,266.90 164.67,267.50 165.90,267.50 165.90,268.10 167.47,268.10 167.47,269.03 169.03,269.03 169.03,269.97 170.60,269.97 170.60,270.90 171.83,270.90 171.83,271.20 173.07,271.20 173.07,271.50 174.30,271.50 174.30,271.80 175.20,271.80 175.20,273.10" fill="none" stroke="#ff1a1a" stroke-width="1.35" stroke-linejoin="round"/>
<line x1="143.30" y1="250.17" x2="143.30" y2="252.17" stroke="#ff1a1a" stroke-width="0.6" />
<line x1="137.84" y1="242.77" x2="137.84" y2="244.77" stroke="#ff1a1a" stroke-width="0.6" />
<line x1="149.88" y1="257.57" x2="149.88" y2="259.57" stroke="#ff1a1a" stroke-width="0.6" />
<line x1="139.97" y1="245.23" x2="139.97" y2="247.23" stroke="#ff1a1a" stroke-width="0.6" />
<line x1="136.33" y1="240.30" x2="136.33" y2="242.30" stroke="#ff1a1a" stroke-width="0.6" />
<line x1="150.11" y1="257.57" x2="150.11" y2="259.57" stroke="#ff1a1a" stroke-width="0.6" />
<line x1="171.33" y1="269.90" x2="171.33" y2="271.90" stroke="#ff1a1a" stroke-width="0.6" />
<line x1="166.50" y1="267.10" x2="166.50" y2="269.10" stroke="#ff1a1a" stroke-width="0.6" />
<line x1="165.05" y1="266.50" x2="165.05" y2="268.50" stroke="#ff1a1a" stroke-width="0.6" />
<line x1="142.72" y1="250.17" x2="142.72" y2="252.17" stroke="#ff1a1a" stroke-width="0.6" />
<line x1="153.00" y1="238.50" x2="156.30" y2="238.50" stroke="#1a1aff" stroke-width="1.1" />
<text x="157.10" y="239.30" font-size="2.3" text-anchor="start" fill="#222" font-weight="normal"  stroke="#222" stroke-width="0.06">Cand1<tspan font-size="2.4" dy="-1.2">lo</tspan></text>
<line x1="171.30" y1="238.50" x2="174.60" y2="238.50" stroke="#ff1a1a" stroke-width="1.1" />
<text x="175.40" y="239.30" font-size="2.3" text-anchor="start" fill="#222" font-weight="normal"  stroke="#222" stroke-width="0.06">Cand1<tspan font-size="2.4" dy="-1.2">hi</tspan></text>
<text x="132.60" y="272.10" font-size="1.95" text-anchor="start" fill="#222" font-weight="normal"  stroke="#222" stroke-width="0.06">+ Marked Censored</text>
<text x="132.60" y="275.70" font-size="1.95" text-anchor="start" fill="#222" font-weight="normal"  stroke="#222" stroke-width="0.06">+ Wilcoxon</text>
<text x="122.33" y="257.80" font-size="2.3" text-anchor="middle" fill="#222" textLength="17.80" lengthAdjust="spacingAndGlyphs" stroke="#222" stroke-width="0.06" transform="rotate(-90 122.33 257.80)">Survival probability</text>
<text x="130.50" y="291.30" font-size="2.5" text-anchor="start" fill="#555" font-weight="normal"  stroke="#555" stroke-width="0.06">Number at risk</text>
<text x="128.20" y="295.50" font-size="2.4" text-anchor="end" fill="#4040ff" font-weight="normal"  stroke="#4040ff" stroke-width="0.06">Cand1<tspan font-size="2.4" dy="-1.2">lo</tspan></text>
<text x="128.20" y="298.70" font-size="2.4" text-anchor="end" fill="#ff4040" font-weight="normal"  stroke="#ff4040" stroke-width="0.06">Cand1<tspan font-size="2.4" dy="-1.2">hi</tspan></text>
<line x1="130.40" y1="293.00" x2="130.40" y2="299.20" stroke="#666" stroke-width="0.5" />
<text x="132.40" y="295.50" font-size="2.5" text-anchor="middle" fill="#555" font-weight="normal"  stroke="#555" stroke-width="0.06">127</text>
<text x="132.40" y="298.70" font-size="2.5" text-anchor="middle" fill="#555" font-weight="normal"  stroke="#555" stroke-width="0.06">128</text>
<text x="153.00" y="295.50" font-size="2.5" text-anchor="middle" fill="#555" font-weight="normal"  stroke="#555" stroke-width="0.06">108</text>
<text x="153.00" y="298.70" font-size="2.5" text-anchor="middle" fill="#555" font-weight="normal"  stroke="#555" stroke-width="0.06">84</text>
<text x="172.70" y="295.50" font-size="2.5" text-anchor="middle" fill="#555" font-weight="normal"  stroke="#555" stroke-width="0.06">8</text>
<text x="172.70" y="298.70" font-size="2.5" text-anchor="middle" fill="#555" font-weight="normal"  stroke="#555" stroke-width="0.06">2</text>
<text x="193.60" y="295.50" font-size="2.5" text-anchor="middle" fill="#555" font-weight="normal"  stroke="#555" stroke-width="0.06">0</text>
<text x="193.60" y="298.70" font-size="2.5" text-anchor="middle" fill="#555" font-weight="normal"  stroke="#555" stroke-width="0.06">0</text>
<line x1="129.40" y1="299.20" x2="194.00" y2="299.20" stroke="#666" stroke-width="0.8" />
<line x1="132.40" y1="299.20" x2="132.40" y2="300.00" stroke="#666" stroke-width="0.4" />
<text x="132.40" y="302.20" font-size="2.5" text-anchor="middle" fill="#555" font-weight="normal"  stroke="#555" stroke-width="0.06">0</text>
<line x1="153.00" y1="299.20" x2="153.00" y2="300.00" stroke="#666" stroke-width="0.4" />
<text x="153.00" y="302.20" font-size="2.5" text-anchor="middle" fill="#555" font-weight="normal"  stroke="#555" stroke-width="0.06">100</text>
<line x1="172.70" y1="299.20" x2="172.70" y2="300.00" stroke="#666" stroke-width="0.4" />
<text x="172.70" y="302.20" font-size="2.5" text-anchor="middle" fill="#555" font-weight="normal"  stroke="#555" stroke-width="0.06">200</text>
<line x1="193.60" y1="299.20" x2="193.60" y2="300.00" stroke="#666" stroke-width="0.4" />
<text x="193.60" y="302.20" font-size="2.5" text-anchor="middle" fill="#555" font-weight="normal"  stroke="#555" stroke-width="0.06">300</text>
<text x="163.00" y="306.00" font-size="2.6" text-anchor="middle" fill="#555" font-weight="normal"  stroke="#555" stroke-width="0.06">OS, months</text>
<text x="203.35" y="241.10" font-size="9.8" fill="#000" stroke="#000" stroke-width="0.45" font-weight="bold" textLength="6.30" lengthAdjust="spacingAndGlyphs">O</text>
<line x1="228.70" y1="239.20" x2="228.70" y2="280.30" stroke="#333" stroke-width="0.45" />
<line x1="227.80" y1="240.60" x2="228.70" y2="240.60" stroke="#333" stroke-width="0.4" />
<text x="227.20" y="241.51" font-size="2.6" text-anchor="end" fill="#333" font-weight="normal"  stroke="#333" stroke-width="0.06">1.00</text>
<line x1="227.80" y1="250.50" x2="228.70" y2="250.50" stroke="#333" stroke-width="0.4" />
<text x="227.20" y="251.41" font-size="2.6" text-anchor="end" fill="#333" font-weight="normal"  stroke="#333" stroke-width="0.06">0.75</text>
<line x1="227.80" y1="260.00" x2="228.70" y2="260.00" stroke="#333" stroke-width="0.4" />
<text x="227.20" y="260.91" font-size="2.6" text-anchor="end" fill="#333" font-weight="normal"  stroke="#333" stroke-width="0.06">0.50</text>
<line x1="227.80" y1="269.30" x2="228.70" y2="269.30" stroke="#333" stroke-width="0.4" />
<text x="227.20" y="270.21" font-size="2.6" text-anchor="end" fill="#333" font-weight="normal"  stroke="#333" stroke-width="0.06">0.25</text>
<line x1="227.80" y1="278.10" x2="228.70" y2="278.10" stroke="#333" stroke-width="0.4" />
<text x="227.20" y="279.01" font-size="2.6" text-anchor="end" fill="#333" font-weight="normal"  stroke="#333" stroke-width="0.06">0.00</text>
<line x1="228.70" y1="280.30" x2="293.90" y2="280.30" stroke="#333" stroke-width="0.45" />
<line x1="231.20" y1="280.30" x2="231.20" y2="281.20" stroke="#333" stroke-width="0.4" />
<text x="231.20" y="283.70" font-size="2.6" text-anchor="middle" fill="#333" font-weight="normal"  stroke="#333" stroke-width="0.06">0</text>
<line x1="251.00" y1="280.30" x2="251.00" y2="281.20" stroke="#333" stroke-width="0.4" />
<text x="251.00" y="283.70" font-size="2.6" text-anchor="middle" fill="#333" font-weight="normal"  stroke="#333" stroke-width="0.06">20</text>
<line x1="270.90" y1="280.30" x2="270.90" y2="281.20" stroke="#333" stroke-width="0.4" />
<text x="270.90" y="283.70" font-size="2.6" text-anchor="middle" fill="#333" font-weight="normal"  stroke="#333" stroke-width="0.06">40</text>
<line x1="290.90" y1="280.30" x2="290.90" y2="281.20" stroke="#333" stroke-width="0.4" />
<text x="290.90" y="283.70" font-size="2.6" text-anchor="middle" fill="#333" font-weight="normal"  stroke="#333" stroke-width="0.06">60</text>
<text x="261.05" y="286.90" font-size="2.6" text-anchor="middle" fill="#222" font-weight="normal"  stroke="#222" stroke-width="0.06">bRFS, months</text>
<polyline points="231.20,240.60 232.90,240.60 232.90,240.57 234.60,240.57 234.60,240.53 236.30,240.53 236.30,240.50 238.00,240.50 238.00,240.47 239.70,240.47 239.70,240.43 241.40,240.43 241.40,240.40 243.60,240.40 243.60,241.05 245.80,241.05 245.80,241.70 247.95,241.70 247.95,242.30 250.10,242.30 250.10,242.90 252.30,242.90 252.30,243.50 254.50,243.50 254.50,244.10 256.17,244.10 256.17,244.10 257.83,244.10 257.83,244.10 259.50,244.10 259.50,244.10 261.17,244.10 261.17,244.10 262.83,244.10 262.83,244.10 264.50,244.10 264.50,244.10 266.17,244.10 266.17,244.10 267.83,244.10 267.83,244.10 269.50,244.10 269.50,244.10 270.40,244.10 270.40,245.50 272.15,245.50 272.15,245.50 273.90,245.50 273.90,245.50 275.65,245.50 275.65,245.50 277.40,245.50 277.40,245.50 279.15,245.50 279.15,245.50 280.90,245.50 280.90,245.50 282.65,245.50 282.65,245.50 284.40,245.50 284.40,245.50 286.15,245.50 286.15,245.50 287.90,245.50 287.90,245.50 288.80,245.50 288.80,248.20 290.87,248.20 290.87,248.20 292.93,248.20 292.93,248.20 295.00,248.20 295.00,248.20" fill="none" stroke="#1a1aff" stroke-width="1.3" stroke-linejoin="round"/>
<line x1="271.01" y1="244.50" x2="271.01" y2="246.50" stroke="#1a1aff" stroke-width="0.6" />
<line x1="278.41" y1="244.50" x2="278.41" y2="246.50" stroke="#1a1aff" stroke-width="0.6" />
<line x1="281.74" y1="244.50" x2="281.74" y2="246.50" stroke="#1a1aff" stroke-width="0.6" />
<line x1="290.91" y1="247.20" x2="290.91" y2="249.20" stroke="#1a1aff" stroke-width="0.6" />
<line x1="278.30" y1="244.50" x2="278.30" y2="246.50" stroke="#1a1aff" stroke-width="0.6" />
<line x1="289.66" y1="247.20" x2="289.66" y2="249.20" stroke="#1a1aff" stroke-width="0.6" />
<line x1="234.01" y1="239.57" x2="234.01" y2="241.57" stroke="#1a1aff" stroke-width="0.6" />
<line x1="261.21" y1="243.10" x2="261.21" y2="245.10" stroke="#1a1aff" stroke-width="0.6" />
<line x1="290.97" y1="247.20" x2="290.97" y2="249.20" stroke="#1a1aff" stroke-width="0.6" />
<line x1="272.63" y1="244.50" x2="272.63" y2="246.50" stroke="#1a1aff" stroke-width="0.6" />
<line x1="288.33" y1="244.50" x2="288.33" y2="246.50" stroke="#1a1aff" stroke-width="0.6" />
<line x1="239.25" y1="239.47" x2="239.25" y2="241.47" stroke="#1a1aff" stroke-width="0.6" />
<line x1="261.42" y1="243.10" x2="261.42" y2="245.10" stroke="#1a1aff" stroke-width="0.6" />
<line x1="247.56" y1="240.70" x2="247.56" y2="242.70" stroke="#1a1aff" stroke-width="0.6" />
<line x1="266.08" y1="243.10" x2="266.08" y2="245.10" stroke="#1a1aff" stroke-width="0.6" />
<line x1="267.96" y1="243.10" x2="267.96" y2="245.10" stroke="#1a1aff" stroke-width="0.6" />
<line x1="233.02" y1="239.57" x2="233.02" y2="241.57" stroke="#1a1aff" stroke-width="0.6" />
<line x1="245.70" y1="240.05" x2="245.70" y2="242.05" stroke="#1a1aff" stroke-width="0.6" />
<line x1="249.61" y1="241.30" x2="249.61" y2="243.30" stroke="#1a1aff" stroke-width="0.6" />
<line x1="289.29" y1="247.20" x2="289.29" y2="249.20" stroke="#1a1aff" stroke-width="0.6" />
<line x1="279.90" y1="244.50" x2="279.90" y2="246.50" stroke="#1a1aff" stroke-width="0.6" />
<line x1="242.14" y1="239.40" x2="242.14" y2="241.40" stroke="#1a1aff" stroke-width="0.6" />
<line x1="281.86" y1="244.50" x2="281.86" y2="246.50" stroke="#1a1aff" stroke-width="0.6" />
<line x1="240.85" y1="239.43" x2="240.85" y2="241.43" stroke="#1a1aff" stroke-width="0.6" />
<line x1="270.67" y1="244.50" x2="270.67" y2="246.50" stroke="#1a1aff" stroke-width="0.6" />
<line x1="240.09" y1="239.43" x2="240.09" y2="241.43" stroke="#1a1aff" stroke-width="0.6" />
<line x1="232.31" y1="239.60" x2="232.31" y2="241.60" stroke="#1a1aff" stroke-width="0.6" />
<line x1="286.49" y1="244.50" x2="286.49" y2="246.50" stroke="#1a1aff" stroke-width="0.6" />
<line x1="245.25" y1="240.05" x2="245.25" y2="242.05" stroke="#1a1aff" stroke-width="0.6" />
<line x1="245.62" y1="240.05" x2="245.62" y2="242.05" stroke="#1a1aff" stroke-width="0.6" />
<line x1="293.40" y1="247.20" x2="293.40" y2="249.20" stroke="#1a1aff" stroke-width="0.6" />
<line x1="286.55" y1="244.50" x2="286.55" y2="246.50" stroke="#1a1aff" stroke-width="0.6" />
<polyline points="231.20,240.60 232.60,240.60 232.60,242.40 235.20,242.40 235.20,246.40 237.40,246.40 237.40,246.85 239.60,246.85 239.60,247.30 241.67,247.30 241.67,247.60 243.73,247.60 243.73,247.90 245.80,247.90 245.80,248.20 247.78,248.20 247.78,248.50 249.75,248.50 249.75,248.80 251.72,248.80 251.72,249.10 253.70,249.10 253.70,249.40 255.46,249.40 255.46,249.68 257.22,249.68 257.22,249.96 258.98,249.96 258.98,250.24 260.74,250.24 260.74,250.52 262.50,250.52 262.50,250.80 264.11,250.80 264.11,250.80 265.73,250.80 265.73,250.80 267.34,250.80 267.34,250.80 268.95,250.80 268.95,250.80 270.57,250.80 270.57,250.80 272.18,250.80 272.18,250.80 273.79,250.80 273.79,250.80 275.41,250.80 275.41,250.80 277.02,250.80 277.02,250.80 278.63,250.80 278.63,250.80 280.25,250.80 280.25,250.80 281.86,250.80 281.86,250.80 283.47,250.80 283.47,250.80 285.09,250.80 285.09,250.80 286.70,250.80 286.70,250.80 286.70,260.50 288.36,260.50 288.36,260.50 290.02,260.50 290.02,260.50 291.68,260.50 291.68,260.50 293.34,260.50 293.34,260.50 295.00,260.50 295.00,260.50" fill="none" stroke="#ff1a1a" stroke-width="1.3" stroke-linejoin="round"/>
<line x1="281.63" y1="249.80" x2="281.63" y2="251.80" stroke="#ff1a1a" stroke-width="0.6" />
<line x1="283.41" y1="249.80" x2="283.41" y2="251.80" stroke="#ff1a1a" stroke-width="0.6" />
<line x1="262.42" y1="249.52" x2="262.42" y2="251.52" stroke="#ff1a1a" stroke-width="0.6" />
<line x1="248.50" y1="247.50" x2="248.50" y2="249.50" stroke="#ff1a1a" stroke-width="0.6" />
<line x1="232.23" y1="239.60" x2="232.23" y2="241.60" stroke="#ff1a1a" stroke-width="0.6" />
<line x1="273.49" y1="249.80" x2="273.49" y2="251.80" stroke="#ff1a1a" stroke-width="0.6" />
<line x1="261.50" y1="249.52" x2="261.50" y2="251.52" stroke="#ff1a1a" stroke-width="0.6" />
<line x1="279.53" y1="249.80" x2="279.53" y2="251.80" stroke="#ff1a1a" stroke-width="0.6" />
<line x1="255.45" y1="248.40" x2="255.45" y2="250.40" stroke="#ff1a1a" stroke-width="0.6" />
<line x1="280.18" y1="249.80" x2="280.18" y2="251.80" stroke="#ff1a1a" stroke-width="0.6" />
<line x1="249.19" y1="247.50" x2="249.19" y2="249.50" stroke="#ff1a1a" stroke-width="0.6" />
<line x1="282.16" y1="249.80" x2="282.16" y2="251.80" stroke="#ff1a1a" stroke-width="0.6" />
<line x1="277.67" y1="249.80" x2="277.67" y2="251.80" stroke="#ff1a1a" stroke-width="0.6" />
<line x1="257.99" y1="248.96" x2="257.99" y2="250.96" stroke="#ff1a1a" stroke-width="0.6" />
<line x1="265.74" y1="249.80" x2="265.74" y2="251.80" stroke="#ff1a1a" stroke-width="0.6" />
<line x1="274.69" y1="249.80" x2="274.69" y2="251.80" stroke="#ff1a1a" stroke-width="0.6" />
<line x1="244.22" y1="246.90" x2="244.22" y2="248.90" stroke="#ff1a1a" stroke-width="0.6" />
<line x1="266.69" y1="249.80" x2="266.69" y2="251.80" stroke="#ff1a1a" stroke-width="0.6" />
<line x1="282.36" y1="249.80" x2="282.36" y2="251.80" stroke="#ff1a1a" stroke-width="0.6" />
<line x1="248.74" y1="247.50" x2="248.74" y2="249.50" stroke="#ff1a1a" stroke-width="0.6" />
<line x1="282.25" y1="249.80" x2="282.25" y2="251.80" stroke="#ff1a1a" stroke-width="0.6" />
<line x1="274.92" y1="249.80" x2="274.92" y2="251.80" stroke="#ff1a1a" stroke-width="0.6" />
<line x1="284.80" y1="249.80" x2="284.80" y2="251.80" stroke="#ff1a1a" stroke-width="0.6" />
<line x1="253.11" y1="248.10" x2="253.11" y2="250.10" stroke="#ff1a1a" stroke-width="0.6" />
<line x1="251.00" y1="275.80" x2="254.30" y2="275.80" stroke="#1a1aff" stroke-width="1.1" />
<text x="255.10" y="276.60" font-size="2.3" text-anchor="start" fill="#222" font-weight="normal"  stroke="#222" stroke-width="0.06">Cand1<tspan font-size="2.4" dy="-1.2">lo</tspan></text>
<line x1="267.30" y1="275.80" x2="270.60" y2="275.80" stroke="#ff1a1a" stroke-width="1.1" />
<text x="271.40" y="276.60" font-size="2.3" text-anchor="start" fill="#222" font-weight="normal"  stroke="#222" stroke-width="0.06">Cand1<tspan font-size="2.4" dy="-1.2">hi</tspan></text>
<text x="230.40" y="261.40" font-size="1.95" text-anchor="start" fill="#222" font-weight="normal"  stroke="#222" stroke-width="0.06">+ Marked Censored</text>
<text x="230.40" y="264.80" font-size="1.95" text-anchor="start" fill="#222" font-weight="normal"  stroke="#222" stroke-width="0.06">+ Wilcoxon</text>
<text x="219.73" y="259.30" font-size="2.3" text-anchor="middle" fill="#222" textLength="17.80" lengthAdjust="spacingAndGlyphs" stroke="#222" stroke-width="0.06" transform="rotate(-90 219.73 259.30)">Survival probability</text>
<text x="228.30" y="293.10" font-size="2.5" text-anchor="start" fill="#555" font-weight="normal"  stroke="#555" stroke-width="0.06">Number at risk</text>
<text x="226.00" y="297.70" font-size="2.4" text-anchor="end" fill="#4040ff" font-weight="normal"  stroke="#4040ff" stroke-width="0.06">Cand1<tspan font-size="2.4" dy="-1.2">lo</tspan></text>
<text x="226.00" y="300.90" font-size="2.4" text-anchor="end" fill="#ff4040" font-weight="normal"  stroke="#ff4040" stroke-width="0.06">Cand1<tspan font-size="2.4" dy="-1.2">hi</tspan></text>
<line x1="228.20" y1="295.20" x2="228.20" y2="301.40" stroke="#666" stroke-width="0.5" />
<text x="231.40" y="297.70" font-size="2.5" text-anchor="middle" fill="#555" font-weight="normal"  stroke="#555" stroke-width="0.06">86</text>
<text x="231.40" y="300.90" font-size="2.5" text-anchor="middle" fill="#555" font-weight="normal"  stroke="#555" stroke-width="0.06">80</text>
<text x="251.40" y="297.70" font-size="2.5" text-anchor="middle" fill="#555" font-weight="normal"  stroke="#555" stroke-width="0.06">64</text>
<text x="251.40" y="300.90" font-size="2.5" text-anchor="middle" fill="#555" font-weight="normal"  stroke="#555" stroke-width="0.06">46</text>
<text x="271.40" y="297.70" font-size="2.5" text-anchor="middle" fill="#555" font-weight="normal"  stroke="#555" stroke-width="0.06">29</text>
<text x="271.40" y="300.90" font-size="2.5" text-anchor="middle" fill="#555" font-weight="normal"  stroke="#555" stroke-width="0.06">28</text>
<text x="292.30" y="297.70" font-size="2.5" text-anchor="middle" fill="#555" font-weight="normal"  stroke="#555" stroke-width="0.06">3</text>
<text x="292.30" y="300.90" font-size="2.5" text-anchor="middle" fill="#555" font-weight="normal"  stroke="#555" stroke-width="0.06">2</text>
<line x1="228.50" y1="301.50" x2="293.00" y2="301.50" stroke="#666" stroke-width="0.8" />
<line x1="231.40" y1="301.50" x2="231.40" y2="302.30" stroke="#666" stroke-width="0.4" />
<text x="231.40" y="304.50" font-size="2.5" text-anchor="middle" fill="#555" font-weight="normal"  stroke="#555" stroke-width="0.06">0</text>
<line x1="251.40" y1="301.50" x2="251.40" y2="302.30" stroke="#666" stroke-width="0.4" />
<text x="251.40" y="304.50" font-size="2.5" text-anchor="middle" fill="#555" font-weight="normal"  stroke="#555" stroke-width="0.06">20</text>
<line x1="271.40" y1="301.50" x2="271.40" y2="302.30" stroke="#666" stroke-width="0.4" />
<text x="271.40" y="304.50" font-size="2.5" text-anchor="middle" fill="#555" font-weight="normal"  stroke="#555" stroke-width="0.06">40</text>
<line x1="292.30" y1="301.50" x2="292.30" y2="302.30" stroke="#666" stroke-width="0.4" />
<text x="292.30" y="304.50" font-size="2.5" text-anchor="middle" fill="#555" font-weight="normal"  stroke="#555" stroke-width="0.06">60</text>
<text x="261.85" y="308.00" font-size="2.6" text-anchor="middle" fill="#555" font-weight="normal"  stroke="#555" stroke-width="0.06">bRFS, months</text>
<text x="307.25" y="241.10" font-size="9.8" fill="#000" stroke="#000" stroke-width="0.45" font-weight="bold" textLength="4.60" lengthAdjust="spacingAndGlyphs">P</text>
<line x1="336.20" y1="239.20" x2="336.20" y2="280.30" stroke="#333" stroke-width="0.45" />
<line x1="335.30" y1="241.20" x2="336.20" y2="241.20" stroke="#333" stroke-width="0.4" />
<text x="334.70" y="242.11" font-size="2.6" text-anchor="end" fill="#333" font-weight="normal"  stroke="#333" stroke-width="0.06">1.00</text>
<line x1="335.30" y1="250.50" x2="336.20" y2="250.50" stroke="#333" stroke-width="0.4" />
<text x="334.70" y="251.41" font-size="2.6" text-anchor="end" fill="#333" font-weight="normal"  stroke="#333" stroke-width="0.06">0.75</text>
<line x1="335.30" y1="259.60" x2="336.20" y2="259.60" stroke="#333" stroke-width="0.4" />
<text x="334.70" y="260.51" font-size="2.6" text-anchor="end" fill="#333" font-weight="normal"  stroke="#333" stroke-width="0.06">0.50</text>
<line x1="335.30" y1="268.90" x2="336.20" y2="268.90" stroke="#333" stroke-width="0.4" />
<text x="334.70" y="269.81" font-size="2.6" text-anchor="end" fill="#333" font-weight="normal"  stroke="#333" stroke-width="0.06">0.25</text>
<line x1="335.30" y1="278.10" x2="336.20" y2="278.10" stroke="#333" stroke-width="0.4" />
<text x="334.70" y="279.01" font-size="2.6" text-anchor="end" fill="#333" font-weight="normal"  stroke="#333" stroke-width="0.06">0.00</text>
<line x1="336.20" y1="280.30" x2="403.50" y2="280.30" stroke="#333" stroke-width="0.45" />
<line x1="339.00" y1="280.30" x2="339.00" y2="281.20" stroke="#333" stroke-width="0.4" />
<text x="339.00" y="283.70" font-size="2.6" text-anchor="middle" fill="#333" font-weight="normal"  stroke="#333" stroke-width="0.06">0</text>
<line x1="351.30" y1="280.30" x2="351.30" y2="281.20" stroke="#333" stroke-width="0.4" />
<text x="351.30" y="283.70" font-size="2.6" text-anchor="middle" fill="#333" font-weight="normal"  stroke="#333" stroke-width="0.06">1000</text>
<line x1="363.60" y1="280.30" x2="363.60" y2="281.20" stroke="#333" stroke-width="0.4" />
<text x="363.60" y="283.70" font-size="2.6" text-anchor="middle" fill="#333" font-weight="normal"  stroke="#333" stroke-width="0.06">2000</text>
<line x1="375.90" y1="280.30" x2="375.90" y2="281.20" stroke="#333" stroke-width="0.4" />
<text x="375.90" y="283.70" font-size="2.6" text-anchor="middle" fill="#333" font-weight="normal"  stroke="#333" stroke-width="0.06">3000</text>
<line x1="388.20" y1="280.30" x2="388.20" y2="281.20" stroke="#333" stroke-width="0.4" />
<text x="388.20" y="283.70" font-size="2.6" text-anchor="middle" fill="#333" font-weight="normal"  stroke="#333" stroke-width="0.06">4000</text>
<line x1="400.50" y1="280.30" x2="400.50" y2="281.20" stroke="#333" stroke-width="0.4" />
<text x="400.50" y="283.70" font-size="2.6" text-anchor="middle" fill="#333" font-weight="normal"  stroke="#333" stroke-width="0.06">5000</text>
<text x="369.75" y="286.90" font-size="2.6" text-anchor="middle" fill="#222" font-weight="normal"  stroke="#222" stroke-width="0.06">bRFS, days</text>
<polyline points="339.00,241.20 340.90,241.20 340.90,241.20 342.80,241.20 342.80,241.20 344.60,241.20 344.60,241.80 346.40,241.80 346.40,242.40 348.15,242.40 348.15,243.55 349.90,243.55 349.90,244.70 351.60,244.70 351.60,245.90 353.32,245.90 353.32,245.90 355.04,245.90 355.04,245.90 356.77,245.90 356.77,245.90 358.49,245.90 358.49,245.90 360.21,245.90 360.21,245.90 361.93,245.90 361.93,245.90 363.66,245.90 363.66,245.90 365.38,245.90 365.38,245.90 367.10,245.90 367.10,245.90 367.10,250.50 368.80,250.50 368.80,250.50 370.50,250.50 370.50,250.50 372.20,250.50 372.20,250.50 373.90,250.50 373.90,250.50 375.60,250.50 375.60,250.50 377.30,250.50 377.30,250.50 379.00,250.50 379.00,250.50 380.70,250.50 380.70,250.50 382.40,250.50 382.40,250.50" fill="none" stroke="#1a1aff" stroke-width="1.3" stroke-linejoin="round"/>
<line x1="353.57" y1="244.90" x2="353.57" y2="246.90" stroke="#1a1aff" stroke-width="0.6" />
<line x1="346.32" y1="240.80" x2="346.32" y2="242.80" stroke="#1a1aff" stroke-width="0.6" />
<line x1="367.27" y1="249.50" x2="367.27" y2="251.50" stroke="#1a1aff" stroke-width="0.6" />
<line x1="343.04" y1="240.20" x2="343.04" y2="242.20" stroke="#1a1aff" stroke-width="0.6" />
<line x1="362.45" y1="244.90" x2="362.45" y2="246.90" stroke="#1a1aff" stroke-width="0.6" />
<line x1="355.32" y1="244.90" x2="355.32" y2="246.90" stroke="#1a1aff" stroke-width="0.6" />
<line x1="342.43" y1="240.20" x2="342.43" y2="242.20" stroke="#1a1aff" stroke-width="0.6" />
<line x1="361.26" y1="244.90" x2="361.26" y2="246.90" stroke="#1a1aff" stroke-width="0.6" />
<line x1="341.57" y1="240.20" x2="341.57" y2="242.20" stroke="#1a1aff" stroke-width="0.6" />
<line x1="358.17" y1="244.90" x2="358.17" y2="246.90" stroke="#1a1aff" stroke-width="0.6" />
<line x1="342.93" y1="240.20" x2="342.93" y2="242.20" stroke="#1a1aff" stroke-width="0.6" />
<line x1="343.80" y1="240.20" x2="343.80" y2="242.20" stroke="#1a1aff" stroke-width="0.6" />
<line x1="357.79" y1="244.90" x2="357.79" y2="246.90" stroke="#1a1aff" stroke-width="0.6" />
<line x1="374.65" y1="249.50" x2="374.65" y2="251.50" stroke="#1a1aff" stroke-width="0.6" />
<line x1="345.19" y1="240.80" x2="345.19" y2="242.80" stroke="#1a1aff" stroke-width="0.6" />
<line x1="349.35" y1="242.55" x2="349.35" y2="244.55" stroke="#1a1aff" stroke-width="0.6" />
<line x1="366.29" y1="244.90" x2="366.29" y2="246.90" stroke="#1a1aff" stroke-width="0.6" />
<line x1="379.71" y1="249.50" x2="379.71" y2="251.50" stroke="#1a1aff" stroke-width="0.6" />
<line x1="364.18" y1="244.90" x2="364.18" y2="246.90" stroke="#1a1aff" stroke-width="0.6" />
<line x1="356.62" y1="244.90" x2="356.62" y2="246.90" stroke="#1a1aff" stroke-width="0.6" />
<line x1="380.91" y1="249.50" x2="380.91" y2="251.50" stroke="#1a1aff" stroke-width="0.6" />
<line x1="341.95" y1="240.20" x2="341.95" y2="242.20" stroke="#1a1aff" stroke-width="0.6" />
<line x1="375.97" y1="249.50" x2="375.97" y2="251.50" stroke="#1a1aff" stroke-width="0.6" />
<line x1="352.13" y1="244.90" x2="352.13" y2="246.90" stroke="#1a1aff" stroke-width="0.6" />
<line x1="346.04" y1="240.80" x2="346.04" y2="242.80" stroke="#1a1aff" stroke-width="0.6" />
<line x1="344.94" y1="240.80" x2="344.94" y2="242.80" stroke="#1a1aff" stroke-width="0.6" />
<line x1="352.93" y1="244.90" x2="352.93" y2="246.90" stroke="#1a1aff" stroke-width="0.6" />
<line x1="374.20" y1="249.50" x2="374.20" y2="251.50" stroke="#1a1aff" stroke-width="0.6" />
<line x1="347.57" y1="241.40" x2="347.57" y2="243.40" stroke="#1a1aff" stroke-width="0.6" />
<line x1="364.37" y1="244.90" x2="364.37" y2="246.90" stroke="#1a1aff" stroke-width="0.6" />
<polyline points="339.00,241.20 340.85,241.20 340.85,241.62 342.70,241.62 342.70,242.05 344.55,242.05 344.55,242.47 346.40,242.47 346.40,242.90 348.15,242.90 348.15,244.05 349.90,244.05 349.90,245.20 351.65,245.20 351.65,246.70 353.40,246.70 353.40,248.20 355.15,248.20 355.15,249.50 356.90,249.50 356.90,250.80 359.10,250.80 359.10,251.70 361.30,251.70 361.30,252.60 362.20,252.60 362.20,258.70 363.90,258.70 363.90,261.00 365.70,261.00 365.70,261.60 367.50,261.60 367.50,262.20 369.20,262.20 369.20,264.00 370.85,264.00 370.85,264.00 372.50,264.00 372.50,264.00 374.15,264.00 374.15,264.00 375.80,264.00 375.80,264.00 377.45,264.00 377.45,264.00 379.10,264.00 379.10,264.00 380.75,264.00 380.75,264.00 382.40,264.00 382.40,264.00 384.05,264.00 384.05,264.00 385.70,264.00 385.70,264.00 387.35,264.00 387.35,264.00 389.00,264.00 389.00,264.00 390.65,264.00 390.65,264.00 392.30,264.00 392.30,264.00 393.95,264.00 393.95,264.00 395.60,264.00 395.60,264.00" fill="none" stroke="#ff1a1a" stroke-width="1.3" stroke-linejoin="round"/>
<line x1="352.49" y1="245.70" x2="352.49" y2="247.70" stroke="#ff1a1a" stroke-width="0.6" />
<line x1="393.02" y1="263.00" x2="393.02" y2="265.00" stroke="#ff1a1a" stroke-width="0.6" />
<line x1="346.96" y1="241.90" x2="346.96" y2="243.90" stroke="#ff1a1a" stroke-width="0.6" />
<line x1="378.84" y1="263.00" x2="378.84" y2="265.00" stroke="#ff1a1a" stroke-width="0.6" />
<line x1="344.69" y1="241.47" x2="344.69" y2="243.47" stroke="#ff1a1a" stroke-width="0.6" />
<line x1="353.63" y1="247.20" x2="353.63" y2="249.20" stroke="#ff1a1a" stroke-width="0.6" />
<line x1="395.05" y1="263.00" x2="395.05" y2="265.00" stroke="#ff1a1a" stroke-width="0.6" />
<line x1="351.54" y1="244.20" x2="351.54" y2="246.20" stroke="#ff1a1a" stroke-width="0.6" />
<line x1="375.37" y1="263.00" x2="375.37" y2="265.00" stroke="#ff1a1a" stroke-width="0.6" />
<line x1="365.30" y1="260.00" x2="365.30" y2="262.00" stroke="#ff1a1a" stroke-width="0.6" />
<line x1="364.97" y1="260.00" x2="364.97" y2="262.00" stroke="#ff1a1a" stroke-width="0.6" />
<line x1="367.27" y1="260.60" x2="367.27" y2="262.60" stroke="#ff1a1a" stroke-width="0.6" />
<line x1="350.59" y1="244.20" x2="350.59" y2="246.20" stroke="#ff1a1a" stroke-width="0.6" />
<line x1="385.76" y1="263.00" x2="385.76" y2="265.00" stroke="#ff1a1a" stroke-width="0.6" />
<line x1="344.94" y1="241.47" x2="344.94" y2="243.47" stroke="#ff1a1a" stroke-width="0.6" />
<line x1="352.90" y1="245.70" x2="352.90" y2="247.70" stroke="#ff1a1a" stroke-width="0.6" />
<line x1="341.10" y1="240.62" x2="341.10" y2="242.62" stroke="#ff1a1a" stroke-width="0.6" />
<line x1="354.70" y1="247.20" x2="354.70" y2="249.20" stroke="#ff1a1a" stroke-width="0.6" />
<line x1="362.46" y1="257.70" x2="362.46" y2="259.70" stroke="#ff1a1a" stroke-width="0.6" />
<line x1="389.70" y1="263.00" x2="389.70" y2="265.00" stroke="#ff1a1a" stroke-width="0.6" />
<line x1="360.89" y1="250.70" x2="360.89" y2="252.70" stroke="#ff1a1a" stroke-width="0.6" />
<line x1="346.27" y1="241.47" x2="346.27" y2="243.47" stroke="#ff1a1a" stroke-width="0.6" />
<line x1="354.24" y1="247.20" x2="354.24" y2="249.20" stroke="#ff1a1a" stroke-width="0.6" />
<line x1="394.64" y1="263.00" x2="394.64" y2="265.00" stroke="#ff1a1a" stroke-width="0.6" />
<line x1="343.48" y1="241.05" x2="343.48" y2="243.05" stroke="#ff1a1a" stroke-width="0.6" />
<line x1="374.17" y1="263.00" x2="374.17" y2="265.00" stroke="#ff1a1a" stroke-width="0.6" />
<line x1="359.50" y1="239.90" x2="362.80" y2="239.90" stroke="#1a1aff" stroke-width="1.1" />
<text x="363.60" y="240.70" font-size="2.3" text-anchor="start" fill="#222" font-weight="normal"  stroke="#222" stroke-width="0.06">Cand1<tspan font-size="2.4" dy="-1.2">lo</tspan></text>
<line x1="377.80" y1="239.90" x2="381.10" y2="239.90" stroke="#ff1a1a" stroke-width="1.1" />
<text x="381.90" y="240.70" font-size="2.3" text-anchor="start" fill="#222" font-weight="normal"  stroke="#222" stroke-width="0.06">Cand1<tspan font-size="2.4" dy="-1.2">hi</tspan></text>
<text x="342.80" y="268.70" font-size="1.95" text-anchor="start" fill="#222" font-weight="normal"  stroke="#222" stroke-width="0.06">+ Marked Censored</text>
<text x="342.80" y="272.60" font-size="1.95" text-anchor="start" fill="#222" font-weight="normal"  stroke="#222" stroke-width="0.06">+ Wilcoxon</text>
<text x="325.23" y="259.60" font-size="2.3" text-anchor="middle" fill="#222" textLength="17.80" lengthAdjust="spacingAndGlyphs" stroke="#222" stroke-width="0.06" transform="rotate(-90 325.23 259.60)">Survival probability</text>
<text x="336.70" y="293.60" font-size="2.5" text-anchor="start" fill="#555" font-weight="normal"  stroke="#555" stroke-width="0.06">Number at risk</text>
<text x="334.40" y="298.30" font-size="2.4" text-anchor="end" fill="#4040ff" font-weight="normal"  stroke="#4040ff" stroke-width="0.06">Cand1<tspan font-size="2.4" dy="-1.2">lo</tspan></text>
<text x="334.40" y="300.90" font-size="2.4" text-anchor="end" fill="#ff4040" font-weight="normal"  stroke="#ff4040" stroke-width="0.06">Cand1<tspan font-size="2.4" dy="-1.2">hi</tspan></text>
<line x1="336.60" y1="295.80" x2="336.60" y2="301.40" stroke="#666" stroke-width="0.5" />
<text x="338.00" y="298.30" font-size="2.5" text-anchor="middle" fill="#555" font-weight="normal"  stroke="#555" stroke-width="0.06">2 117</text>
<text x="338.00" y="300.90" font-size="2.5" text-anchor="middle" fill="#555" font-weight="normal"  stroke="#555" stroke-width="0.06">102</text>
<text x="351.60" y="298.30" font-size="2.5" text-anchor="middle" fill="#555" font-weight="normal"  stroke="#555" stroke-width="0.06">67</text>
<text x="351.60" y="300.90" font-size="2.5" text-anchor="middle" fill="#555" font-weight="normal"  stroke="#555" stroke-width="0.06">49</text>
<text x="363.60" y="298.30" font-size="2.5" text-anchor="middle" fill="#555" font-weight="normal"  stroke="#555" stroke-width="0.06">19</text>
<text x="363.60" y="300.90" font-size="2.5" text-anchor="middle" fill="#555" font-weight="normal"  stroke="#555" stroke-width="0.06">7</text>
<text x="375.60" y="298.30" font-size="2.5" text-anchor="middle" fill="#555" font-weight="normal"  stroke="#555" stroke-width="0.06">3</text>
<text x="375.60" y="300.90" font-size="2.5" text-anchor="middle" fill="#555" font-weight="normal"  stroke="#555" stroke-width="0.06">1</text>
<text x="388.00" y="298.30" font-size="2.5" text-anchor="middle" fill="#555" font-weight="normal"  stroke="#555" stroke-width="0.06">1</text>
<text x="388.00" y="300.90" font-size="2.5" text-anchor="middle" fill="#555" font-weight="normal"  stroke="#555" stroke-width="0.06">0</text>
<text x="400.00" y="298.30" font-size="2.5" text-anchor="middle" fill="#555" font-weight="normal"  stroke="#555" stroke-width="0.06">0</text>
<text x="400.00" y="300.90" font-size="2.5" text-anchor="middle" fill="#555" font-weight="normal"  stroke="#555" stroke-width="0.06">0</text>
<line x1="336.20" y1="301.60" x2="401.00" y2="301.60" stroke="#666" stroke-width="0.8" />
<line x1="338.00" y1="301.60" x2="338.00" y2="302.40" stroke="#666" stroke-width="0.4" />
<text x="338.00" y="304.60" font-size="2.5" text-anchor="middle" fill="#555" font-weight="normal"  stroke="#555" stroke-width="0.06">0</text>
<line x1="351.60" y1="301.60" x2="351.60" y2="302.40" stroke="#666" stroke-width="0.4" />
<text x="351.60" y="304.60" font-size="2.5" text-anchor="middle" fill="#555" font-weight="normal"  stroke="#555" stroke-width="0.06">1000</text>
<line x1="363.60" y1="301.60" x2="363.60" y2="302.40" stroke="#666" stroke-width="0.4" />
<text x="363.60" y="304.60" font-size="2.5" text-anchor="middle" fill="#555" font-weight="normal"  stroke="#555" stroke-width="0.06">2000</text>
<line x1="375.60" y1="301.60" x2="375.60" y2="302.40" stroke="#666" stroke-width="0.4" />
<text x="375.60" y="304.60" font-size="2.5" text-anchor="middle" fill="#555" font-weight="normal"  stroke="#555" stroke-width="0.06">3000</text>
<line x1="388.00" y1="301.60" x2="388.00" y2="302.40" stroke="#666" stroke-width="0.4" />
<text x="388.00" y="304.60" font-size="2.5" text-anchor="middle" fill="#555" font-weight="normal"  stroke="#555" stroke-width="0.06">4000</text>
<line x1="400.00" y1="301.60" x2="400.00" y2="302.40" stroke="#666" stroke-width="0.4" />
<text x="400.00" y="304.60" font-size="2.5" text-anchor="middle" fill="#555" font-weight="normal"  stroke="#555" stroke-width="0.06">5000</text>
<text x="369.00" y="308.50" font-size="2.6" text-anchor="middle" fill="#555" font-weight="normal"  stroke="#555" stroke-width="0.06">bRFS, days</text>
<text x="428.75" y="175.90" font-size="9.8" fill="#000" stroke="#000" stroke-width="0.45" font-weight="bold" textLength="6.90" lengthAdjust="spacingAndGlyphs">Q</text>
<line x1="452.30" y1="167.30" x2="452.30" y2="295.00" stroke="#555" stroke-width="1.0" />
<line x1="451.80" y1="294.60" x2="538.00" y2="294.60" stroke="#444" stroke-width="1.0" />
<line x1="456.80" y1="167.30" x2="456.80" y2="294.60" stroke="#333" stroke-width="1.0" stroke-dasharray="2.2 3.4" stroke-dashoffset="4.2"/>
<line x1="468.00" y1="294.60" x2="468.00" y2="296.40" stroke="#111" stroke-width="0.7" />
<text x="468.00" y="302.40" font-size="5.0" text-anchor="middle" fill="#222" font-weight="normal"  stroke="#222" stroke-width="0.06">2</text>
<line x1="490.30" y1="294.60" x2="490.30" y2="296.40" stroke="#111" stroke-width="0.7" />
<text x="490.30" y="302.40" font-size="5.0" text-anchor="middle" fill="#222" font-weight="normal"  stroke="#222" stroke-width="0.06">4</text>
<line x1="512.60" y1="294.60" x2="512.60" y2="296.40" stroke="#111" stroke-width="0.7" />
<text x="512.60" y="302.40" font-size="5.0" text-anchor="middle" fill="#222" font-weight="normal"  stroke="#222" stroke-width="0.06">6</text>
<line x1="534.90" y1="294.60" x2="534.90" y2="296.40" stroke="#111" stroke-width="0.7" />
<text x="534.90" y="302.40" font-size="5.0" text-anchor="middle" fill="#222" font-weight="normal"  stroke="#222" stroke-width="0.06">8</text>
<text x="495.60" y="308.90" font-size="3.4" text-anchor="middle" fill="#222" font-weight="normal"  stroke="#222" stroke-width="0.06">HR</text>
<text x="449.30" y="185.30" font-size="5.3" text-anchor="end" fill="#222" font-weight="normal"  stroke="#222" stroke-width="0.06">TCGA</text>
<text x="449.30" y="190.60" font-size="5.3" text-anchor="end" fill="#222" font-weight="normal"  stroke="#222" stroke-width="0.06">bRFS, n = 419</text>
<line x1="456.88" y1="185.30" x2="486.84" y2="185.30" stroke="#222" stroke-width="0.9" />
<line x1="456.88" y1="182.90" x2="456.88" y2="187.70" stroke="#222" stroke-width="0.9" />
<line x1="486.84" y1="182.90" x2="486.84" y2="187.70" stroke="#222" stroke-width="0.9" />
<circle cx="467.11" cy="185.3" r="1.6" fill="#aaa" stroke="#222" stroke-width="0.8"/>
<text x="465.40" y="194.50" font-size="5.2" text-anchor="start" fill="#222" font-weight="normal"  stroke="#222" stroke-width="0.06">1.92 (1.003, 3.69) *</text>
<text x="449.30" y="214.60" font-size="5.3" text-anchor="end" fill="#222" font-weight="normal"  stroke="#222" stroke-width="0.06">GSE70769</text>
<text x="449.30" y="219.90" font-size="5.3" text-anchor="end" fill="#222" font-weight="normal"  stroke="#222" stroke-width="0.06">bRFS, n = 91</text>
<line x1="456.29" y1="216.10" x2="481.83" y2="216.10" stroke="#222" stroke-width="0.9" />
<line x1="456.29" y1="213.70" x2="456.29" y2="218.50" stroke="#222" stroke-width="0.9" />
<line x1="481.83" y1="213.70" x2="481.83" y2="218.50" stroke="#222" stroke-width="0.9" />
<circle cx="465.21" cy="216.1" r="1.6" fill="#aaa" stroke="#222" stroke-width="0.8"/>
<text x="466.90" y="224.70" font-size="5.2" text-anchor="start" fill="#222" font-weight="normal"  stroke="#222" stroke-width="0.06">1.75 (0.95, 3.24), ns</text>
<text x="449.30" y="246.00" font-size="5.3" text-anchor="end" fill="#222" font-weight="normal"  stroke="#222" stroke-width="0.06">GSE70768</text>
<text x="449.30" y="251.60" font-size="5.3" text-anchor="end" fill="#222" font-weight="normal"  stroke="#222" stroke-width="0.06">bRFS, n = 110</text>
<line x1="458.97" y1="246.40" x2="534.01" y2="246.40" stroke="#222" stroke-width="0.9" />
<line x1="458.97" y1="244.00" x2="458.97" y2="248.80" stroke="#222" stroke-width="0.9" />
<line x1="534.01" y1="244.00" x2="534.01" y2="248.80" stroke="#222" stroke-width="0.9" />
<circle cx="479.93" cy="246.4" r="1.6" fill="#aaa" stroke="#222" stroke-width="0.8"/>
<text x="480.50" y="257.10" font-size="5.2" text-anchor="start" fill="#222" font-weight="normal"  stroke="#222" stroke-width="0.06">3.07 (1.19, 7.92) *</text>
<text x="449.30" y="276.10" font-size="5.3" text-anchor="end" fill="#222" font-weight="normal"  stroke="#222" stroke-width="0.06">GSE16560</text>
<text x="449.30" y="281.70" font-size="5.3" text-anchor="end" fill="#222" font-weight="normal"  stroke="#222" stroke-width="0.06">OS, n = 280</text>
<line x1="458.52" y1="277.60" x2="468.33" y2="277.60" stroke="#222" stroke-width="0.9" />
<line x1="458.52" y1="275.20" x2="458.52" y2="280.00" stroke="#222" stroke-width="0.9" />
<line x1="468.33" y1="275.20" x2="468.33" y2="280.00" stroke="#222" stroke-width="0.9" />
<circle cx="462.76" cy="277.6" r="1.6" fill="#aaa" stroke="#222" stroke-width="0.8"/>
<text x="463.30" y="287.10" font-size="5.2" text-anchor="start" fill="#222" font-weight="normal"  stroke="#222" stroke-width="0.06">1.53 (1.15, 2.03) **</text>
</svg></body></html>
